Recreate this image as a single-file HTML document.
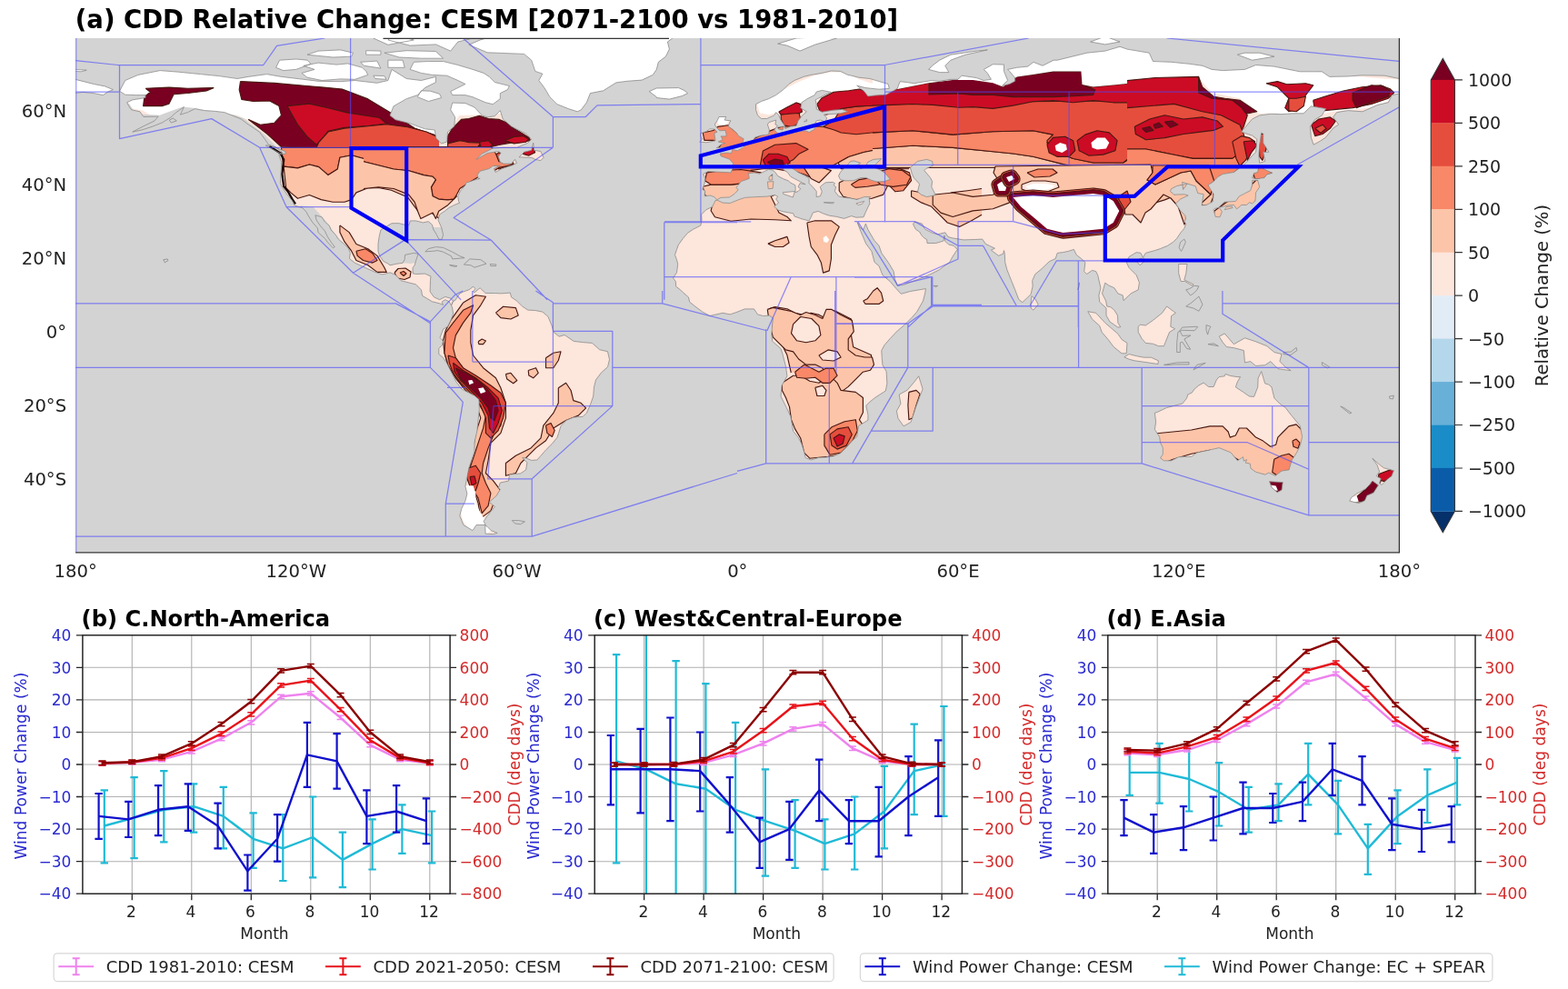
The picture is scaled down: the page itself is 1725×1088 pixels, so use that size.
<!DOCTYPE html>
<html><head><meta charset="utf-8"><title>CDD Relative Change</title>
<style>html,body{margin:0;padding:0;background:#fff;} svg{display:block;} text{font-family:"DejaVu Sans", "Liberation Sans", sans-serif;}</style>
</head><body>
<svg width="1725" height="1088" viewBox="0 0 1725 1088">
<rect width="1725" height="1088" fill="#fff"/>
<text x="82.8" y="30.6" font-size="27.5" font-weight="bold" fill="#000">(a) CDD Relative Change: CESM [2071-2100 vs 1981-2010]</text>
<clipPath id="mapclip"><rect x="83.1" y="42.0" width="1456.3" height="565.8"/></clipPath>
<g clip-path="url(#mapclip)">
<rect x="83.1" y="42.0" width="1456.3" height="565.8" fill="#d3d3d3"/>
<clipPath id="landclip"><path d="M131.6,100.2 L137.7,88.5 L151.9,82.4 L176.1,77.6 L196.4,79.2 L220.6,81.6 L240.9,83.6 L261.1,86.5 L273.2,84.4 L293.5,81.6 L309.6,84.4 L333.9,87.3 L350.1,89.3 L374.4,89.7 L390.5,88.5 L414.8,91.3 L426.9,88.5 L431.0,76.4 L447.2,86.5 L463.4,88.5 L479.5,84.4 L479.5,90.5 L467.4,96.6 L459.3,104.6 L447.2,108.7 L433.0,116.8 L429.0,126.9 L435.0,131.7 L451.2,135.8 L467.4,141.8 L478.3,143.0 L479.5,151.9 L485.6,158.0 L491.7,156.0 L492.5,145.1 L499.8,139.0 L500.6,128.9 L495.7,120.8 L497.7,113.1 L511.9,113.5 L522.0,118.0 L530.1,126.9 L536.2,128.9 L544.3,127.7 L550.3,121.6 L553.2,130.9 L562.5,139.0 L568.5,142.2 L578.6,147.1 L584.7,153.1 L580.7,157.2 L568.5,162.4 L552.4,162.4 L542.2,163.2 L530.1,169.3 L524.0,175.4 L536.2,168.5 L548.3,166.5 L551.1,168.1 L548.3,172.1 L550.3,178.6 L554.4,180.2 L562.5,180.2 L566.5,175.4 L568.5,179.4 L562.5,182.2 L552.4,185.5 L545.1,189.5 L543.5,185.5 L550.3,182.2 L542.2,182.6 L538.2,185.5 L528.1,188.3 L525.2,192.3 L526.1,196.4 L528.1,196.4 L522.0,198.0 L512.7,201.2 L511.9,203.7 L508.3,208.1 L506.6,209.7 L503.8,215.8 L504.6,221.8 L505.8,223.1 L499.8,225.5 L493.7,228.7 L489.7,231.9 L483.6,236.0 L482.0,242.1 L485.6,250.1 L487.6,258.2 L486.0,263.5 L482.8,263.1 L480.3,258.2 L476.7,252.2 L475.5,247.3 L471.4,243.7 L465.4,244.9 L457.3,242.9 L451.2,242.9 L450.0,247.7 L445.2,247.3 L439.1,245.7 L431.0,245.7 L426.9,248.1 L418.9,253.0 L417.2,260.2 L416.0,268.3 L416.0,276.4 L417.6,281.3 L421.7,287.3 L426.9,290.1 L429.0,291.8 L437.1,290.1 L443.1,289.3 L445.2,285.3 L445.6,280.4 L455.3,278.4 L460.1,279.2 L457.7,286.5 L456.1,291.8 L454.1,294.6 L454.1,300.7 L457.3,301.5 L467.4,301.1 L473.9,303.9 L473.5,308.7 L473.1,320.9 L477.5,326.9 L483.6,329.7 L489.7,326.5 L495.7,328.1 L498.6,331.4 L496.5,335.8 L494.1,331.8 L489.7,329.7 L486.0,332.2 L487.6,335.4 L483.6,333.8 L475.5,331.8 L464.6,325.3 L463.4,318.8 L457.3,312.8 L449.2,310.8 L441.1,308.7 L435.0,302.3 L429.0,299.8 L420.9,301.9 L412.8,299.4 L404.7,295.8 L398.6,293.0 L390.5,289.3 L384.5,284.5 L385.3,278.4 L383.3,273.2 L378.4,268.3 L372.3,263.1 L369.1,258.2 L364.2,253.0 L362.2,248.1 L357.4,244.1 L354.1,238.8 L346.9,236.8 L348.1,242.1 L352.1,248.1 L357.4,254.2 L360.2,260.2 L364.2,266.3 L368.3,271.6 L366.3,272.8 L360.2,266.3 L357.4,262.3 L350.1,255.8 L349.3,250.9 L344.0,244.9 L338.8,236.8 L337.1,233.2 L332.7,228.7 L323.8,225.9 L321.8,221.0 L315.7,213.8 L310.4,205.7 L308.4,201.6 L308.8,195.6 L309.2,187.5 L309.6,178.6 L306.8,169.7 L314.5,169.3 L313.7,166.5 L305.6,163.2 L295.5,159.2 L291.4,153.1 L285.4,145.1 L279.3,141.0 L273.2,137.0 L265.1,130.9 L257.0,127.7 L246.9,123.6 L236.8,122.4 L224.7,121.6 L214.6,119.6 L206.5,123.6 L198.4,126.1 L202.4,117.6 L192.3,124.8 L188.3,128.9 L178.2,135.0 L168.1,139.0 L155.9,143.0 L145.8,145.1 L155.9,139.8 L170.1,132.9 L174.1,128.1 L157.9,128.5 L153.9,122.8 L144.6,120.8 L141.8,116.8 L139.7,112.7 L145.8,109.9 L160.0,107.5 L160.0,104.6 L149.8,104.6 L137.7,104.2ZM515.9,49.3 L536.2,57.8 L576.6,59.4 L584.7,66.2 L588.8,78.4 L596.9,81.2 L592.8,88.5 L598.9,96.6 L604.9,106.7 L613.0,114.7 L625.2,119.6 L635.3,122.8 L639.3,120.8 L645.4,112.7 L649.4,102.6 L663.6,99.8 L677.8,90.9 L689.9,89.3 L706.1,88.1 L718.2,82.4 L722.3,76.4 L724.3,68.3 L732.4,62.2 L736.4,54.1 L734.4,46.0 L742.5,40.0 L742.5,29.9 L568.5,29.9 L548.3,38.0 L528.1,44.0ZM560.4,94.5 L558.4,98.6 L550.3,102.6 L550.3,108.7 L542.2,114.7 L534.1,112.7 L520.0,106.7 L511.9,104.6 L497.7,104.6 L495.7,100.6 L511.9,92.5 L503.8,88.5 L491.7,83.2 L475.5,82.4 L463.4,80.4 L451.2,76.4 L455.3,68.3 L471.4,67.5 L487.6,67.5 L503.8,71.5 L520.0,76.4 L532.1,80.4 L538.2,84.4 L544.3,90.5ZM404.7,82.4 L390.5,87.3 L374.4,86.9 L354.1,88.5 L338.0,85.2 L331.9,80.4 L346.0,76.4 L333.9,72.3 L350.1,69.1 L370.3,71.1 L382.5,69.9 L398.6,74.3 L402.7,78.4ZM342.0,70.3 L325.8,76.4 L311.7,77.6 L303.6,74.3 L307.6,66.2 L325.8,65.0 L338.0,66.2ZM487.6,64.2 L463.4,64.2 L439.1,63.0 L422.9,58.2 L447.2,55.7 L479.5,56.5ZM495.7,56.1 L479.5,48.9 L451.2,50.1 L426.9,44.0 L439.1,33.9 L560.4,29.9 L528.1,40.0 L503.8,46.0ZM445.2,74.3 L426.9,74.3 L426.9,66.2 L443.1,66.2ZM418.9,75.1 L400.7,72.3 L396.6,68.3 L414.8,67.1ZM386.5,62.2 L366.3,63.0 L338.0,60.2 L350.1,56.1 L374.4,54.9 L388.5,58.2ZM418.9,60.2 L402.7,60.2 L402.7,55.7 L418.9,56.1ZM455.3,44.0 L426.9,49.3 L410.8,42.0 L431.0,37.2ZM485.6,107.5 L471.4,111.5 L459.3,106.7 L463.4,99.8 L473.5,100.2 L483.6,103.4ZM424.9,87.3 L412.8,86.5 L410.8,83.2 L422.9,83.6ZM571.0,172.9 L576.6,167.3 L584.7,165.3 L586.7,157.2 L587.5,165.3 L594.8,166.5 L598.1,173.3 L594.8,176.6 L588.8,175.4 L584.7,173.3ZM311.7,169.7 L305.6,167.3 L292.2,160.0 L297.5,160.0 L303.6,162.0 L308.8,166.1ZM498.6,331.0 L500.6,330.6 L505.8,322.9 L509.9,320.9 L515.9,318.8 L520.8,315.2 L522.8,317.6 L520.4,320.9 L522.0,321.7 L528.1,316.8 L534.1,322.5 L544.3,322.5 L551.5,322.9 L561.3,322.1 L562.5,326.9 L568.5,331.0 L574.6,337.0 L580.7,341.1 L588.8,341.5 L596.9,343.1 L602.9,348.3 L607.0,358.0 L609.0,365.3 L615.1,370.2 L621.1,368.5 L631.2,375.4 L641.3,376.6 L651.5,377.4 L659.6,384.7 L668.5,386.7 L670.5,395.6 L668.5,403.7 L661.6,409.8 L655.5,417.9 L653.5,425.9 L652.7,436.0 L649.4,445.3 L645.4,454.2 L641.3,458.3 L631.2,459.1 L623.1,462.3 L617.1,468.4 L614.6,476.5 L613.0,481.3 L607.0,488.6 L600.9,494.6 L594.8,501.5 L590.8,506.0 L584.7,506.4 L578.6,503.9 L574.6,503.5 L579.9,508.8 L578.6,516.9 L572.6,520.9 L560.4,522.1 L559.6,529.0 L550.3,531.0 L548.3,537.1 L550.3,538.3 L546.3,545.2 L538.2,552.4 L544.3,557.3 L536.2,567.4 L532.1,573.4 L534.1,577.5 L524.0,577.5 L520.0,583.6 L509.9,577.5 L505.8,567.4 L507.9,559.3 L511.9,551.2 L513.9,543.1 L511.9,535.1 L513.9,525.0 L515.9,514.8 L520.0,502.7 L522.0,496.7 L522.0,486.6 L524.8,474.4 L526.1,462.3 L527.3,450.2 L526.9,439.3 L522.0,435.2 L507.9,428.0 L501.8,419.9 L497.7,411.8 L491.7,399.7 L487.6,393.6 L482.8,389.6 L482.8,383.5 L486.4,379.5 L487.6,375.4 L484.0,371.4 L487.6,362.1 L492.5,359.3 L496.5,351.2 L498.6,345.1 L497.7,339.0 L496.5,335.8ZM533.7,577.9 L534.1,587.2 L542.2,587.6 L547.1,586.4 L540.2,583.6 L536.2,579.5ZM788.6,219.8 L785.8,216.6 L781.3,215.0 L775.2,215.8 L775.7,209.7 L772.8,208.5 L775.2,201.6 L775.7,195.6 L773.6,191.5 L778.9,188.7 L787.8,189.1 L797.1,189.5 L804.0,189.9 L806.0,185.5 L806.4,179.4 L802.4,175.0 L793.0,171.7 L792.2,168.9 L799.1,168.1 L804.8,168.5 L805.6,164.5 L811.3,165.7 L817.3,162.4 L821.4,158.8 L825.4,157.2 L829.5,153.1 L830.7,151.1 L837.5,149.1 L845.6,147.9 L846.4,143.0 L844.4,137.0 L846.0,134.5 L853.7,132.1 L852.9,137.0 L855.3,138.2 L851.7,143.0 L854.9,145.9 L855.7,147.1 L861.8,145.5 L867.9,147.1 L876.0,145.1 L886.1,143.8 L890.1,145.5 L896.2,142.2 L896.2,137.0 L898.2,132.9 L902.3,132.1 L908.3,134.1 L909.6,129.7 L906.3,126.1 L924.5,124.8 L932.6,122.8 L926.5,120.4 L916.4,121.2 L904.3,123.2 L898.2,120.0 L898.2,114.7 L897.0,109.9 L910.4,103.0 L914.4,101.4 L904.3,99.4 L898.2,101.0 L896.2,104.6 L888.1,108.7 L882.0,112.7 L880.8,118.8 L887.3,122.8 L882.0,127.7 L878.0,132.9 L876.0,138.2 L869.9,139.0 L863.8,141.4 L863.0,137.8 L859.0,132.1 L856.6,126.5 L853.7,123.6 L851.7,126.9 L843.6,130.5 L837.5,130.5 L833.5,126.9 L831.5,120.8 L831.5,114.7 L837.5,111.5 L845.6,108.7 L853.7,104.6 L861.8,98.6 L867.9,92.5 L874.0,88.5 L884.1,84.4 L892.2,82.4 L904.3,80.4 L914.4,78.0 L924.5,78.4 L932.6,82.4 L936.7,83.2 L944.7,85.2 L956.9,86.5 L977.1,92.5 L978.3,97.4 L967.0,98.2 L952.0,96.6 L942.7,94.1 L950.8,100.6 L954.9,105.9 L962.9,105.0 L975.1,104.2 L987.2,97.4 L990.1,89.7 L997.3,90.5 L1005.4,91.7 L1025.6,88.5 L1033.7,89.3 L1045.9,87.3 L1054.0,87.3 L1058.0,83.2 L1074.2,85.6 L1082.3,88.5 L1090.4,87.3 L1086.3,80.4 L1082.3,76.4 L1092.4,70.7 L1104.5,71.1 L1104.5,78.4 L1108.6,88.5 L1102.5,94.5 L1110.6,92.5 L1116.7,89.3 L1116.7,85.6 L1110.6,78.4 L1108.6,76.4 L1118.7,74.3 L1130.8,73.1 L1136.9,68.3 L1147.0,72.3 L1159.1,66.2 L1163.2,66.2 L1195.6,58.2 L1215.8,56.1 L1232.0,51.3 L1240.0,54.1 L1264.3,58.2 L1268.4,67.5 L1288.6,68.3 L1308.8,70.3 L1323.0,72.3 L1333.1,76.4 L1345.2,77.6 L1369.5,76.4 L1381.6,71.5 L1401.9,73.1 L1418.0,76.4 L1430.2,78.8 L1454.4,78.8 L1462.5,84.4 L1482.8,84.0 L1498.9,82.8 L1523.2,83.2 L1541.4,86.9 L1541.4,102.6 L1531.3,104.6 L1527.3,112.7 L1515.1,115.6 L1498.9,122.8 L1482.8,121.6 L1470.6,123.6 L1466.6,128.9 L1472.7,137.0 L1466.6,141.0 L1458.5,151.1 L1452.4,155.2 L1445.1,159.2 L1442.3,151.1 L1441.5,139.0 L1446.4,131.7 L1454.4,126.9 L1458.5,119.6 L1442.3,116.8 L1434.2,124.8 L1422.1,124.8 L1410.0,125.7 L1397.8,125.3 L1385.7,126.9 L1377.6,130.9 L1365.5,145.1 L1377.6,149.1 L1382.8,153.1 L1381.6,167.3 L1377.6,171.3 L1369.5,180.2 L1357.4,189.5 L1345.2,191.5 L1340.0,194.4 L1335.1,199.6 L1329.0,203.7 L1335.1,213.8 L1334.3,221.8 L1327.0,225.5 L1322.2,225.9 L1323.0,219.8 L1324.2,213.8 L1317.7,212.5 L1315.3,204.9 L1304.8,201.6 L1300.7,200.4 L1301.5,208.5 L1306.0,202.4 L1294.7,204.5 L1288.6,207.7 L1287.4,210.5 L1291.8,214.2 L1302.8,213.8 L1307.2,215.0 L1298.7,219.0 L1293.4,223.9 L1298.7,231.9 L1304.0,237.2 L1304.4,240.4 L1302.8,244.1 L1304.8,246.1 L1302.8,251.3 L1298.7,256.2 L1294.7,262.3 L1290.6,266.3 L1284.5,270.3 L1276.5,273.6 L1270.4,275.6 L1260.3,278.4 L1257.4,283.3 L1255.0,278.4 L1250.2,277.6 L1242.1,282.5 L1239.2,288.5 L1242.1,294.6 L1250.2,302.7 L1253.4,310.8 L1252.2,318.8 L1244.1,322.9 L1236.0,330.6 L1235.2,324.9 L1229.9,322.9 L1225.9,316.8 L1219.8,314.0 L1215.8,311.2 L1212.5,322.9 L1216.6,331.0 L1217.8,337.0 L1221.8,337.8 L1225.9,341.1 L1229.5,347.1 L1229.9,355.2 L1232.8,359.7 L1229.9,360.1 L1221.0,354.0 L1217.0,347.1 L1217.0,339.0 L1209.7,332.2 L1208.9,324.9 L1210.9,316.8 L1207.7,302.7 L1205.7,298.6 L1201.6,297.4 L1195.6,301.5 L1192.7,298.6 L1193.9,288.5 L1189.5,284.5 L1184.2,280.4 L1181.4,274.4 L1175.3,276.4 L1169.3,277.6 L1163.2,278.4 L1161.2,284.5 L1154.3,287.7 L1145.0,296.6 L1138.9,301.5 L1135.7,308.7 L1136.1,314.8 L1134.1,323.7 L1130.8,326.9 L1124.8,332.6 L1120.7,329.3 L1116.7,318.8 L1112.6,308.7 L1107.8,296.6 L1105.7,288.5 L1105.3,279.6 L1104.5,275.6 L1103.7,279.2 L1098.5,281.3 L1090.4,275.2 L1094.4,273.2 L1088.4,270.3 L1084.3,268.3 L1080.7,263.1 L1072.2,263.5 L1060.0,263.9 L1047.9,261.9 L1043.0,260.6 L1039.8,255.8 L1031.7,257.8 L1025.6,256.2 L1017.6,252.2 L1014.3,246.1 L1007.4,244.1 L1005.4,244.9 L1004.6,246.9 L1007.4,252.2 L1011.5,255.0 L1014.3,259.4 L1016.8,261.9 L1019.6,263.5 L1020.0,267.5 L1029.7,267.5 L1037.8,265.1 L1039.0,259.0 L1039.4,265.1 L1043.9,269.1 L1049.1,270.3 L1053.2,274.4 L1047.9,282.5 L1044.7,288.5 L1037.8,293.4 L1033.7,296.6 L1022.4,302.3 L1009.5,307.5 L993.3,313.6 L987.2,314.0 L984.4,306.7 L983.2,298.6 L977.1,288.5 L969.8,278.4 L967.0,270.3 L961.7,264.3 L954.9,252.6 L952.4,246.1 L949.6,253.0 L946.0,250.1 L943.1,244.5 L946.8,254.2 L952.8,268.3 L958.9,276.4 L962.1,288.5 L967.0,292.6 L971.0,302.7 L979.1,309.5 L986.0,317.6 L991.3,323.3 L1001.4,320.5 L1018.4,317.6 L1017.6,322.9 L1015.5,331.0 L1008.7,343.1 L1003.4,349.1 L995.3,357.2 L987.2,364.1 L979.1,372.6 L973.1,379.5 L969.8,385.5 L970.2,393.6 L971.0,401.7 L975.1,408.6 L975.9,421.9 L974.3,430.0 L962.9,437.3 L956.9,442.1 L952.8,446.1 L954.9,456.2 L954.9,462.3 L944.7,468.4 L943.9,472.4 L942.7,480.5 L937.9,484.5 L932.6,490.6 L924.5,498.7 L916.4,501.9 L908.3,503.1 L900.2,503.5 L892.2,506.0 L886.1,503.5 L884.9,497.9 L882.0,488.6 L878.0,480.9 L872.7,474.4 L869.9,458.3 L865.1,448.2 L859.0,436.0 L860.2,423.9 L865.9,413.8 L864.6,403.7 L861.0,389.6 L859.0,383.5 L849.7,375.4 L848.9,367.3 L849.7,356.4 L850.5,350.0 L846.4,347.1 L839.6,347.5 L833.5,345.9 L829.5,339.9 L819.3,339.9 L811.3,343.1 L803.2,345.9 L795.1,344.3 L780.9,347.5 L772.8,343.1 L764.7,337.0 L758.7,332.2 L757.4,326.9 L751.4,321.7 L748.5,318.8 L743.7,315.2 L743.3,309.5 L740.5,305.9 L744.5,299.8 L745.7,290.5 L744.5,285.7 L742.5,280.4 L744.5,274.4 L746.5,269.1 L751.4,262.3 L756.6,256.2 L762.7,252.2 L770.8,248.1 L772.0,242.1 L771.6,236.0 L776.9,230.7 L783.7,227.5 L787.0,220.6 L789.0,220.2 L795.1,223.1 L803.2,223.5 L811.3,220.2 L819.3,217.4 L831.5,216.6 L843.6,216.2 L852.5,214.6 L855.7,216.2 L853.7,219.0 L856.6,223.1 L851.7,227.1 L855.7,231.1 L861.8,232.8 L872.7,234.8 L874.0,238.0 L882.0,240.8 L890.1,242.9 L892.6,238.0 L894.2,234.0 L900.2,232.4 L906.3,235.2 L912.4,237.2 L920.5,238.4 L928.6,240.4 L936.7,237.6 L941.9,239.2 L950.0,238.8 L952.0,234.0 L954.9,227.9 L956.9,223.9 L956.1,217.8 L957.7,216.6 L950.8,216.6 L942.7,219.4 L934.6,217.8 L928.6,217.4 L922.5,215.8 L918.4,210.5 L919.7,205.7 L917.2,203.7 L918.4,201.6 L916.4,200.4 L908.3,200.8 L904.3,203.7 L902.3,205.7 L904.3,210.9 L902.3,215.8 L898.2,216.6 L898.2,210.5 L894.2,205.7 L890.1,201.6 L890.1,196.4 L886.1,193.6 L878.0,189.5 L874.0,186.7 L867.9,182.6 L865.9,180.6 L861.0,182.2 L861.8,186.7 L866.3,189.5 L869.9,194.4 L876.0,197.6 L886.1,202.8 L880.0,201.6 L878.0,205.7 L880.8,207.7 L878.0,210.5 L874.8,211.7 L875.2,207.7 L874.8,203.7 L869.9,201.2 L867.1,198.8 L861.8,196.8 L855.7,193.6 L852.9,189.5 L849.7,187.1 L845.6,186.3 L841.6,188.3 L835.5,191.1 L829.5,189.9 L823.4,190.7 L824.2,195.6 L824.2,196.4 L815.3,199.6 L811.3,204.5 L810.0,206.5 L812.1,208.9 L808.0,213.4 L802.4,217.0 L793.0,217.4ZM81.1,86.9 L103.3,92.5 L115.5,94.9 L124.4,98.6 L119.5,100.6 L113.4,104.6 L103.3,102.6 L91.2,101.4 L81.1,102.6ZM788.2,162.8 L797.1,162.0 L807.2,160.4 L816.5,158.8 L818.1,152.7 L812.5,149.5 L810.4,146.3 L805.2,141.8 L801.1,139.0 L802.8,134.5 L804.0,132.9 L797.1,132.1 L798.7,128.5 L791.0,128.5 L789.0,132.9 L786.2,137.0 L789.0,141.0 L791.8,143.8 L797.9,143.4 L799.1,147.9 L798.7,149.9 L793.0,149.9 L794.3,151.9 L794.7,153.9 L790.2,156.0 L797.9,157.6 L794.3,158.4ZM787.0,154.8 L785.8,146.7 L789.0,145.1 L786.2,142.2 L780.9,141.8 L776.9,144.7 L770.8,146.7 L770.8,149.9 L772.8,153.1 L769.6,156.0 L776.9,156.8ZM722.3,106.7 L714.2,100.6 L722.3,97.0 L746.5,96.6 L752.6,99.4 L756.6,102.6 L750.6,105.5 L736.4,109.1 L722.3,107.5ZM1340.8,227.9 L1347.2,222.2 L1359.4,221.4 L1363.4,215.8 L1367.5,213.8 L1375.6,209.7 L1377.6,203.7 L1377.6,198.4 L1383.7,198.4 L1385.7,205.7 L1381.6,211.7 L1381.2,217.8 L1380.8,221.0 L1377.6,223.9 L1374.4,222.7 L1371.5,225.5 L1365.5,225.5 L1364.6,226.7 L1360.6,229.9 L1357.4,225.5 L1351.3,225.9 L1343.2,227.9ZM1335.1,230.7 L1337.1,238.4 L1342.0,238.8 L1344.4,232.8 L1341.2,228.3 L1336.3,229.5ZM1347.2,230.7 L1356.1,228.7 L1355.3,227.1 L1349.3,227.5ZM1377.6,195.6 L1379.6,190.7 L1383.7,189.5 L1384.9,181.8 L1391.7,186.7 L1399.8,190.3 L1393.8,191.9 L1390.9,195.6 L1381.6,196.8ZM1385.7,179.4 L1391.7,177.4 L1389.7,167.3 L1395.8,167.3 L1389.7,157.2 L1389.7,147.1 L1387.7,145.9 L1385.7,159.2 L1384.9,171.3ZM1250.6,287.7 L1254.2,291.8 L1260.3,286.1 L1258.3,284.1 L1253.4,284.5ZM1134.1,339.0 L1136.9,341.1 L1142.2,335.0 L1138.9,328.9 L1134.9,325.7 L1134.1,333.0ZM1296.7,290.5 L1306.0,290.5 L1304.8,300.7 L1302.8,307.9 L1312.9,312.8 L1312.1,314.4 L1303.6,309.5 L1299.1,309.5 L1296.7,300.7ZM1252.2,359.3 L1254.6,357.2 L1260.3,358.0 L1268.4,352.4 L1278.5,344.3 L1283.7,337.0 L1290.6,342.3 L1293.4,344.3 L1288.6,347.5 L1287.8,359.3 L1292.6,361.7 L1286.6,365.3 L1282.5,375.4 L1280.5,380.7 L1274.4,380.7 L1268.4,378.2 L1260.3,377.4 L1256.2,372.6 L1252.2,365.3ZM1196.8,342.7 L1205.7,344.3 L1215.8,355.2 L1229.9,367.3 L1234.0,373.4 L1240.0,377.4 L1239.2,388.8 L1234.0,388.8 L1225.1,381.5 L1219.0,373.4 L1212.1,365.3 L1209.7,358.4 L1201.6,351.2ZM1236.8,392.8 L1242.1,389.6 L1250.2,391.6 L1258.3,393.2 L1266.3,393.2 L1274.4,396.8 L1274.0,400.5 L1260.3,398.5 L1248.1,396.8 L1242.1,395.2ZM1341.2,370.2 L1347.2,366.9 L1357.4,378.7 L1369.5,371.8 L1381.6,375.8 L1393.8,380.7 L1401.9,387.5 L1410.0,389.6 L1407.9,397.6 L1414.0,403.7 L1420.1,407.7 L1405.9,405.7 L1397.8,397.6 L1391.7,401.7 L1381.6,402.5 L1375.6,397.6 L1369.5,398.9 L1368.3,385.5 L1357.4,382.7 L1349.3,381.5 L1345.2,376.6ZM1270.4,454.2 L1273.2,453.4 L1283.3,448.6 L1292.6,446.1 L1300.7,444.1 L1305.6,438.1 L1306.8,434.0 L1311.2,432.0 L1314.1,428.0 L1318.9,423.9 L1324.2,421.1 L1329.5,425.5 L1335.1,425.5 L1338.3,417.9 L1341.2,414.6 L1347.2,413.8 L1348.1,411.4 L1353.3,413.4 L1361.0,414.6 L1364.6,414.6 L1361.4,419.9 L1359.4,425.9 L1367.5,431.2 L1374.4,436.0 L1379.6,436.4 L1383.7,425.9 L1384.1,416.2 L1387.7,408.6 L1391.7,421.9 L1395.8,423.1 L1399.0,425.9 L1401.9,438.1 L1407.9,444.1 L1414.0,448.2 L1420.1,456.2 L1430.2,468.4 L1432.6,480.5 L1430.2,490.6 L1426.1,498.7 L1421.3,506.0 L1418.0,516.9 L1410.0,518.1 L1403.1,523.3 L1395.8,520.1 L1391.7,522.1 L1381.6,519.3 L1376.0,515.3 L1375.2,510.0 L1370.3,509.2 L1371.5,505.6 L1368.3,507.2 L1367.5,502.7 L1361.4,506.8 L1359.8,504.7 L1354.1,497.9 L1341.2,492.6 L1329.0,495.4 L1316.9,497.9 L1310.8,502.3 L1296.7,502.7 L1288.6,506.8 L1280.5,506.8 L1276.5,503.9 L1279.3,499.9 L1279.3,492.6 L1276.5,486.6 L1275.6,480.5 L1270.4,472.4 L1271.6,464.3ZM1396.6,529.8 L1411.2,530.6 L1410.0,539.1 L1405.1,541.5 L1399.0,536.3ZM1509.9,504.3 L1517.2,510.8 L1522.4,514.8 L1533.3,517.7 L1530.9,523.7 L1526.5,527.0 L1520.0,533.4 L1517.6,531.8 L1519.2,526.6 L1514.3,523.7 L1517.6,518.9 L1515.1,511.6ZM1509.9,529.0 L1516.3,533.8 L1511.1,541.9 L1503.8,545.2 L1501.4,550.8 L1494.9,553.6 L1484.8,551.2 L1486.8,547.2 L1492.5,543.1 L1502.2,537.9 L1507.0,533.0ZM1010.7,413.8 L1015.1,428.0 L1012.7,434.0 L1007.4,448.2 L1002.2,464.3 L994.1,468.8 L988.0,460.3 L986.4,452.2 L990.9,444.1 L989.2,434.0 L998.1,429.2 L1005.4,420.7ZM1021.6,76.4 L1033.7,79.6 L1043.9,79.6 L1039.8,72.3 L1045.9,66.2 L1062.1,60.2 L1086.3,54.9 L1074.2,56.1 L1045.9,60.2 L1033.7,66.2 L1025.6,72.3ZM855.7,48.1 L876.0,42.0 L900.2,40.8 L920.5,42.0 L896.2,49.3 L880.0,56.1 L865.9,50.1ZM1199.6,46.0 L1215.8,48.9 L1232.0,46.0 L1215.8,40.0ZM1361.4,60.2 L1377.6,66.2 L1401.9,62.2 L1385.7,58.2 L1369.5,58.2ZM81.1,76.4 L95.2,77.2 L89.2,78.8 L81.1,78.4ZM846.0,198.0 L849.7,198.0 L849.7,191.5 L846.0,194.8ZM845.2,207.7 L850.1,207.3 L850.9,199.6 L844.4,200.0ZM861.4,211.7 L874.4,210.5 L872.3,217.0 L861.8,213.4ZM906.3,222.7 L917.6,222.7 L916.4,223.9 L908.3,223.1ZM941.9,223.9 L950.8,221.4 L948.4,224.3 L944.3,225.5ZM855.3,140.2 L862.2,139.0 L861.0,143.0 L856.6,142.2ZM884.5,134.1 L887.3,131.3 L887.7,133.3Z"/></clipPath>
<g clip-path="url(#landclip)">
<rect x="83.1" y="42.0" width="1456.3" height="565.8" fill="#fde6dc"/>
<path d="M515.9,49.3 L536.2,57.8 L576.6,59.4 L584.7,66.2 L588.8,78.4 L596.9,81.2 L592.8,88.5 L598.9,96.6 L604.9,106.7 L613.0,114.7 L625.2,119.6 L635.3,122.8 L639.3,120.8 L645.4,112.7 L649.4,102.6 L663.6,99.8 L677.8,90.9 L689.9,89.3 L706.1,88.1 L718.2,82.4 L722.3,76.4 L724.3,68.3 L732.4,62.2 L736.4,54.1 L734.4,46.0 L742.5,40.0 L742.5,29.9 L568.5,29.9 L548.3,38.0 L528.1,44.0ZM560.4,94.5 L558.4,98.6 L550.3,102.6 L550.3,108.7 L542.2,114.7 L534.1,112.7 L520.0,106.7 L511.9,104.6 L497.7,104.6 L495.7,100.6 L511.9,92.5 L503.8,88.5 L491.7,83.2 L475.5,82.4 L463.4,80.4 L451.2,76.4 L455.3,68.3 L471.4,67.5 L487.6,67.5 L503.8,71.5 L520.0,76.4 L532.1,80.4 L538.2,84.4 L544.3,90.5ZM404.7,82.4 L390.5,87.3 L374.4,86.9 L354.1,88.5 L338.0,85.2 L331.9,80.4 L346.0,76.4 L333.9,72.3 L350.1,69.1 L370.3,71.1 L382.5,69.9 L398.6,74.3 L402.7,78.4ZM342.0,70.3 L325.8,76.4 L311.7,77.6 L303.6,74.3 L307.6,66.2 L325.8,65.0 L338.0,66.2ZM487.6,64.2 L463.4,64.2 L439.1,63.0 L422.9,58.2 L447.2,55.7 L479.5,56.5ZM495.7,56.1 L479.5,48.9 L451.2,50.1 L426.9,44.0 L439.1,33.9 L560.4,29.9 L528.1,40.0 L503.8,46.0ZM445.2,74.3 L426.9,74.3 L426.9,66.2 L443.1,66.2ZM418.9,75.1 L400.7,72.3 L396.6,68.3 L414.8,67.1ZM386.5,62.2 L366.3,63.0 L338.0,60.2 L350.1,56.1 L374.4,54.9 L388.5,58.2ZM418.9,60.2 L402.7,60.2 L402.7,55.7 L418.9,56.1ZM455.3,44.0 L426.9,49.3 L410.8,42.0 L431.0,37.2ZM485.6,107.5 L471.4,111.5 L459.3,106.7 L463.4,99.8 L473.5,100.2 L483.6,103.4ZM424.9,87.3 L412.8,86.5 L410.8,83.2 L422.9,83.6ZM722.3,106.7 L714.2,100.6 L722.3,97.0 L746.5,96.6 L752.6,99.4 L756.6,102.6 L750.6,105.5 L736.4,109.1 L722.3,107.5ZM855.7,48.1 L876.0,42.0 L900.2,40.8 L920.5,42.0 L896.2,49.3 L880.0,56.1 L865.9,50.1ZM1021.6,76.4 L1033.7,79.6 L1043.9,79.6 L1039.8,72.3 L1045.9,66.2 L1062.1,60.2 L1086.3,54.9 L1074.2,56.1 L1045.9,60.2 L1033.7,66.2 L1025.6,72.3ZM1199.6,46.0 L1215.8,48.9 L1232.0,46.0 L1215.8,40.0ZM1361.4,60.2 L1377.6,66.2 L1401.9,62.2 L1385.7,58.2 L1369.5,58.2ZM81.1,76.4 L95.2,77.2 L89.2,78.8 L81.1,78.4Z" fill="#fff" stroke="none"/>
<path d="M83.0,48.0 L640.0,48.0 L640.0,122.0 L575.0,122.0 L540.0,126.0 L505.0,127.0 L497.0,140.0 L488.0,152.0 L440.0,140.0 L300.0,112.0 L83.0,112.0Z" fill="#ffffff"/>
<path d="M140.9,87.8 L160.2,80.6 L186.0,78.0 L211.7,80.6 L237.4,83.2 L263.2,85.2 L288.9,87.0 L314.7,88.8 L340.4,91.4 L366.1,93.5 L386.7,94.8 L404.8,97.3 L425.3,103.8 L443.4,102.5 L464.0,103.8 L483.0,105.8 L483.0,152.7 L340.4,145.0 L306.9,137.2 L288.9,137.8 L273.5,132.1 L260.6,126.9 L247.7,124.4 L227.1,126.9 L206.6,126.9 L191.1,132.1 L180.8,135.2 L167.9,128.2 L157.6,121.8 L144.8,119.2 L140.1,111.5 L142.2,101.2 L138.3,93.5Z" fill="#ffffff"/>
<path d="M160.2,97.3 L186.0,96.1 L206.6,97.3 L234.9,96.6 L227.1,99.9 L206.6,102.5 L191.1,103.8 L186.0,114.1 L178.2,116.6 L157.6,116.6 L158.9,106.4 L165.4,101.2Z" fill="#7a0022"/>
<path d="M160.2,97.3 L186.0,96.1 L206.6,97.3 L234.9,96.6 L227.1,99.9 L206.6,102.5 L191.1,103.8 L186.0,114.1 L178.2,116.6 L157.6,116.6 L158.9,106.4 L165.4,101.2 L160.2,97.3" fill="none" stroke="#4a1812" stroke-width="1.15" stroke-linejoin="round"/>
<path d="M80.0,114.0 L142.0,114.0 L146.7,121.0 L157.0,125.7 L175.7,126.8 L185.0,123.3 L201.0,117.5 L212.8,118.7 L224.3,121.0 L241.7,123.3 L259.0,126.8 L268.0,130.0 L274.0,135.0 L288.0,145.4 L301.0,158.0 L310.0,170.0 L310.0,175.0 L80.0,175.0Z" fill="#d3d3d3"/>
<path d="M264.5,89.6 L301.8,91.4 L340.4,94.8 L355.8,96.1 L376.4,98.1 L404.8,108.9 L430.5,124.4 L456.2,141.1 L483.0,150.1 L483.0,162.5 L340.4,162.5 L309.5,161.7 L294.1,147.5 L273.5,131.6 L286.3,137.2 L301.8,135.2 L309.5,126.9 L306.9,116.6 L296.6,111.0 L278.6,111.5 L265.8,109.4 L263.2,98.6Z" fill="#7a0022"/>
<path d="M264.5,89.6 L301.8,91.4 L340.4,94.8 L355.8,96.1 L376.4,98.1 L404.8,108.9 L430.5,124.4 L456.2,141.1 L483.0,150.1M483.0,162.5 L340.4,162.5 L309.5,161.7 L294.1,147.5 L273.5,131.6 L286.3,137.2 L301.8,135.2 L309.5,126.9 L306.9,116.6 L296.6,111.0 L278.6,111.5 L265.8,109.4 L263.2,98.6 L264.5,89.6" fill="none" stroke="#4a1812" stroke-width="1.15" stroke-linejoin="round"/>
<path d="M315.9,116.6 L340.4,114.1 L361.0,118.7 L381.6,123.9 L417.6,129.5 L425.3,136.0 L404.8,138.5 L379.0,140.3 L361.0,144.4 L355.8,151.4 L348.1,159.1 L337.8,150.1 L327.5,137.2Z" fill="#cc0c25"/>
<path d="M315.9,116.6 L340.4,114.1 L361.0,118.7 L381.6,123.9 L417.6,129.5 L425.3,136.0 L404.8,138.5 L379.0,140.3 L361.0,144.4 L355.8,151.4 L348.1,159.1 L337.8,150.1 L327.5,137.2 L315.9,116.6" fill="none" stroke="#4a1812" stroke-width="1.15" stroke-linejoin="round"/>
<path d="M350.7,156.5 L361.0,145.0 L379.0,141.1 L404.8,138.8 L425.3,136.7 L448.5,139.8 L469.1,145.0 L483.0,151.4 L483.0,162.5 L348.1,162.5Z" fill="#e54e3d"/>
<path d="M350.7,156.5 L361.0,145.0 L379.0,141.1 L404.8,138.8 L425.3,136.7 L448.5,139.8 L469.1,145.0 L483.0,151.4M483.0,162.5 L348.1,162.5 L350.7,156.5" fill="none" stroke="#4a1812" stroke-width="1.15" stroke-linejoin="round"/>
<path d="M309.5,162.5 L483.0,162.5 L483.0,222.2 L474.2,219.6 L474.2,196.4 L483.0,190.0 L469.1,186.1 L443.4,187.4 L425.3,181.0 L404.8,175.8 L386.7,170.7 L373.9,173.3 L371.3,186.1 L361.0,192.6 L350.7,183.6 L340.4,181.0 L327.5,184.9 L312.1,183.1 L310.8,175.8Z" fill="#f88867"/>
<path d="M309.5,162.5 L483.0,162.5M483.0,222.2 L474.2,219.6 L474.2,196.4 L483.0,190.0 L469.1,186.1 L443.4,187.4 L425.3,181.0 L404.8,175.8 L386.7,170.7 L373.9,173.3 L371.3,186.1 L361.0,192.6 L350.7,183.6 L340.4,181.0 L327.5,184.9 L312.1,183.1 L310.8,175.8 L309.5,162.5" fill="none" stroke="#4a1812" stroke-width="1.15" stroke-linejoin="round"/>
<path d="M312.1,183.1 L327.5,184.9 L340.4,181.0 L350.7,183.6 L361.0,192.6 L371.3,186.1 L373.9,173.3 L386.7,170.7 L404.8,175.8 L425.3,181.0 L443.4,187.4 L469.1,186.1 L483.0,190.0 L474.2,196.4 L474.2,219.6 L483.0,222.2 L483.0,240.2 L474.2,233.8 L464.0,237.6 L456.2,227.3 L448.5,217.0 L430.5,209.3 L417.6,206.7 L404.8,206.7 L391.9,211.9 L386.7,219.6 L379.0,222.2 L366.1,222.2 L353.3,219.6 L340.4,214.5 L327.5,218.3 L319.8,211.9 L314.7,206.7Z" fill="#fcc5a9"/>
<path d="M312.1,183.1 L327.5,184.9 L340.4,181.0 L350.7,183.6 L361.0,192.6 L371.3,186.1 L373.9,173.3 L386.7,170.7 L404.8,175.8 L425.3,181.0 L443.4,187.4 L469.1,186.1 L483.0,190.0 L474.2,196.4 L474.2,219.6 L483.0,222.2M483.0,240.2 L474.2,233.8 L464.0,237.6 L456.2,227.3 L448.5,217.0 L430.5,209.3 L417.6,206.7 L404.8,206.7 L391.9,211.9 L386.7,219.6 L379.0,222.2 L366.1,222.2 L353.3,219.6 L340.4,214.5 L327.5,218.3 L319.8,211.9 L314.7,206.7 L312.1,183.1" fill="none" stroke="#4a1812" stroke-width="1.15" stroke-linejoin="round"/>
<path d="M373.9,247.9 L384.2,255.6 L391.9,268.5 L404.8,273.7 L415.0,281.4 L422.8,294.3 L425.3,299.4 L415.0,299.4 L404.8,291.7 L391.9,286.5 L386.7,276.2 L379.0,265.9 L373.9,255.6Z" fill="#fcc5a9"/>
<path d="M373.9,247.9 L384.2,255.6 L391.9,268.5 L404.8,273.7 L415.0,281.4 L422.8,294.3 L425.3,299.4 L415.0,299.4 L404.8,291.7 L391.9,286.5 L386.7,276.2 L379.0,265.9 L373.9,255.6 L373.9,247.9" fill="none" stroke="#4a1812" stroke-width="1.15" stroke-linejoin="round"/>
<path d="M391.9,276.2 L402.2,273.7 L409.9,278.8 L415.0,286.5 L409.9,289.1 L399.6,286.5 L393.2,281.4Z" fill="#f88867"/>
<path d="M391.9,276.2 L402.2,273.7 L409.9,278.8 L415.0,286.5 L409.9,289.1 L399.6,286.5 L393.2,281.4 L391.9,276.2" fill="none" stroke="#4a1812" stroke-width="1.15" stroke-linejoin="round"/>
<path d="M492.6,149.6 L497.6,141.3 L507.5,131.4 L515.8,130.6 L527.4,127.3 L537.3,130.6 L548.9,131.4 L557.1,134.7 L565.4,141.3 L573.7,146.3 L581.9,151.3 L583.6,154.6 L573.7,156.2 L562.1,157.1 L548.9,159.5 L540.6,161.5 L492.6,161.5Z" fill="#7a0022"/>
<path d="M492.6,149.6 L497.6,141.3 L507.5,131.4 L515.8,130.6 L527.4,127.3 L537.3,130.6 L548.9,131.4 L557.1,134.7 L565.4,141.3 L573.7,146.3 L581.9,151.3 L583.6,154.6 L573.7,156.2 L562.1,157.1 L548.9,159.5 L540.6,161.5 L492.6,161.5 L492.6,149.6" fill="none" stroke="#4a1812" stroke-width="1.15" stroke-linejoin="round"/>
<path d="M492.6,157.9 L505.9,154.6 L515.8,156.6 L529.0,157.1 L525.7,161.5 L492.6,161.5Z" fill="#e54e3d"/>
<path d="M492.6,157.9 L505.9,154.6 L515.8,156.6 L529.0,157.1 L525.7,161.5 L492.6,161.5 L492.6,157.9" fill="none" stroke="#4a1812" stroke-width="1.15" stroke-linejoin="round"/>
<path d="M527.4,156.2 L537.3,154.6 L542.2,159.5 L538.9,161.5 L529.0,161.5Z" fill="#cc0c25"/>
<path d="M527.4,156.2 L537.3,154.6 L542.2,159.5 L538.9,161.5 L529.0,161.5 L527.4,156.2" fill="none" stroke="#4a1812" stroke-width="1.15" stroke-linejoin="round"/>
<path d="M555.5,154.6 L565.4,150.4 L575.3,149.6 L581.9,152.9 L578.6,156.2 L565.4,157.9Z" fill="#cc0c25"/>
<path d="M555.5,154.6 L565.4,150.4 L575.3,149.6 L581.9,152.9 L578.6,156.2 L565.4,157.9 L555.5,154.6" fill="none" stroke="#4a1812" stroke-width="1.15" stroke-linejoin="round"/>
<path d="M575.3,169.5 L578.6,162.9 L581.9,160.4 L586.9,162.9 L588.6,167.8 L581.9,171.1Z" fill="#cc0c25"/>
<path d="M575.3,169.5 L578.6,162.9 L581.9,160.4 L586.9,162.9 L588.6,167.8 L581.9,171.1 L575.3,169.5" fill="none" stroke="#4a1812" stroke-width="1.15" stroke-linejoin="round"/>
<path d="M543.9,171.1 L548.9,167.8 L555.5,172.8 L563.7,177.7 L565.4,181.0 L558.8,182.7 L548.9,186.0 L543.9,182.7Z" fill="#e54e3d"/>
<path d="M543.9,171.1 L548.9,167.8 L555.5,172.8 L563.7,177.7 L565.4,181.0 L558.8,182.7 L548.9,186.0 L543.9,182.7 L543.9,171.1" fill="none" stroke="#4a1812" stroke-width="1.15" stroke-linejoin="round"/>
<path d="M400.0,161.5 L540.6,161.5 L545.6,169.5 L548.9,177.7 L558.8,179.4 L565.4,181.0 L548.9,184.4 L543.9,187.7 L525.7,195.1 L515.8,200.9 L505.9,207.5 L502.5,214.1 L499.2,219.1 L492.6,219.9 L482.7,219.1 L476.1,215.8 L474.4,205.9 L479.4,197.6 L476.1,194.3 L466.2,192.6 L449.6,187.7 L433.1,186.0 L400.0,177.7Z" fill="#f88867"/>
<path d="M400.0,161.5 L540.6,161.5 L545.6,169.5 L548.9,177.7 L558.8,179.4 L565.4,181.0 L548.9,184.4 L543.9,187.7 L525.7,195.1 L515.8,200.9 L505.9,207.5 L502.5,214.1 L499.2,219.1 L492.6,219.9 L482.7,219.1 L476.1,215.8 L474.4,205.9 L479.4,197.6 L476.1,194.3 L466.2,192.6 L449.6,187.7 L433.1,186.0 L400.0,177.7" fill="none" stroke="#4a1812" stroke-width="1.15" stroke-linejoin="round"/>
<path d="M400.0,177.7 L433.1,186.0 L449.6,187.7 L466.2,192.6 L476.1,194.3 L479.4,197.6 L474.4,205.9 L476.1,215.8 L482.7,219.1 L492.6,219.9 L499.2,219.1 L502.5,215.8 L492.6,225.7 L482.7,232.3 L479.4,240.6 L476.1,234.0 L469.5,237.3 L462.9,240.6 L459.5,232.3 L456.2,222.4 L449.6,214.1 L433.1,207.5 L416.5,205.9 L400.0,207.5Z" fill="#fcc5a9"/>
<path d="M400.0,177.7 L433.1,186.0 L449.6,187.7 L466.2,192.6 L476.1,194.3 L479.4,197.6 L474.4,205.9 L476.1,215.8 L482.7,219.1 L492.6,219.9 L499.2,219.1 L502.5,215.8 L492.6,225.7 L482.7,232.3 L479.4,240.6 L476.1,234.0 L469.5,237.3 L462.9,240.6 L459.5,232.3 L456.2,222.4 L449.6,214.1 L433.1,207.5 L416.5,205.9 L400.0,207.5" fill="none" stroke="#4a1812" stroke-width="1.15" stroke-linejoin="round"/>
<path d="M509.5,333.1 L523.3,324.8 L534.4,326.2 L528.8,335.8 L520.6,346.9 L517.8,363.4 L517.8,377.2 L520.6,391.0 L531.6,404.7 L545.4,415.8 L550.9,426.8 L556.4,443.3 L556.4,459.9 L550.9,476.4 L539.9,487.4 L537.1,506.7 L534.4,520.5 L542.6,528.8 L550.9,539.8 L545.4,548.1 L539.9,561.9 L528.8,570.1 L526.1,553.6 L520.6,537.0 L515.1,528.8 L517.8,509.5 L520.6,492.9 L523.3,476.4 L528.8,459.9 L523.3,443.3 L512.3,429.5 L501.3,415.8 L493.0,402.0 L488.9,388.2 L487.5,374.4 L490.3,363.4 L495.8,352.4Z" fill="#fcc5a9"/>
<path d="M509.5,333.1 L523.3,324.8 L534.4,326.2 L528.8,335.8 L520.6,346.9 L517.8,363.4 L517.8,377.2 L520.6,391.0 L531.6,404.7 L545.4,415.8 L550.9,426.8 L556.4,443.3 L556.4,459.9 L550.9,476.4 L539.9,487.4 L537.1,506.7 L534.4,520.5 L542.6,528.8 L550.9,539.8 L545.4,548.1 L539.9,561.9 L528.8,570.1 L526.1,553.6 L520.6,537.0 L515.1,528.8 L517.8,509.5 L520.6,492.9 L523.3,476.4 L528.8,459.9 L523.3,443.3 L512.3,429.5 L501.3,415.8 L493.0,402.0 L488.9,388.2 L487.5,374.4 L490.3,363.4 L495.8,352.4 L509.5,333.1" fill="none" stroke="#4a1812" stroke-width="1.15" stroke-linejoin="round"/>
<path d="M614.3,426.8 L622.6,421.3 L628.1,429.5 L630.8,440.6 L639.1,443.3 L644.6,448.8 L636.3,457.1 L622.6,462.6 L608.8,470.9 L600.5,484.7 L589.5,492.9 L581.2,501.2 L572.9,509.5 L567.4,520.5 L556.4,523.3 L556.4,509.5 L567.4,501.2 L584.0,492.9 L595.0,481.9 L597.8,468.1 L608.8,454.4 L614.3,443.3Z" fill="#fcc5a9"/>
<path d="M614.3,426.8 L622.6,421.3 L628.1,429.5 L630.8,440.6 L639.1,443.3 L644.6,448.8 L636.3,457.1 L622.6,462.6 L608.8,470.9 L600.5,484.7 L589.5,492.9 L581.2,501.2 L572.9,509.5 L567.4,520.5 L556.4,523.3 L556.4,509.5 L567.4,501.2 L584.0,492.9 L595.0,481.9 L597.8,468.1 L608.8,454.4 L614.3,443.3 L614.3,426.8" fill="none" stroke="#4a1812" stroke-width="1.15" stroke-linejoin="round"/>
<path d="M600.5,468.1 L606.0,465.4 L610.2,473.6 L607.4,480.5 L601.9,476.4Z" fill="#f88867"/>
<path d="M600.5,468.1 L606.0,465.4 L610.2,473.6 L607.4,480.5 L601.9,476.4 L600.5,468.1" fill="none" stroke="#4a1812" stroke-width="1.15" stroke-linejoin="round"/>
<path d="M545.4,344.1 L553.6,337.2 L567.4,338.6 L570.2,346.9 L561.9,351.0 L550.9,349.6Z" fill="#fcc5a9"/>
<path d="M545.4,344.1 L553.6,337.2 L567.4,338.6 L570.2,346.9 L561.9,351.0 L550.9,349.6 L545.4,344.1" fill="none" stroke="#4a1812" stroke-width="1.15" stroke-linejoin="round"/>
<path d="M600.5,393.7 L608.8,388.2 L617.0,386.8 L614.3,396.5 L608.8,404.7 L600.5,404.7Z" fill="#fcc5a9"/>
<path d="M600.5,393.7 L608.8,388.2 L617.0,386.8 L614.3,396.5 L608.8,404.7 L600.5,404.7 L600.5,393.7" fill="none" stroke="#4a1812" stroke-width="1.15" stroke-linejoin="round"/>
<path d="M581.2,407.5 L589.5,404.7 L592.2,410.3 L586.7,415.8 L581.8,413.0Z" fill="#fcc5a9"/>
<path d="M581.2,407.5 L589.5,404.7 L592.2,410.3 L586.7,415.8 L581.8,413.0 L581.2,407.5" fill="none" stroke="#4a1812" stroke-width="1.15" stroke-linejoin="round"/>
<path d="M556.4,411.6 L561.9,410.3 L568.8,418.5 L564.7,421.8 L557.8,417.1Z" fill="#fcc5a9"/>
<path d="M556.4,411.6 L561.9,410.3 L568.8,418.5 L564.7,421.8 L557.8,417.1 L556.4,411.6" fill="none" stroke="#4a1812" stroke-width="1.15" stroke-linejoin="round"/>
<path d="M526.1,375.8 L530.2,373.0 L534.4,375.0 L531.6,378.6 L526.9,378.6Z" fill="#fcc5a9"/>
<path d="M526.1,375.8 L530.2,373.0 L534.4,375.0 L531.6,378.6 L526.9,378.6 L526.1,375.8" fill="none" stroke="#4a1812" stroke-width="1.15" stroke-linejoin="round"/>
<path d="M490.3,366.2 L498.5,355.1 L509.5,341.3 L520.6,335.8 L517.8,344.1 L509.5,355.1 L501.3,368.9 L498.5,382.7 L501.3,393.7 L506.8,402.0 L515.1,410.3 L528.8,418.5 L539.9,429.5 L550.9,437.8 L553.6,451.6 L550.9,468.1 L542.6,479.2 L537.1,492.9 L531.6,509.5 L530.2,520.5 L534.4,531.5 L539.9,542.6 L537.1,556.3 L530.2,564.6 L526.1,548.1 L517.8,534.3 L515.1,520.5 L520.6,504.0 L526.1,487.4 L531.6,470.9 L534.4,457.1 L526.1,443.3 L512.3,429.5 L501.3,415.8 L493.0,402.0 L488.9,388.2Z" fill="#f88867"/>
<path d="M490.3,366.2 L498.5,355.1 L509.5,341.3 L520.6,335.8 L517.8,344.1 L509.5,355.1 L501.3,368.9 L498.5,382.7 L501.3,393.7 L506.8,402.0 L515.1,410.3 L528.8,418.5 L539.9,429.5 L550.9,437.8 L553.6,451.6 L550.9,468.1 L542.6,479.2 L537.1,492.9 L531.6,509.5 L530.2,520.5 L534.4,531.5 L539.9,542.6 L537.1,556.3 L530.2,564.6 L526.1,548.1 L517.8,534.3 L515.1,520.5 L520.6,504.0 L526.1,487.4 L531.6,470.9 L534.4,457.1 L526.1,443.3 L512.3,429.5 L501.3,415.8 L493.0,402.0 L488.9,388.2 L490.3,366.2" fill="none" stroke="#4a1812" stroke-width="1.15" stroke-linejoin="round"/>
<path d="M493.0,391.0 L501.3,393.7 L509.5,404.7 L523.3,413.0 L539.9,424.0 L550.9,432.3 L556.4,443.3 L553.6,459.9 L548.1,473.6 L539.9,481.9 L534.4,476.4 L534.4,459.9 L528.8,446.1 L517.8,432.3 L506.8,421.3 L498.5,410.3 L494.4,399.2Z" fill="#e54e3d"/>
<path d="M493.0,391.0 L501.3,393.7 L509.5,404.7 L523.3,413.0 L539.9,424.0 L550.9,432.3 L556.4,443.3 L553.6,459.9 L548.1,473.6 L539.9,481.9 L534.4,476.4 L534.4,459.9 L528.8,446.1 L517.8,432.3 L506.8,421.3 L498.5,410.3 L494.4,399.2 L493.0,391.0" fill="none" stroke="#4a1812" stroke-width="1.15" stroke-linejoin="round"/>
<path d="M498.5,399.2 L509.5,407.5 L523.3,415.8 L537.1,426.8 L548.1,437.8 L552.3,451.6 L548.1,465.4 L542.6,476.4 L538.5,470.9 L537.1,457.1 L530.2,443.3 L517.8,429.5 L506.8,418.5 L499.9,408.9Z" fill="#cc0c25"/>
<path d="M498.5,399.2 L509.5,407.5 L523.3,415.8 L537.1,426.8 L548.1,437.8 L552.3,451.6 L548.1,465.4 L542.6,476.4 L538.5,470.9 L537.1,457.1 L530.2,443.3 L517.8,429.5 L506.8,418.5 L499.9,408.9 L498.5,399.2" fill="none" stroke="#4a1812" stroke-width="1.15" stroke-linejoin="round"/>
<path d="M501.3,404.7 L512.3,410.3 L526.1,418.5 L537.1,429.5 L545.4,440.6 L548.1,451.6 L544.0,462.6 L539.9,459.9 L537.1,448.8 L528.8,437.8 L517.8,426.8 L506.8,417.1Z" fill="#7a0022"/>
<path d="M501.3,404.7 L512.3,410.3 L526.1,418.5 L537.1,429.5 L545.4,440.6 L548.1,451.6 L544.0,462.6 L539.9,459.9 L537.1,448.8 L528.8,437.8 L517.8,426.8 L506.8,417.1 L501.3,404.7" fill="none" stroke="#4a1812" stroke-width="1.15" stroke-linejoin="round"/>
<path d="M515.1,418.5 L519.2,418.0 L521.1,421.3 L516.4,423.2Z" fill="#ffffff"/>
<path d="M526.1,427.3 L531.6,426.2 L534.4,430.9 L528.8,432.9Z" fill="#ffffff"/>
<path d="M515.1,515.0 L523.3,512.2 L528.8,520.5 L526.1,531.5 L523.3,539.8 L517.8,537.0 L513.7,526.0Z" fill="#e54e3d"/>
<path d="M515.1,515.0 L523.3,512.2 L528.8,520.5 L526.1,531.5 L523.3,539.8 L517.8,537.0 L513.7,526.0 L515.1,515.0" fill="none" stroke="#4a1812" stroke-width="1.15" stroke-linejoin="round"/>
<path d="M517.0,524.6 L522.0,523.8 L523.9,531.5 L519.2,534.3Z" fill="#cc0c25"/>
<path d="M517.0,524.6 L522.0,523.8 L523.9,531.5 L519.2,534.3 L517.0,524.6" fill="none" stroke="#4a1812" stroke-width="1.15" stroke-linejoin="round"/>
<path d="M512.3,534.3 L520.6,534.3 L523.3,542.6 L523.3,553.6 L528.8,564.6 L534.4,572.9 L539.9,583.9 L534.4,588.0 L523.3,586.7 L515.1,581.1 L509.5,572.9 L506.2,561.9 L508.2,548.1Z" fill="#ffffff"/>
<path d="M773.2,146.0 L784.8,143.5 L789.8,139.4 L801.3,137.7 L814.6,149.3 L829.5,152.6 L846.0,144.4 L859.2,139.4 L875.8,137.7 L905.6,139.4 L925.4,129.5 L1000.0,129.5 L1000.0,159.2 L983.3,162.5 L966.7,164.2 L950.2,167.5 L933.7,172.5 L922.1,179.1 L908.9,185.7 L905.6,192.3 L895.6,197.3 L885.7,192.3 L875.8,189.0 L862.5,187.4 L852.6,185.7 L839.4,185.7 L826.2,187.4 L821.2,192.3 L814.6,197.3 L801.3,202.2 L789.8,198.9 L778.2,192.3 L774.9,185.7 L779.8,175.8 L788.1,165.9 L793.1,159.2 L784.8,154.3 L774.9,154.3Z" fill="#f88867"/>
<path d="M773.2,146.0 L784.8,143.5 L789.8,139.4 L801.3,137.7 L814.6,149.3 L829.5,152.6 L846.0,144.4 L859.2,139.4 L875.8,137.7 L905.6,139.4 L925.4,129.5 L1000.0,129.5M1000.0,159.2 L983.3,162.5 L966.7,164.2 L950.2,167.5 L933.7,172.5 L922.1,179.1 L908.9,185.7 L905.6,192.3 L895.6,197.3 L885.7,192.3 L875.8,189.0 L862.5,187.4 L852.6,185.7 L839.4,185.7 L826.2,187.4 L821.2,192.3 L814.6,197.3 L801.3,202.2 L789.8,198.9 L778.2,192.3 L774.9,185.7 L779.8,175.8 L788.1,165.9 L793.1,159.2 L784.8,154.3 L774.9,154.3 L773.2,146.0" fill="none" stroke="#4a1812" stroke-width="1.15" stroke-linejoin="round"/>
<path d="M922.1,179.1 L933.7,172.5 L950.2,167.5 L966.7,164.2 L983.3,162.5 L1000.0,159.2 L1000.0,185.7 L975.0,185.7 L925.4,185.7Z" fill="#fcc5a9"/>
<path d="M922.1,179.1 L933.7,172.5 L950.2,167.5 L966.7,164.2 L983.3,162.5 L1000.0,159.2M1000.0,185.7 L975.0,185.7 L925.4,185.7 L922.1,179.1" fill="none" stroke="#4a1812" stroke-width="1.15" stroke-linejoin="round"/>
<path d="M905.6,139.4 L917.1,132.8 L925.4,119.5 L941.9,117.1 L973.4,114.6 L1000.0,114.6 L1000.0,142.7 L975.0,143.5 L958.5,146.0 L941.9,147.7 L925.4,146.0 L917.1,142.7Z" fill="#e54e3d"/>
<path d="M905.6,139.4 L917.1,132.8 L925.4,119.5 L941.9,117.1 L973.4,114.6 L1000.0,114.6M1000.0,142.7 L975.0,143.5 L958.5,146.0 L941.9,147.7 L925.4,146.0 L917.1,142.7 L905.6,139.4" fill="none" stroke="#4a1812" stroke-width="1.15" stroke-linejoin="round"/>
<path d="M832.8,114.6 L837.7,109.6 L852.6,103.0 L865.9,96.4 L879.1,89.8 L895.6,83.2 L912.2,79.5 L927.1,79.5 L935.3,82.3 L945.2,87.3 L958.5,91.4 L973.4,93.1 L973.4,99.7 L958.5,100.5 L945.2,98.0 L925.4,99.7 L913.8,101.3 L902.2,108.0 L895.6,112.9 L885.7,112.9 L879.1,112.9 L867.5,117.1 L857.6,122.9 L846.0,126.2 L836.1,124.5Z" fill="#ffffff"/>
<path d="M898.9,114.6 L903.9,108.0 L917.1,101.3 L933.7,99.7 L945.2,98.0 L955.2,101.3 L966.7,103.0 L973.4,102.2 L1000.0,98.0 L1000.0,114.6 L973.4,114.6 L958.5,116.2 L941.9,117.1 L925.4,119.5 L917.1,122.9 L908.9,126.2 L902.2,122.9Z" fill="#cc0c25"/>
<path d="M898.9,114.6 L903.9,108.0 L917.1,101.3 L933.7,99.7 L945.2,98.0 L955.2,101.3 L966.7,103.0 L973.4,102.2 L1000.0,98.0M1000.0,114.6 L973.4,114.6 L958.5,116.2 L941.9,117.1 L925.4,119.5 L917.1,122.9 L908.9,126.2 L902.2,122.9 L898.9,114.6" fill="none" stroke="#4a1812" stroke-width="1.15" stroke-linejoin="round"/>
<path d="M988.3,99.7 L994.9,96.4 L1000.0,97.2 L1000.0,103.3 L991.6,103.8Z" fill="#7a0022"/>
<path d="M988.3,99.7 L994.9,96.4 L1000.0,97.2M1000.0,103.3 L991.6,103.8 L988.3,99.7" fill="none" stroke="#4a1812" stroke-width="1.15" stroke-linejoin="round"/>
<path d="M856.8,122.9 L865.9,117.9 L875.8,112.9 L880.7,114.6 L882.4,122.9 L875.8,126.2 L867.5,125.3 L859.2,126.2Z" fill="#cc0c25"/>
<path d="M856.8,122.9 L865.9,117.9 L875.8,112.9 L880.7,114.6 L882.4,122.9 L875.8,126.2 L867.5,125.3 L859.2,126.2 L856.8,122.9" fill="none" stroke="#4a1812" stroke-width="1.15" stroke-linejoin="round"/>
<path d="M859.2,126.2 L867.5,125.3 L879.1,124.5 L880.7,131.1 L875.8,137.7 L869.2,139.4 L862.5,137.7 L859.2,131.1Z" fill="#e54e3d"/>
<path d="M859.2,126.2 L867.5,125.3 L879.1,124.5 L880.7,131.1 L875.8,137.7 L869.2,139.4 L862.5,137.7 L859.2,131.1 L859.2,126.2" fill="none" stroke="#4a1812" stroke-width="1.15" stroke-linejoin="round"/>
<path d="M788.1,131.1 L793.1,128.6 L799.7,129.5 L801.3,134.4 L796.4,137.7 L790.6,136.9Z" fill="#ffffff"/>
<path d="M839.4,165.9 L852.6,159.2 L875.8,157.6 L889.0,164.2 L879.1,169.2 L872.5,175.8 L862.5,180.7 L846.0,183.2 L836.1,183.2Z" fill="#e54e3d"/>
<path d="M839.4,165.9 L852.6,159.2 L875.8,157.6 L889.0,164.2 L879.1,169.2 L872.5,175.8 L862.5,180.7 L846.0,183.2 L836.1,183.2 L839.4,165.9" fill="none" stroke="#4a1812" stroke-width="1.15" stroke-linejoin="round"/>
<path d="M839.4,175.8 L846.0,169.2 L855.9,169.2 L865.9,172.5 L869.2,179.1 L859.2,183.2 L842.7,183.7Z" fill="#cc0c25"/>
<path d="M839.4,175.8 L846.0,169.2 L855.9,169.2 L865.9,172.5 L869.2,179.1 L859.2,183.2 L842.7,183.7 L839.4,175.8" fill="none" stroke="#4a1812" stroke-width="1.15" stroke-linejoin="round"/>
<path d="M844.4,178.3 L852.6,175.0 L860.9,176.6 L862.5,181.1 L849.3,182.1Z" fill="#7a0022"/>
<path d="M844.4,178.3 L852.6,175.0 L860.9,176.6 L862.5,181.1 L849.3,182.1 L844.4,178.3" fill="none" stroke="#4a1812" stroke-width="1.15" stroke-linejoin="round"/>
<path d="M773.2,205.3 L782.1,203.1 L804.1,203.1 L826.2,200.9 L839.4,194.3 L852.6,192.1 L857.0,200.9 L852.6,214.1 L848.2,216.3 L852.6,225.1 L857.0,234.0 L865.9,238.4 L870.3,242.8 L852.6,241.7 L826.2,241.0 L804.1,243.2 L786.5,238.8 L782.1,231.8 L784.3,222.9 L775.4,214.1Z" fill="#fcc5a9"/>
<path d="M773.2,205.3 L782.1,203.1 L804.1,203.1 L826.2,200.9 L839.4,194.3 L852.6,192.1 L857.0,200.9 L852.6,214.1 L848.2,216.3 L852.6,225.1 L857.0,234.0 L865.9,238.4 L870.3,242.8 L852.6,241.7 L826.2,241.0 L804.1,243.2 L786.5,238.8 L782.1,231.8 L784.3,222.9 L775.4,214.1 L773.2,205.3" fill="none" stroke="#4a1812" stroke-width="1.15" stroke-linejoin="round"/>
<path d="M777.6,189.9 L793.1,187.6 L815.1,186.5 L837.2,189.9 L839.4,194.3 L826.2,200.9 L804.1,203.1 L782.1,203.1 L775.4,198.7Z" fill="#f88867"/>
<path d="M777.6,189.9 L793.1,187.6 L815.1,186.5 L837.2,189.9 L839.4,194.3 L826.2,200.9 L804.1,203.1 L782.1,203.1 L775.4,198.7 L777.6,189.9" fill="none" stroke="#4a1812" stroke-width="1.15" stroke-linejoin="round"/>
<path d="M883.5,183.2 L901.2,183.2 L914.4,187.6 L905.6,196.5 L901.2,200.9 L892.3,196.5 L887.9,189.9Z" fill="#fcc5a9"/>
<path d="M883.5,183.2 L901.2,183.2 L914.4,187.6 L905.6,196.5 L901.2,200.9 L892.3,196.5 L887.9,189.9 L883.5,183.2" fill="none" stroke="#4a1812" stroke-width="1.15" stroke-linejoin="round"/>
<path d="M923.2,200.9 L936.4,194.3 L954.1,189.9 L971.7,187.6 L980.6,192.1 L976.1,205.3 L971.7,214.1 L958.5,218.5 L940.9,219.6 L927.6,216.3 L923.2,209.7Z" fill="#fcc5a9"/>
<path d="M923.2,200.9 L936.4,194.3 L954.1,189.9 L971.7,187.6 L980.6,192.1 L976.1,205.3 L971.7,214.1 L958.5,218.5 L940.9,219.6 L927.6,216.3 L923.2,209.7 L923.2,200.9" fill="none" stroke="#4a1812" stroke-width="1.15" stroke-linejoin="round"/>
<path d="M936.4,203.1 L945.3,197.6 L958.5,195.4 L969.5,196.5 L967.3,203.1 L954.1,205.3 L940.9,206.4Z" fill="#f88867"/>
<path d="M936.4,203.1 L945.3,197.6 L958.5,195.4 L969.5,196.5 L967.3,203.1 L954.1,205.3 L940.9,206.4 L936.4,203.1" fill="none" stroke="#4a1812" stroke-width="1.15" stroke-linejoin="round"/>
<path d="M976.1,189.9 L989.4,185.4 L1000.4,189.9 L1002.6,198.7 L993.8,209.7 L985.0,210.8 L977.2,203.1Z" fill="#f88867"/>
<path d="M976.1,189.9 L989.4,185.4 L1000.4,189.9 L1002.6,198.7 L993.8,209.7 L985.0,210.8 L977.2,203.1 L976.1,189.9" fill="none" stroke="#4a1812" stroke-width="1.15" stroke-linejoin="round"/>
<path d="M1002.6,209.7 L1024.7,214.1 L1037.9,216.3 L1046.7,211.9 L1064.4,209.7 L1080.0,207.5 L1080.0,236.2 L1068.8,242.8 L1055.5,249.4 L1042.3,245.0 L1033.5,236.2 L1029.1,231.8 L1024.7,227.3 L1013.6,222.9 L1002.6,216.3Z" fill="#fcc5a9"/>
<path d="M1002.6,209.7 L1024.7,214.1 L1037.9,216.3 L1046.7,211.9 L1064.4,209.7 L1080.0,207.5M1080.0,236.2 L1068.8,242.8 L1055.5,249.4 L1042.3,245.0 L1033.5,236.2 L1029.1,231.8 L1024.7,227.3 L1013.6,222.9 L1002.6,216.3 L1002.6,209.7" fill="none" stroke="#4a1812" stroke-width="1.15" stroke-linejoin="round"/>
<path d="M887.9,245.0 L896.7,242.8 L914.4,242.8 L923.2,249.4 L918.8,258.2 L914.4,269.3 L914.4,284.7 L912.2,297.9 L905.6,300.1 L903.4,289.1 L899.0,280.3 L892.3,271.5 L890.1,260.4Z" fill="#fcc5a9"/>
<path d="M887.9,245.0 L896.7,242.8 L914.4,242.8 L923.2,249.4 L918.8,258.2 L914.4,269.3 L914.4,284.7 L912.2,297.9 L905.6,300.1 L903.4,289.1 L899.0,280.3 L892.3,271.5 L890.1,260.4 L887.9,245.0" fill="none" stroke="#4a1812" stroke-width="1.15" stroke-linejoin="round"/>
<path d="M905.6,261.5 L908.9,259.3 L912.2,263.7 L910.0,267.0 L906.2,265.9Z" fill="#ffffff"/>
<path d="M844.9,268.1 L852.6,264.8 L859.3,262.6 L865.9,260.4 L868.1,267.0 L861.5,271.5 L852.6,271.5Z" fill="#fcc5a9"/>
<path d="M844.9,268.1 L852.6,264.8 L859.3,262.6 L865.9,260.4 L868.1,267.0 L861.5,271.5 L852.6,271.5 L844.9,268.1" fill="none" stroke="#4a1812" stroke-width="1.15" stroke-linejoin="round"/>
<path d="M949.7,331.0 L954.1,328.8 L960.7,320.0 L965.1,316.7 L969.5,322.2 L971.7,331.0 L967.3,334.3 L958.5,334.3 L951.9,334.3Z" fill="#fcc5a9"/>
<path d="M949.7,331.0 L954.1,328.8 L960.7,320.0 L965.1,316.7 L969.5,322.2 L971.7,331.0 L967.3,334.3 L958.5,334.3 L951.9,334.3 L949.7,331.0" fill="none" stroke="#4a1812" stroke-width="1.15" stroke-linejoin="round"/>
<path d="M846.0,339.8 L852.6,337.6 L865.9,339.8 L874.7,344.2 L883.5,346.4 L892.3,344.2 L901.2,346.4 L910.0,350.9 L914.4,342.0 L918.8,342.0 L927.6,346.4 L936.4,350.9 L938.7,359.7 L936.4,368.5 L938.7,381.7 L958.5,390.6 L958.5,399.4 L936.4,410.0 L870.3,410.0 L865.9,390.6 L861.5,381.7 L854.8,372.9 L850.4,361.9 L848.2,348.7Z" fill="#fcc5a9"/>
<path d="M846.0,339.8 L852.6,337.6 L865.9,339.8 L874.7,344.2 L883.5,346.4 L892.3,344.2 L901.2,346.4 L910.0,350.9 L914.4,342.0 L918.8,342.0 L927.6,346.4 L936.4,350.9 L938.7,359.7 L936.4,368.5 L938.7,381.7 L958.5,390.6 L958.5,399.4 L936.4,410.0M870.3,410.0 L865.9,390.6 L861.5,381.7 L854.8,372.9 L850.4,361.9 L848.2,348.7 L846.0,339.8" fill="none" stroke="#4a1812" stroke-width="1.15" stroke-linejoin="round"/>
<path d="M874.7,357.5 L883.5,355.3 L892.3,359.7 L896.7,364.1 L894.5,372.9 L887.9,375.1 L881.3,372.9 L876.9,366.3Z" fill="#fde6dc"/>
<path d="M901.2,386.1 L914.4,381.7 L923.2,386.1 L927.6,392.8 L918.8,399.4 L905.6,399.4 L899.0,392.8Z" fill="#fde6dc"/>
<path d="M960.0,163.5 L1004.1,160.2 L1048.2,162.4 L1092.3,166.8 L1114.4,169.0 L1136.4,172.3 L1180.6,183.4 L1280.0,183.4 L1280.0,194.4 L1180.6,194.4 L1158.5,184.5 L960.0,184.5Z" fill="#fcc5a9"/>
<path d="M960.0,163.5 L1004.1,160.2 L1048.2,162.4 L1092.3,166.8 L1114.4,169.0 L1136.4,172.3 L1180.6,183.4 L1280.0,183.4M1280.0,194.4 L1180.6,194.4 L1158.5,184.5 L960.0,184.5" fill="none" stroke="#4a1812" stroke-width="1.15" stroke-linejoin="round"/>
<path d="M960.0,145.9 L1004.1,143.7 L1048.2,148.1 L1092.3,144.8 L1136.4,143.7 L1158.5,148.1 L1151.9,156.9 L1154.1,163.5 L1169.5,170.1 L1180.6,174.5 L1202.6,179.0 L1235.7,179.0 L1246.7,172.3 L1280.0,167.9 L1280.0,183.4 L1180.6,183.4 L1136.4,172.3 L1114.4,169.0 L1092.3,166.8 L1048.2,162.4 L1004.1,160.2 L960.0,163.5Z" fill="#f88867"/>
<path d="M960.0,145.9 L1004.1,143.7 L1048.2,148.1 L1092.3,144.8 L1136.4,143.7 L1158.5,148.1 L1151.9,156.9 L1154.1,163.5 L1169.5,170.1 L1180.6,174.5 L1202.6,179.0 L1235.7,179.0 L1246.7,172.3 L1280.0,167.9M1280.0,183.4 L1180.6,183.4 L1136.4,172.3 L1114.4,169.0 L1092.3,166.8 L1048.2,162.4 L1004.1,160.2 L960.0,163.5" fill="none" stroke="#4a1812" stroke-width="1.15" stroke-linejoin="round"/>
<path d="M960.0,112.8 L1280.0,110.6 L1280.0,163.5 L1268.8,167.9 L1246.7,170.1 L1235.7,179.0 L1202.6,179.0 L1180.6,174.5 L1169.5,170.1 L1154.1,163.5 L1151.9,154.7 L1158.5,148.1 L1136.4,143.7 L1092.3,144.8 L1048.2,148.1 L1004.1,143.7 L960.0,145.9Z" fill="#e54e3d"/>
<path d="M960.0,112.8 L1280.0,110.6M1280.0,163.5 L1268.8,167.9 L1246.7,170.1 L1235.7,179.0 L1202.6,179.0 L1180.6,174.5 L1169.5,170.1 L1154.1,163.5 L1151.9,154.7 L1158.5,148.1 L1136.4,143.7 L1092.3,144.8 L1048.2,148.1 L1004.1,143.7 L960.0,145.9" fill="none" stroke="#4a1812" stroke-width="1.15" stroke-linejoin="round"/>
<path d="M960.0,100.0 L988.7,97.8 L1021.8,91.2 L1048.2,87.9 L1070.3,87.9 L1092.3,91.2 L1103.4,95.6 L1118.8,84.6 L1136.4,81.9 L1158.5,78.6 L1189.4,78.6 L1190.5,92.9 L1202.6,95.6 L1224.7,93.4 L1246.7,91.2 L1280.0,86.8 L1280.0,110.6 L1257.8,112.8 L1224.7,112.8 L1202.6,110.6 L1180.6,112.8 L1158.5,110.6 L1136.4,111.7 L1114.4,116.1 L1092.3,119.4 L1070.3,117.6 L1054.8,118.3 L1026.2,115.4 L1004.1,114.5 L982.1,115.4 L960.0,116.1Z" fill="#cc0c25"/>
<path d="M960.0,100.0 L988.7,97.8 L1021.8,91.2 L1048.2,87.9 L1070.3,87.9 L1092.3,91.2 L1103.4,95.6 L1118.8,84.6 L1136.4,81.9 L1158.5,78.6 L1189.4,78.6 L1190.5,92.9 L1202.6,95.6 L1224.7,93.4 L1246.7,91.2 L1280.0,86.8M1280.0,110.6 L1257.8,112.8 L1224.7,112.8 L1202.6,110.6 L1180.6,112.8 L1158.5,110.6 L1136.4,111.7 L1114.4,116.1 L1092.3,119.4 L1070.3,117.6 L1054.8,118.3 L1026.2,115.4 L1004.1,114.5 L982.1,115.4 L960.0,116.1" fill="none" stroke="#4a1812" stroke-width="1.15" stroke-linejoin="round"/>
<path d="M1022.0,91.2 L1048.2,87.4 L1070.3,87.4 L1092.3,90.7 L1103.4,95.1 L1118.8,84.1 L1136.4,81.9 L1158.5,78.6 L1189.4,78.6 L1190.5,92.9 L1204.8,99.1 L1202.6,104.4 L1180.6,105.7 L1158.5,106.6 L1114.4,106.6 L1092.3,104.4 L1070.3,104.4 L1054.8,102.9 L1022.0,104.0Z" fill="#7a0022"/>
<path d="M1022.0,91.2 L1048.2,87.4 L1070.3,87.4 L1092.3,90.7 L1103.4,95.1 L1118.8,84.1 L1136.4,81.9 L1158.5,78.6 L1189.4,78.6 L1190.5,92.9 L1204.8,99.1 L1202.6,104.4 L1180.6,105.7 L1158.5,106.6 L1114.4,106.6 L1092.3,104.4 L1070.3,104.4 L1054.8,102.9 L1022.0,104.0 L1022.0,91.2" fill="none" stroke="#4a1812" stroke-width="1.15" stroke-linejoin="round"/>
<path d="M960.0,84.1 L982.1,87.4 L1004.1,87.4 L1021.8,84.1 L1026.2,75.3 L1048.2,66.5 L1070.3,62.1 L1092.3,66.5 L1114.4,68.7 L1136.4,62.1 L1158.5,57.6 L1180.6,55.4 L1202.6,53.2 L1224.7,51.0 L1246.7,53.2 L1268.8,57.6 L1280.0,59.9 L1280.0,86.8 L1264.4,87.4 L1246.7,91.2 L1224.7,93.4 L1202.6,95.6 L1190.5,92.9 L1189.4,78.6 L1158.5,78.6 L1136.4,81.9 L1118.8,84.6 L1103.4,95.6 L1092.3,91.2 L1070.3,87.9 L1048.2,87.9 L1021.8,91.2 L988.7,97.8 L960.0,100.0Z" fill="#ffffff"/>
<path d="M1151.9,159.1 L1158.5,151.4 L1171.7,150.3 L1180.6,154.7 L1182.8,165.7 L1176.1,172.3 L1162.9,172.3 L1154.1,167.9Z" fill="#cc0c25"/>
<path d="M1151.9,159.1 L1158.5,151.4 L1171.7,150.3 L1180.6,154.7 L1182.8,165.7 L1176.1,172.3 L1162.9,172.3 L1154.1,167.9 L1151.9,159.1" fill="none" stroke="#4a1812" stroke-width="1.15" stroke-linejoin="round"/>
<path d="M1160.7,160.2 L1166.2,156.9 L1172.8,159.1 L1173.9,164.6 L1168.4,167.9 L1161.8,165.7Z" fill="#ffffff"/>
<path d="M1185.0,154.7 L1193.8,148.1 L1207.0,143.7 L1220.3,145.9 L1229.1,154.7 L1226.9,165.7 L1213.6,170.1 L1198.2,171.2 L1187.2,165.7Z" fill="#cc0c25"/>
<path d="M1185.0,154.7 L1193.8,148.1 L1207.0,143.7 L1220.3,145.9 L1229.1,154.7 L1226.9,165.7 L1213.6,170.1 L1198.2,171.2 L1187.2,165.7 L1185.0,154.7" fill="none" stroke="#4a1812" stroke-width="1.15" stroke-linejoin="round"/>
<path d="M1200.4,156.9 L1207.0,151.4 L1215.8,151.4 L1220.3,156.9 L1216.9,163.5 L1207.0,164.6 L1201.5,162.4Z" fill="#ffffff"/>
<path d="M1248.9,139.3 L1255.5,130.4 L1268.8,126.0 L1280.0,124.9 L1280.0,152.5 L1268.8,151.4 L1255.5,150.3 L1250.0,145.9Z" fill="#cc0c25"/>
<path d="M1248.9,139.3 L1255.5,130.4 L1268.8,126.0 L1280.0,124.9M1280.0,152.5 L1268.8,151.4 L1255.5,150.3 L1250.0,145.9 L1248.9,139.3" fill="none" stroke="#4a1812" stroke-width="1.15" stroke-linejoin="round"/>
<path d="M1253.3,139.3 L1260.0,134.8 L1273.2,133.7 L1278.7,137.0 L1277.6,145.9 L1266.6,148.1 L1256.6,145.4Z" fill="#7a0022"/>
<path d="M1253.3,139.3 L1260.0,134.8 L1273.2,133.7 L1278.7,137.0 L1277.6,145.9 L1266.6,148.1 L1256.6,145.4 L1253.3,139.3" fill="none" stroke="#4a1812" stroke-width="1.15" stroke-linejoin="round"/>
<path d="M964.4,190.0 L977.6,185.6 L993.1,187.8 L1001.9,194.4 L997.5,203.2 L982.1,205.4 L968.8,203.2 L962.2,196.6Z" fill="#f88867"/>
<path d="M964.4,190.0 L977.6,185.6 L993.1,187.8 L1001.9,194.4 L997.5,203.2 L982.1,205.4 L968.8,203.2 L962.2,196.6 L964.4,190.0" fill="none" stroke="#4a1812" stroke-width="1.15" stroke-linejoin="round"/>
<path d="M1026.2,214.2 L1048.2,212.0 L1070.3,216.4 L1092.3,214.2 L1103.4,207.6 L1114.4,198.8 L1118.8,212.0 L1110.0,223.1 L1092.3,229.7 L1070.3,231.9 L1048.2,238.5 L1035.0,234.1 L1026.2,225.3Z" fill="#fcc5a9"/>
<path d="M1026.2,214.2 L1048.2,212.0 L1070.3,216.4 L1092.3,214.2 L1103.4,207.6 L1114.4,198.8 L1118.8,212.0 L1110.0,223.1 L1092.3,229.7 L1070.3,231.9 L1048.2,238.5 L1035.0,234.1 L1026.2,225.3 L1026.2,214.2" fill="none" stroke="#4a1812" stroke-width="1.15" stroke-linejoin="round"/>
<path d="M1140.9,194.4 L1158.5,190.0 L1169.5,194.4 L1162.9,201.0 L1147.5,201.0Z" fill="#fcc5a9"/>
<path d="M1140.9,194.4 L1158.5,190.0 L1169.5,194.4 L1162.9,201.0 L1147.5,201.0 L1140.9,194.4" fill="none" stroke="#4a1812" stroke-width="1.15" stroke-linejoin="round"/>
<path d="M1180.6,192.2 L1202.6,194.4 L1235.7,192.2 L1268.8,190.0 L1280.0,192.2 L1280.0,207.6 L1257.8,207.6 L1235.7,207.6 L1213.6,203.2 L1191.6,201.0Z" fill="#fcc5a9"/>
<path d="M1180.6,192.2 L1202.6,194.4 L1235.7,192.2 L1268.8,190.0 L1280.0,192.2M1280.0,207.6 L1257.8,207.6 L1235.7,207.6 L1213.6,203.2 L1191.6,201.0 L1180.6,192.2" fill="none" stroke="#4a1812" stroke-width="1.15" stroke-linejoin="round"/>
<path d="M1132.0,204.3 L1145.3,199.9 L1158.5,201.0 L1162.9,205.4 L1154.1,209.8 L1138.7,209.8Z" fill="#ffffff"/>
<path d="M1240.0,52.4 L1271.0,56.5 L1302.0,60.7 L1343.4,64.8 L1384.7,71.0 L1426.1,75.1 L1467.4,81.3 L1508.8,85.5 L1540.0,87.6 L1540.0,108.2 L1529.4,110.3 L1508.8,118.6 L1488.1,120.6 L1467.4,122.7 L1446.7,126.8 L1426.1,126.8 L1405.4,124.8 L1384.7,124.8 L1382.7,122.7 L1364.0,108.2 L1333.0,102.0 L1318.6,85.5 L1271.0,85.5 L1240.0,87.6Z" fill="#ffffff"/>
<path d="M1318.6,84.4 L1322.7,95.8 L1335.1,106.2 L1347.5,108.2 L1364.0,110.3 L1382.7,122.7 L1364.0,126.8 L1339.2,126.8 L1326.8,110.3 L1318.6,102.0Z" fill="#7a0022"/>
<path d="M1318.6,84.4 L1322.7,95.8 L1335.1,106.2 L1347.5,108.2 L1364.0,110.3 L1382.7,122.7 L1364.0,126.8 L1339.2,126.8 L1326.8,110.3 L1318.6,102.0 L1318.6,84.4" fill="none" stroke="#4a1812" stroke-width="1.15" stroke-linejoin="round"/>
<path d="M1240.0,88.6 L1271.0,85.5 L1318.6,84.4 L1318.6,102.0 L1333.0,108.2 L1355.8,110.3 L1366.1,118.6 L1372.3,126.8 L1368.2,139.2 L1364.0,147.5 L1355.8,149.6 L1322.7,128.9 L1291.7,118.6 L1240.0,118.6Z" fill="#cc0c25"/>
<path d="M1240.0,88.6 L1271.0,85.5 L1318.6,84.4 L1318.6,102.0 L1333.0,108.2 L1355.8,110.3 L1366.1,118.6 L1372.3,126.8 L1368.2,139.2 L1364.0,147.5 L1355.8,149.6 L1322.7,128.9 L1291.7,118.6 L1240.0,118.6" fill="none" stroke="#4a1812" stroke-width="1.15" stroke-linejoin="round"/>
<path d="M1240.0,118.6 L1291.7,114.4 L1322.7,122.7 L1343.4,126.8 L1364.0,137.2 L1368.2,147.5 L1370.2,157.8 L1364.0,168.2 L1355.8,174.4 L1312.4,174.4 L1291.7,170.2 L1260.7,164.0 L1240.0,164.0Z" fill="#e54e3d"/>
<path d="M1240.0,118.6 L1291.7,114.4 L1322.7,122.7 L1343.4,126.8 L1364.0,137.2 L1368.2,147.5 L1370.2,157.8 L1364.0,168.2 L1355.8,174.4 L1312.4,174.4 L1291.7,170.2 L1260.7,164.0 L1240.0,164.0" fill="none" stroke="#4a1812" stroke-width="1.15" stroke-linejoin="round"/>
<path d="M1248.3,139.2 L1264.8,131.0 L1281.3,126.8 L1302.0,131.0 L1322.7,128.9 L1339.2,133.0 L1345.4,139.2 L1335.1,143.4 L1318.6,145.4 L1302.0,147.5 L1281.3,151.6 L1260.7,153.7 L1249.3,147.5Z" fill="#cc0c25"/>
<path d="M1248.3,139.2 L1264.8,131.0 L1281.3,126.8 L1302.0,131.0 L1322.7,128.9 L1339.2,133.0 L1345.4,139.2 L1335.1,143.4 L1318.6,145.4 L1302.0,147.5 L1281.3,151.6 L1260.7,153.7 L1249.3,147.5 L1248.3,139.2" fill="none" stroke="#4a1812" stroke-width="1.15" stroke-linejoin="round"/>
<path d="M1256.5,141.3 L1264.8,139.2 L1268.9,143.4 L1260.7,145.4Z" fill="#7a0022"/>
<path d="M1256.5,141.3 L1264.8,139.2 L1268.9,143.4 L1260.7,145.4 L1256.5,141.3" fill="none" stroke="#4a1812" stroke-width="1.15" stroke-linejoin="round"/>
<path d="M1268.9,137.2 L1275.1,135.1 L1279.3,139.2 L1271.0,141.3Z" fill="#7a0022"/>
<path d="M1268.9,137.2 L1275.1,135.1 L1279.3,139.2 L1271.0,141.3 L1268.9,137.2" fill="none" stroke="#4a1812" stroke-width="1.15" stroke-linejoin="round"/>
<path d="M1281.3,134.1 L1289.6,133.0 L1295.8,137.2 L1287.6,140.3Z" fill="#7a0022"/>
<path d="M1281.3,134.1 L1289.6,133.0 L1295.8,137.2 L1287.6,140.3 L1281.3,134.1" fill="none" stroke="#4a1812" stroke-width="1.15" stroke-linejoin="round"/>
<path d="M1240.0,164.0 L1260.7,164.0 L1291.7,170.2 L1312.4,174.4 L1355.8,174.4 L1364.0,168.2 L1374.4,164.0 L1364.0,184.7 L1353.7,193.0 L1333.0,201.3 L1312.4,188.9 L1302.0,184.7 L1271.0,184.7 L1240.0,182.7Z" fill="#f88867"/>
<path d="M1240.0,164.0 L1260.7,164.0 L1291.7,170.2 L1312.4,174.4 L1355.8,174.4 L1364.0,168.2 L1374.4,164.0 L1364.0,184.7 L1353.7,193.0 L1333.0,201.3 L1312.4,188.9 L1302.0,184.7 L1271.0,184.7 L1240.0,182.7" fill="none" stroke="#4a1812" stroke-width="1.15" stroke-linejoin="round"/>
<path d="M1240.0,182.7 L1271.0,184.7 L1302.0,184.7 L1312.4,190.9 L1322.7,205.4 L1333.0,215.7 L1328.9,224.0 L1318.6,221.9 L1306.2,209.5 L1297.9,203.3 L1291.7,215.7 L1281.3,219.9 L1260.7,226.1 L1240.0,226.1Z" fill="#fcc5a9"/>
<path d="M1240.0,182.7 L1271.0,184.7 L1302.0,184.7 L1312.4,190.9 L1322.7,205.4 L1333.0,215.7 L1328.9,224.0 L1318.6,221.9 L1306.2,209.5 L1297.9,203.3 L1291.7,215.7 L1281.3,219.9 L1260.7,226.1 L1240.0,226.1" fill="none" stroke="#4a1812" stroke-width="1.15" stroke-linejoin="round"/>
<path d="M1355.8,155.8 L1366.1,149.6 L1374.4,151.6 L1380.6,155.8 L1376.4,166.1 L1370.2,176.4 L1364.0,182.7 L1359.9,174.4Z" fill="#e54e3d"/>
<path d="M1355.8,155.8 L1366.1,149.6 L1374.4,151.6 L1380.6,155.8 L1376.4,166.1 L1370.2,176.4 L1364.0,182.7 L1359.9,174.4 L1355.8,155.8" fill="none" stroke="#4a1812" stroke-width="1.15" stroke-linejoin="round"/>
<path d="M1368.2,155.8 L1378.5,154.7 L1382.7,159.9 L1376.4,168.2 L1372.3,176.4 L1370.2,166.1Z" fill="#cc0c25"/>
<path d="M1368.2,155.8 L1378.5,154.7 L1382.7,159.9 L1376.4,168.2 L1372.3,176.4 L1370.2,166.1 L1368.2,155.8" fill="none" stroke="#4a1812" stroke-width="1.15" stroke-linejoin="round"/>
<path d="M1393.0,91.7 L1405.4,89.6 L1415.7,92.7 L1436.4,91.7 L1444.7,93.8 L1438.5,102.0 L1432.3,110.3 L1426.1,120.6 L1417.8,122.7 L1413.7,118.6 L1417.8,108.2 L1405.4,95.8Z" fill="#cc0c25"/>
<path d="M1393.0,91.7 L1405.4,89.6 L1415.7,92.7 L1436.4,91.7 L1444.7,93.8 L1438.5,102.0 L1432.3,110.3 L1426.1,120.6 L1417.8,122.7 L1413.7,118.6 L1417.8,108.2 L1405.4,95.8 L1393.0,91.7" fill="none" stroke="#4a1812" stroke-width="1.15" stroke-linejoin="round"/>
<path d="M1417.8,108.2 L1426.1,108.2 L1436.4,106.2 L1434.3,116.5 L1426.1,122.7 L1417.8,121.7Z" fill="#e54e3d"/>
<path d="M1417.8,108.2 L1426.1,108.2 L1436.4,106.2 L1434.3,116.5 L1426.1,122.7 L1417.8,121.7 L1417.8,108.2" fill="none" stroke="#4a1812" stroke-width="1.15" stroke-linejoin="round"/>
<path d="M1444.7,110.3 L1457.1,106.2 L1477.8,100.0 L1498.4,95.8 L1519.1,93.8 L1529.4,97.9 L1533.6,102.0 L1527.4,108.2 L1508.8,114.4 L1488.1,118.6 L1467.4,120.6 L1446.7,122.7Z" fill="#cc0c25"/>
<path d="M1444.7,110.3 L1457.1,106.2 L1477.8,100.0 L1498.4,95.8 L1519.1,93.8 L1529.4,97.9 L1533.6,102.0 L1527.4,108.2 L1508.8,114.4 L1488.1,118.6 L1467.4,120.6 L1446.7,122.7 L1444.7,110.3" fill="none" stroke="#4a1812" stroke-width="1.15" stroke-linejoin="round"/>
<path d="M1488.1,102.0 L1508.8,93.8 L1521.2,94.8 L1529.4,100.0 L1527.4,106.2 L1508.8,112.4 L1492.2,118.6 L1488.1,110.3Z" fill="#7a0022"/>
<path d="M1488.1,102.0 L1508.8,93.8 L1521.2,94.8 L1529.4,100.0 L1527.4,106.2 L1508.8,112.4 L1492.2,118.6 L1488.1,110.3 L1488.1,102.0" fill="none" stroke="#4a1812" stroke-width="1.15" stroke-linejoin="round"/>
<path d="M1442.6,137.2 L1450.9,131.0 L1463.3,128.9 L1469.5,133.0 L1463.3,141.3 L1455.0,147.5 L1446.7,149.6Z" fill="#cc0c25"/>
<path d="M1442.6,137.2 L1450.9,131.0 L1463.3,128.9 L1469.5,133.0 L1463.3,141.3 L1455.0,147.5 L1446.7,149.6 L1442.6,137.2" fill="none" stroke="#4a1812" stroke-width="1.15" stroke-linejoin="round"/>
<path d="M1446.7,141.3 L1455.0,137.2 L1459.1,141.3 L1452.9,146.5Z" fill="#e54e3d"/>
<path d="M1446.7,141.3 L1455.0,137.2 L1459.1,141.3 L1452.9,146.5 L1446.7,141.3" fill="none" stroke="#4a1812" stroke-width="1.15" stroke-linejoin="round"/>
<path d="M1384.7,147.5 L1390.9,147.5 L1393.0,164.0 L1388.9,176.4 L1385.8,172.3Z" fill="#e54e3d"/>
<path d="M1384.7,147.5 L1390.9,147.5 L1393.0,164.0 L1388.9,176.4 L1385.8,172.3 L1384.7,147.5" fill="none" stroke="#4a1812" stroke-width="1.15" stroke-linejoin="round"/>
<path d="M1376.4,184.7 L1393.0,184.7 L1399.2,188.9 L1384.7,197.1 L1380.6,193.0Z" fill="#f88867"/>
<path d="M1376.4,184.7 L1393.0,184.7 L1399.2,188.9 L1384.7,197.1 L1380.6,193.0 L1376.4,184.7" fill="none" stroke="#4a1812" stroke-width="1.15" stroke-linejoin="round"/>
<path d="M1337.2,232.3 L1347.5,221.9 L1364.0,211.6 L1376.4,205.4 L1382.7,201.3 L1384.7,190.9 L1376.4,188.9 L1372.3,201.3 L1359.9,213.7 L1345.4,221.9Z" fill="#fcc5a9"/>
<path d="M1337.2,232.3 L1347.5,221.9 L1364.0,211.6 L1376.4,205.4 L1382.7,201.3 L1384.7,190.9 L1376.4,188.9 L1372.3,201.3 L1359.9,213.7 L1345.4,221.9 L1337.2,232.3" fill="none" stroke="#4a1812" stroke-width="1.15" stroke-linejoin="round"/>
<path d="M1270.3,477.0 L1290.5,475.0 L1310.7,473.0 L1331.0,468.9 L1345.1,468.9 L1351.2,475.0 L1353.2,481.1 L1359.3,479.0 L1363.3,471.0 L1371.4,471.0 L1377.5,477.0 L1381.5,481.1 L1389.6,485.1 L1397.7,491.2 L1403.7,489.2 L1405.8,481.1 L1411.8,475.0 L1417.9,468.9 L1426.0,466.9 L1434.1,475.0 L1434.1,493.2 L1426.0,505.3 L1415.9,521.5 L1401.7,523.5 L1381.5,521.5 L1371.4,513.4 L1361.3,505.3 L1351.2,499.3 L1331.0,495.2 L1310.7,499.3 L1290.5,505.3 L1280.4,509.4 L1270.3,501.3Z" fill="#fcc5a9"/>
<path d="M1270.3,477.0 L1290.5,475.0 L1310.7,473.0 L1331.0,468.9 L1345.1,468.9 L1351.2,475.0 L1353.2,481.1 L1359.3,479.0 L1363.3,471.0 L1371.4,471.0 L1377.5,477.0 L1381.5,481.1 L1389.6,485.1 L1397.7,491.2 L1403.7,489.2 L1405.8,481.1 L1411.8,475.0 L1417.9,468.9 L1426.0,466.9 L1434.1,475.0 L1434.1,493.2 L1426.0,505.3 L1415.9,521.5 L1401.7,523.5 L1381.5,521.5 L1371.4,513.4 L1361.3,505.3 L1351.2,499.3 L1331.0,495.2 L1310.7,499.3 L1290.5,505.3 L1280.4,509.4 L1270.3,501.3 L1270.3,477.0" fill="none" stroke="#4a1812" stroke-width="1.15" stroke-linejoin="round"/>
<path d="M1401.7,505.3 L1409.8,501.3 L1417.9,499.3 L1426.0,505.3 L1417.9,521.5 L1405.8,523.5 L1399.7,519.5Z" fill="#f88867"/>
<path d="M1401.7,505.3 L1409.8,501.3 L1417.9,499.3 L1426.0,505.3 L1417.9,521.5 L1405.8,523.5 L1399.7,519.5 L1401.7,505.3" fill="none" stroke="#4a1812" stroke-width="1.15" stroke-linejoin="round"/>
<path d="M1421.9,485.1 L1426.0,483.1 L1430.0,487.1 L1428.0,493.2 L1422.9,491.2Z" fill="#f88867"/>
<path d="M1421.9,485.1 L1426.0,483.1 L1430.0,487.1 L1428.0,493.2 L1422.9,491.2 L1421.9,485.1" fill="none" stroke="#4a1812" stroke-width="1.15" stroke-linejoin="round"/>
<path d="M1393.6,529.6 L1411.8,527.6 L1413.8,539.7 L1405.8,541.7 L1397.7,537.7Z" fill="#7a0022"/>
<path d="M1393.6,529.6 L1411.8,527.6 L1413.8,539.7 L1405.8,541.7 L1397.7,537.7 L1393.6,529.6" fill="none" stroke="#4a1812" stroke-width="1.15" stroke-linejoin="round"/>
<path d="M1397.7,533.6 L1403.7,534.6 L1405.8,539.7 L1399.7,539.7Z" fill="#ffffff"/>
<path d="M1486.6,551.8 L1502.8,537.7 L1508.8,529.6 L1514.9,525.5 L1519.0,529.6 L1510.9,541.7 L1498.7,551.8Z" fill="#7a0022"/>
<path d="M1486.6,551.8 L1502.8,537.7 L1508.8,529.6 L1514.9,525.5 L1519.0,529.6 L1510.9,541.7 L1498.7,551.8 L1486.6,551.8" fill="none" stroke="#4a1812" stroke-width="1.15" stroke-linejoin="round"/>
<path d="M1516.9,521.5 L1533.1,515.4 L1535.1,521.5 L1523.0,529.6 L1515.9,527.6Z" fill="#cc0c25"/>
<path d="M1516.9,521.5 L1533.1,515.4 L1535.1,521.5 L1523.0,529.6 L1515.9,527.6 L1516.9,521.5" fill="none" stroke="#4a1812" stroke-width="1.15" stroke-linejoin="round"/>
<path d="M1484.6,547.8 L1492.7,545.8 L1494.7,551.8 L1486.6,552.8Z" fill="#ffffff"/>
<path d="M844.3,340.4 L850.3,338.4 L860.4,340.4 L870.5,342.5 L880.7,346.5 L886.7,343.5 L896.8,346.5 L904.9,350.5 L909.0,340.4 L915.0,340.4 L925.1,346.5 L937.3,352.6 L939.3,364.7 L933.2,372.8 L933.2,384.9 L941.3,391.0 L951.4,393.0 L959.5,393.0 L961.5,401.1 L957.5,407.2 L949.4,409.2 L941.3,417.3 L933.2,425.4 L925.1,431.4 L921.1,429.4 L915.0,421.3 L909.0,413.2 L904.9,405.1 L896.8,401.1 L886.7,401.1 L878.6,395.0 L872.6,386.9 L864.5,384.9 L860.4,380.9 L850.3,370.8 L846.3,354.6Z" fill="#fcc5a9"/>
<path d="M844.3,340.4 L850.3,338.4 L860.4,340.4 L870.5,342.5 L880.7,346.5 L886.7,343.5 L896.8,346.5 L904.9,350.5 L909.0,340.4 L915.0,340.4 L925.1,346.5 L937.3,352.6 L939.3,364.7 L933.2,372.8 L933.2,384.9 L941.3,391.0 L951.4,393.0 L959.5,393.0 L961.5,401.1 L957.5,407.2 L949.4,409.2 L941.3,417.3 L933.2,425.4 L925.1,431.4 L921.1,429.4 L915.0,421.3 L909.0,413.2 L904.9,405.1 L896.8,401.1 L886.7,401.1 L878.6,395.0 L872.6,386.9 L864.5,384.9 L860.4,380.9 L850.3,370.8 L846.3,354.6 L844.3,340.4" fill="none" stroke="#4a1812" stroke-width="1.15" stroke-linejoin="round"/>
<path d="M872.6,356.6 L880.7,348.5 L892.8,350.5 L900.9,358.6 L902.9,368.7 L896.8,374.8 L886.7,376.8 L876.6,374.8 L870.5,366.7Z" fill="#fde6dc"/>
<path d="M872.6,356.6 L880.7,348.5 L892.8,350.5 L900.9,358.6 L902.9,368.7 L896.8,374.8 L886.7,376.8 L876.6,374.8 L870.5,366.7 L872.6,356.6" fill="none" stroke="#4a1812" stroke-width="1.15" stroke-linejoin="round"/>
<path d="M900.9,391.0 L911.0,384.9 L921.1,386.9 L925.1,393.0 L917.0,397.0 L904.9,396.0Z" fill="#fde6dc"/>
<path d="M900.9,391.0 L911.0,384.9 L921.1,386.9 L925.1,393.0 L917.0,397.0 L904.9,396.0 L900.9,391.0" fill="none" stroke="#4a1812" stroke-width="1.15" stroke-linejoin="round"/>
<path d="M860.4,421.3 L872.6,413.2 L880.7,413.2 L890.8,419.3 L900.9,421.3 L913.0,413.2 L921.1,421.3 L925.1,429.4 L941.3,431.4 L949.4,437.5 L949.4,453.7 L945.4,461.7 L949.4,467.8 L945.4,482.0 L937.3,494.1 L925.1,500.2 L911.0,502.2 L890.8,504.2 L884.7,498.1 L880.7,482.0 L874.6,471.9 L870.5,461.7 L868.5,447.6 L864.5,437.5 L860.4,429.4Z" fill="#fcc5a9"/>
<path d="M860.4,421.3 L872.6,413.2 L880.7,413.2 L890.8,419.3 L900.9,421.3 L913.0,413.2 L921.1,421.3 L925.1,429.4 L941.3,431.4 L949.4,437.5 L949.4,453.7 L945.4,461.7 L949.4,467.8 L945.4,482.0 L937.3,494.1 L925.1,500.2 L911.0,502.2 L890.8,504.2 L884.7,498.1 L880.7,482.0 L874.6,471.9 L870.5,461.7 L868.5,447.6 L864.5,437.5 L860.4,429.4 L860.4,421.3" fill="none" stroke="#4a1812" stroke-width="1.15" stroke-linejoin="round"/>
<path d="M896.8,426.4 L904.9,424.3 L909.0,429.4 L906.9,435.5 L898.9,435.5Z" fill="#fde6dc"/>
<path d="M896.8,426.4 L904.9,424.3 L909.0,429.4 L906.9,435.5 L898.9,435.5 L896.8,426.4" fill="none" stroke="#4a1812" stroke-width="1.15" stroke-linejoin="round"/>
<path d="M874.6,409.2 L884.7,401.1 L892.8,405.1 L900.9,409.2 L909.0,405.1 L917.0,405.1 L921.1,413.2 L913.0,421.3 L904.9,421.3 L896.8,415.2 L886.7,416.3 L876.6,415.2Z" fill="#f88867"/>
<path d="M874.6,409.2 L884.7,401.1 L892.8,405.1 L900.9,409.2 L909.0,405.1 L917.0,405.1 L921.1,413.2 L913.0,421.3 L904.9,421.3 L896.8,415.2 L886.7,416.3 L876.6,415.2 L874.6,409.2" fill="none" stroke="#4a1812" stroke-width="1.15" stroke-linejoin="round"/>
<path d="M906.9,477.9 L915.0,469.8 L929.2,463.8 L941.3,461.7 L943.3,473.9 L937.3,486.0 L925.1,498.1 L913.0,500.2 L906.9,490.1Z" fill="#f88867"/>
<path d="M906.9,477.9 L915.0,469.8 L929.2,463.8 L941.3,461.7 L943.3,473.9 L937.3,486.0 L925.1,498.1 L913.0,500.2 L906.9,490.1 L906.9,477.9" fill="none" stroke="#4a1812" stroke-width="1.15" stroke-linejoin="round"/>
<path d="M913.0,477.9 L921.1,471.9 L933.2,469.8 L937.3,477.9 L931.2,490.1 L921.1,494.1 L915.0,490.1Z" fill="#e54e3d"/>
<path d="M913.0,477.9 L921.1,471.9 L933.2,469.8 L937.3,477.9 L931.2,490.1 L921.1,494.1 L915.0,490.1 L913.0,477.9" fill="none" stroke="#4a1812" stroke-width="1.15" stroke-linejoin="round"/>
<path d="M917.0,482.0 L923.1,477.9 L929.2,479.9 L927.2,488.0 L921.1,491.1Z" fill="#cc0c25"/>
<path d="M917.0,482.0 L923.1,477.9 L929.2,479.9 L927.2,488.0 L921.1,491.1 L917.0,482.0" fill="none" stroke="#4a1812" stroke-width="1.15" stroke-linejoin="round"/>
<path d="M999.9,431.4 L1008.0,429.4 L1012.1,433.4 L1008.0,445.6 L1004.0,459.7 L999.9,461.7 L998.9,445.6Z" fill="#fcc5a9"/>
<path d="M999.9,431.4 L1008.0,429.4 L1012.1,433.4 L1008.0,445.6 L1004.0,459.7 L999.9,461.7 L998.9,445.6 L999.9,431.4" fill="none" stroke="#4a1812" stroke-width="1.15" stroke-linejoin="round"/>
<path d="M1302.0,184.7 L1326.8,188.9 L1333.0,201.3 L1335.1,215.7 L1331.0,226.1 L1322.7,226.1 L1318.6,217.8 L1308.2,205.4Z" fill="#fcc5a9"/>
<path d="M1302.0,184.7 L1326.8,188.9 L1333.0,201.3 L1335.1,215.7 L1331.0,226.1 L1322.7,226.1 L1318.6,217.8 L1308.2,205.4 L1302.0,184.7" fill="none" stroke="#4a1812" stroke-width="1.15" stroke-linejoin="round"/>
<path d="M1376.4,182.7 L1397.1,182.7 L1401.3,188.9 L1388.9,197.1 L1380.6,197.1Z" fill="#f88867"/>
<path d="M1376.4,182.7 L1397.1,182.7 L1401.3,188.9 L1388.9,197.1 L1380.6,197.1 L1376.4,182.7" fill="none" stroke="#4a1812" stroke-width="1.15" stroke-linejoin="round"/>
<path d="M1095.0,183.0 L1266.0,181.0 L1268.0,190.0 L1262.0,198.0 L1271.0,203.0 L1299.0,190.0 L1310.0,188.0 L1316.0,199.0 L1332.0,214.0 L1320.0,225.0 L1305.0,240.0 L1303.0,247.0 L1296.0,227.0 L1288.0,218.0 L1280.0,214.0 L1266.0,230.0 L1260.0,234.0 L1255.0,245.0 L1246.0,236.0 L1238.0,236.0 L1236.0,225.0 L1220.0,212.0 L1160.0,212.0 L1120.0,215.0 L1105.0,213.0 L1100.0,206.0 L1098.0,198.0 L1093.0,190.0Z" fill="#fcc5a9"/>
<path d="M1095.0,183.0 L1266.0,181.0 L1268.0,190.0 L1262.0,198.0 L1271.0,203.0 L1299.0,190.0 L1310.0,188.0 L1316.0,199.0 L1332.0,214.0 L1320.0,225.0 L1305.0,240.0 L1303.0,247.0 L1296.0,227.0 L1288.0,218.0 L1280.0,214.0 L1266.0,230.0 L1260.0,234.0 L1255.0,245.0 L1246.0,236.0 L1238.0,236.0 L1236.0,225.0 L1220.0,212.0 L1160.0,212.0 L1120.0,215.0 L1105.0,213.0 L1100.0,206.0 L1098.0,198.0 L1093.0,190.0 L1095.0,183.0" fill="none" stroke="#4a1812" stroke-width="1.15" stroke-linejoin="round"/>
<path d="M1268.0,182.0 L1300.0,182.0 L1330.0,182.0 L1336.0,200.0 L1332.0,214.0 L1316.0,199.0 L1310.0,188.0 L1299.0,190.0 L1271.0,203.0 L1262.0,198.0 L1268.0,190.0Z" fill="#f88867"/>
<path d="M1268.0,182.0 L1300.0,182.0 L1330.0,182.0 L1336.0,200.0 L1332.0,214.0 L1316.0,199.0 L1310.0,188.0 L1299.0,190.0 L1271.0,203.0 L1262.0,198.0 L1268.0,190.0 L1268.0,182.0" fill="none" stroke="#4a1812" stroke-width="1.15" stroke-linejoin="round"/>
<path d="M1231.0,216.0 L1240.0,210.0 L1244.0,222.0 L1236.0,232.0 L1230.0,228.0Z" fill="#e54e3d"/>
<path d="M1231.0,216.0 L1240.0,210.0 L1244.0,222.0 L1236.0,232.0 L1230.0,228.0 L1231.0,216.0" fill="none" stroke="#4a1812" stroke-width="1.15" stroke-linejoin="round"/>
<path d="M1124.0,203.0 L1135.0,199.0 L1150.0,199.0 L1163.0,201.0 L1165.0,206.0 L1152.0,211.0 L1132.0,211.0 L1124.0,208.0Z" fill="#fde6dc"/>
<path d="M1124.0,203.0 L1135.0,199.0 L1150.0,199.0 L1163.0,201.0 L1165.0,206.0 L1152.0,211.0 L1132.0,211.0 L1124.0,208.0 L1124.0,203.0" fill="none" stroke="#4a1812" stroke-width="1.15" stroke-linejoin="round"/>
<path d="M1128.0,205.0 L1137.0,202.0 L1150.0,202.0 L1160.0,204.0 L1158.0,207.0 L1148.0,209.0 L1133.0,209.0Z" fill="#ffffff"/>
<path d="M1130.0,190.0 L1142.0,186.0 L1158.0,186.0 L1163.0,190.0 L1155.0,194.0 L1138.0,195.0Z" fill="#f88867"/>
<path d="M1130.0,190.0 L1142.0,186.0 L1158.0,186.0 L1163.0,190.0 L1155.0,194.0 L1138.0,195.0 L1130.0,190.0" fill="none" stroke="#4a1812" stroke-width="1.15" stroke-linejoin="round"/>
<path d="M1109.8,220.9 L1118.6,231.4 L1119.0,231.7 L1119.4,232.1 L1132.5,243.1 L1148.0,256.3 L1148.4,256.6 L1148.9,256.9 L1149.4,257.2 L1149.9,257.4 L1150.4,257.5 L1168.0,261.9 L1168.6,262.0 L1169.1,262.1 L1169.6,262.1 L1170.1,262.1 L1192.2,259.9 L1214.2,257.7 L1214.8,257.6 L1215.5,257.4 L1216.1,257.2 L1216.7,256.9 L1227.8,250.3 L1228.2,249.9 L1228.7,249.6 L1229.1,249.2 L1229.5,248.7 L1229.8,248.3 L1230.1,247.8 L1236.7,234.6 L1236.9,234.0 L1237.1,233.5 L1237.2,232.9 L1237.3,232.3 L1237.3,231.7 L1237.2,231.1 L1237.1,230.5 L1237.0,229.9 L1236.7,229.3 L1236.4,228.8 L1229.8,217.8 L1229.5,217.3 L1229.1,216.8 L1228.7,216.4 L1228.2,216.0 L1227.7,215.7 L1216.6,209.3 L1216.1,209.0 L1215.5,208.8 L1215.0,208.7 L1214.4,208.6 L1203.4,207.1 L1202.7,207.0 L1202.1,207.0 L1180.1,209.0 L1158.5,211.0 L1136.9,209.0 L1136.4,209.0 L1135.9,209.0 L1113.9,211.0 L1113.3,211.1 L1112.7,211.2 L1112.1,211.4 L1111.6,211.7 L1111.1,212.0 L1110.6,212.4 L1110.2,212.7 L1109.8,213.2 L1109.4,213.7 L1109.1,214.2 L1108.9,214.7 L1108.7,215.3 L1108.5,215.8 L1108.4,216.4 L1108.4,217.0 L1108.4,217.6 L1108.5,218.2 L1108.7,218.8 L1108.9,219.3 L1109.1,219.9 L1109.4,220.4Z" fill="#e54e3d"/>
<path d="M1109.8,220.9 L1118.6,231.4 L1119.0,231.7 L1119.4,232.1 L1132.5,243.1 L1148.0,256.3 L1148.4,256.6 L1148.9,256.9 L1149.4,257.2 L1149.9,257.4 L1150.4,257.5 L1168.0,261.9 L1168.6,262.0 L1169.1,262.1 L1169.6,262.1 L1170.1,262.1 L1192.2,259.9 L1214.2,257.7 L1214.8,257.6 L1215.5,257.4 L1216.1,257.2 L1216.7,256.9 L1227.8,250.3 L1228.2,249.9 L1228.7,249.6 L1229.1,249.2 L1229.5,248.7 L1229.8,248.3 L1230.1,247.8 L1236.7,234.6 L1236.9,234.0 L1237.1,233.5 L1237.2,232.9 L1237.3,232.3 L1237.3,231.7 L1237.2,231.1 L1237.1,230.5 L1237.0,229.9 L1236.7,229.3 L1236.4,228.8 L1229.8,217.8 L1229.5,217.3 L1229.1,216.8 L1228.7,216.4 L1228.2,216.0 L1227.7,215.7 L1216.6,209.3 L1216.1,209.0 L1215.5,208.8 L1215.0,208.7 L1214.4,208.6 L1203.4,207.1 L1202.7,207.0 L1202.1,207.0 L1180.1,209.0 L1158.5,211.0 L1136.9,209.0 L1136.4,209.0 L1135.9,209.0 L1113.9,211.0 L1113.3,211.1 L1112.7,211.2 L1112.1,211.4 L1111.6,211.7 L1111.1,212.0 L1110.6,212.4 L1110.2,212.7 L1109.8,213.2 L1109.4,213.7 L1109.1,214.2 L1108.9,214.7 L1108.7,215.3 L1108.5,215.8 L1108.4,216.4 L1108.4,217.0 L1108.4,217.6 L1108.5,218.2 L1108.7,218.8 L1108.9,219.3 L1109.1,219.9 L1109.4,220.4 L1109.8,220.9" fill="none" stroke="#4a1812" stroke-width="1.15" stroke-linejoin="round"/>
<path d="M1111.2,219.7 L1120.0,230.2 L1120.2,230.5 L1120.5,230.7 L1133.7,241.7 L1149.2,254.9 L1149.5,255.1 L1149.8,255.3 L1150.2,255.5 L1150.5,255.7 L1150.9,255.8 L1168.5,260.2 L1168.8,260.2 L1169.2,260.3 L1169.6,260.3 L1169.9,260.3 L1192.0,258.1 L1214.0,255.9 L1214.5,255.8 L1214.9,255.7 L1215.3,255.5 L1215.7,255.3 L1226.8,248.7 L1227.2,248.5 L1227.5,248.2 L1227.8,248.0 L1228.0,247.7 L1228.3,247.3 L1228.5,247.0 L1235.1,233.8 L1235.2,233.4 L1235.4,233.0 L1235.4,232.6 L1235.5,232.2 L1235.5,231.7 L1235.5,231.3 L1235.4,230.9 L1235.3,230.5 L1235.1,230.1 L1234.9,229.7 L1228.3,218.7 L1228.1,218.4 L1227.8,218.1 L1227.5,217.8 L1227.2,217.5 L1226.8,217.3 L1215.7,210.9 L1215.3,210.7 L1215.0,210.5 L1214.6,210.4 L1214.2,210.3 L1203.2,208.8 L1202.7,208.8 L1202.2,208.8 L1180.2,210.8 L1158.5,212.8 L1136.8,210.8 L1136.4,210.8 L1136.0,210.8 L1114.0,212.8 L1113.6,212.9 L1113.2,213.0 L1112.8,213.1 L1112.4,213.3 L1112.1,213.5 L1111.7,213.7 L1111.4,214.0 L1111.2,214.3 L1110.9,214.7 L1110.7,215.0 L1110.5,215.4 L1110.4,215.8 L1110.3,216.2 L1110.2,216.6 L1110.2,217.0 L1110.2,217.4 L1110.3,217.8 L1110.4,218.2 L1110.5,218.6 L1110.7,219.0 L1110.9,219.4Z" fill="#7a0022"/>
<path d="M1111.2,219.7 L1120.0,230.2 L1120.2,230.5 L1120.5,230.7 L1133.7,241.7 L1149.2,254.9 L1149.5,255.1 L1149.8,255.3 L1150.2,255.5 L1150.5,255.7 L1150.9,255.8 L1168.5,260.2 L1168.8,260.2 L1169.2,260.3 L1169.6,260.3 L1169.9,260.3 L1192.0,258.1 L1214.0,255.9 L1214.5,255.8 L1214.9,255.7 L1215.3,255.5 L1215.7,255.3 L1226.8,248.7 L1227.2,248.5 L1227.5,248.2 L1227.8,248.0 L1228.0,247.7 L1228.3,247.3 L1228.5,247.0 L1235.1,233.8 L1235.2,233.4 L1235.4,233.0 L1235.4,232.6 L1235.5,232.2 L1235.5,231.7 L1235.5,231.3 L1235.4,230.9 L1235.3,230.5 L1235.1,230.1 L1234.9,229.7 L1228.3,218.7 L1228.1,218.4 L1227.8,218.1 L1227.5,217.8 L1227.2,217.5 L1226.8,217.3 L1215.7,210.9 L1215.3,210.7 L1215.0,210.5 L1214.6,210.4 L1214.2,210.3 L1203.2,208.8 L1202.7,208.8 L1202.2,208.8 L1180.2,210.8 L1158.5,212.8 L1136.8,210.8 L1136.4,210.8 L1136.0,210.8 L1114.0,212.8 L1113.6,212.9 L1113.2,213.0 L1112.8,213.1 L1112.4,213.3 L1112.1,213.5 L1111.7,213.7 L1111.4,214.0 L1111.2,214.3 L1110.9,214.7 L1110.7,215.0 L1110.5,215.4 L1110.4,215.8 L1110.3,216.2 L1110.2,216.6 L1110.2,217.0 L1110.2,217.4 L1110.3,217.8 L1110.4,218.2 L1110.5,218.6 L1110.7,219.0 L1110.9,219.4 L1111.2,219.7" fill="none" stroke="#4a1812" stroke-width="1.15" stroke-linejoin="round"/>
<path d="M1114.4,217.0 L1136.4,215.0 L1158.5,217.0 L1180.6,215.0 L1202.6,213.0 L1213.6,214.5 L1224.7,220.9 L1231.3,231.9 L1224.7,245.1 L1213.6,251.7 L1191.6,253.9 L1169.5,256.1 L1151.9,251.7 L1136.4,238.5 L1123.2,227.5Z" fill="#ffffff"/>
<path d="M1091.2,204.6 L1093.2,211.6 L1093.4,212.2 L1093.7,212.8 L1094.0,213.3 L1094.3,213.8 L1094.7,214.2 L1095.2,214.6 L1095.6,215.0 L1096.1,215.3 L1096.7,215.5 L1097.2,215.7 L1097.8,215.9 L1098.4,216.0 L1099.0,216.0 L1106.0,216.0 L1106.6,216.0 L1107.2,215.9 L1107.8,215.7 L1108.3,215.5 L1108.9,215.3 L1109.4,215.0 L1109.8,214.6 L1110.3,214.2 L1110.7,213.8 L1111.0,213.3 L1111.3,212.8 L1111.6,212.2 L1111.8,211.6 L1113.8,204.6 L1113.9,204.1 L1114.0,203.5 L1114.0,202.9 L1114.0,202.3 L1113.9,201.7 L1113.7,201.2 L1113.5,200.6 L1113.3,200.1 L1112.9,199.6 L1112.6,199.1 L1112.2,198.7 L1111.7,198.3 L1106.7,194.3 L1106.3,194.0 L1105.8,193.7 L1105.2,193.4 L1104.7,193.2 L1104.1,193.1 L1103.6,193.0 L1103.0,193.0 L1102.4,193.0 L1101.8,193.1 L1101.2,193.3 L1100.7,193.5 L1100.2,193.7 L1099.7,194.0 L1093.7,198.0 L1093.2,198.4 L1092.8,198.7 L1092.4,199.2 L1092.0,199.6 L1091.7,200.1 L1091.5,200.7 L1091.3,201.2 L1091.1,201.8 L1091.0,202.3 L1091.0,202.9 L1091.0,203.5 L1091.1,204.1Z" fill="#e54e3d"/>
<path d="M1091.2,204.6 L1093.2,211.6 L1093.4,212.2 L1093.7,212.8 L1094.0,213.3 L1094.3,213.8 L1094.7,214.2 L1095.2,214.6 L1095.6,215.0 L1096.1,215.3 L1096.7,215.5 L1097.2,215.7 L1097.8,215.9 L1098.4,216.0 L1099.0,216.0 L1106.0,216.0 L1106.6,216.0 L1107.2,215.9 L1107.8,215.7 L1108.3,215.5 L1108.9,215.3 L1109.4,215.0 L1109.8,214.6 L1110.3,214.2 L1110.7,213.8 L1111.0,213.3 L1111.3,212.8 L1111.6,212.2 L1111.8,211.6 L1113.8,204.6 L1113.9,204.1 L1114.0,203.5 L1114.0,202.9 L1114.0,202.3 L1113.9,201.7 L1113.7,201.2 L1113.5,200.6 L1113.3,200.1 L1112.9,199.6 L1112.6,199.1 L1112.2,198.7 L1111.7,198.3 L1106.7,194.3 L1106.3,194.0 L1105.8,193.7 L1105.2,193.4 L1104.7,193.2 L1104.1,193.1 L1103.6,193.0 L1103.0,193.0 L1102.4,193.0 L1101.8,193.1 L1101.2,193.3 L1100.7,193.5 L1100.2,193.7 L1099.7,194.0 L1093.7,198.0 L1093.2,198.4 L1092.8,198.7 L1092.4,199.2 L1092.0,199.6 L1091.7,200.1 L1091.5,200.7 L1091.3,201.2 L1091.1,201.8 L1091.0,202.3 L1091.0,202.9 L1091.0,203.5 L1091.1,204.1 L1091.2,204.6" fill="none" stroke="#4a1812" stroke-width="1.15" stroke-linejoin="round"/>
<path d="M1093.0,204.2 L1095.0,211.2 L1095.1,211.5 L1095.3,211.9 L1095.5,212.3 L1095.7,212.6 L1096.0,212.9 L1096.3,213.2 L1096.6,213.5 L1097.0,213.7 L1097.4,213.9 L1097.8,214.0 L1098.2,214.1 L1098.6,214.2 L1099.0,214.2 L1106.0,214.2 L1106.4,214.2 L1106.8,214.1 L1107.2,214.0 L1107.6,213.9 L1108.0,213.7 L1108.4,213.5 L1108.7,213.2 L1109.0,212.9 L1109.3,212.6 L1109.5,212.3 L1109.7,211.9 L1109.9,211.5 L1110.0,211.2 L1112.0,204.2 L1112.1,203.8 L1112.2,203.3 L1112.2,202.9 L1112.2,202.5 L1112.1,202.1 L1112.0,201.7 L1111.9,201.3 L1111.7,201.0 L1111.5,200.6 L1111.2,200.3 L1110.9,200.0 L1110.6,199.7 L1105.6,195.7 L1105.3,195.5 L1104.9,195.3 L1104.6,195.1 L1104.2,195.0 L1103.8,194.9 L1103.4,194.8 L1103.0,194.8 L1102.6,194.8 L1102.2,194.9 L1101.8,195.0 L1101.4,195.1 L1101.0,195.3 L1100.7,195.5 L1094.7,199.5 L1094.3,199.7 L1094.0,200.0 L1093.8,200.3 L1093.5,200.6 L1093.3,201.0 L1093.1,201.4 L1093.0,201.7 L1092.9,202.1 L1092.8,202.5 L1092.8,202.9 L1092.8,203.4 L1092.9,203.8Z" fill="#7a0022"/>
<path d="M1093.0,204.2 L1095.0,211.2 L1095.1,211.5 L1095.3,211.9 L1095.5,212.3 L1095.7,212.6 L1096.0,212.9 L1096.3,213.2 L1096.6,213.5 L1097.0,213.7 L1097.4,213.9 L1097.8,214.0 L1098.2,214.1 L1098.6,214.2 L1099.0,214.2 L1106.0,214.2 L1106.4,214.2 L1106.8,214.1 L1107.2,214.0 L1107.6,213.9 L1108.0,213.7 L1108.4,213.5 L1108.7,213.2 L1109.0,212.9 L1109.3,212.6 L1109.5,212.3 L1109.7,211.9 L1109.9,211.5 L1110.0,211.2 L1112.0,204.2 L1112.1,203.8 L1112.2,203.3 L1112.2,202.9 L1112.2,202.5 L1112.1,202.1 L1112.0,201.7 L1111.9,201.3 L1111.7,201.0 L1111.5,200.6 L1111.2,200.3 L1110.9,200.0 L1110.6,199.7 L1105.6,195.7 L1105.3,195.5 L1104.9,195.3 L1104.6,195.1 L1104.2,195.0 L1103.8,194.9 L1103.4,194.8 L1103.0,194.8 L1102.6,194.8 L1102.2,194.9 L1101.8,195.0 L1101.4,195.1 L1101.0,195.3 L1100.7,195.5 L1094.7,199.5 L1094.3,199.7 L1094.0,200.0 L1093.8,200.3 L1093.5,200.6 L1093.3,201.0 L1093.1,201.4 L1093.0,201.7 L1092.9,202.1 L1092.8,202.5 L1092.8,202.9 L1092.8,203.4 L1092.9,203.8 L1093.0,204.2" fill="none" stroke="#4a1812" stroke-width="1.15" stroke-linejoin="round"/>
<path d="M1097.0,203.0 L1103.0,199.0 L1108.0,203.0 L1106.0,210.0 L1099.0,210.0Z" fill="#ffffff"/>
<path d="M1101.9,198.1 L1104.9,203.1 L1105.2,203.6 L1105.6,204.0 L1106.0,204.5 L1106.5,204.8 L1107.0,205.2 L1107.5,205.4 L1108.0,205.7 L1108.6,205.8 L1109.2,205.9 L1109.8,206.0 L1110.4,206.0 L1111.0,205.9 L1111.6,205.8 L1112.1,205.6 L1112.7,205.4 L1118.7,202.4 L1119.2,202.1 L1119.7,201.7 L1120.1,201.4 L1120.5,200.9 L1120.9,200.5 L1121.2,200.0 L1121.5,199.5 L1121.7,198.9 L1121.8,198.4 L1121.9,197.8 L1122.0,197.2 L1122.0,196.6 L1121.9,196.1 L1121.8,195.5 L1121.6,194.9 L1121.4,194.4 L1121.1,193.9 L1120.8,193.4 L1117.8,189.4 L1117.4,189.0 L1117.0,188.5 L1116.6,188.2 L1116.1,187.9 L1115.6,187.6 L1115.1,187.4 L1114.5,187.2 L1113.9,187.1 L1113.4,187.0 L1112.8,187.0 L1112.2,187.1 L1111.7,187.2 L1111.1,187.3 L1105.1,189.3 L1104.5,189.5 L1104.0,189.8 L1103.5,190.1 L1103.0,190.5 L1102.6,190.9 L1102.2,191.4 L1101.9,191.8 L1101.6,192.4 L1101.4,192.9 L1101.2,193.5 L1101.1,194.1 L1101.0,194.7 L1101.0,195.3 L1101.1,195.9 L1101.2,196.4 L1101.3,197.0 L1101.6,197.6Z" fill="#e54e3d"/>
<path d="M1101.9,198.1 L1104.9,203.1 L1105.2,203.6 L1105.6,204.0 L1106.0,204.5 L1106.5,204.8 L1107.0,205.2 L1107.5,205.4 L1108.0,205.7 L1108.6,205.8 L1109.2,205.9 L1109.8,206.0 L1110.4,206.0 L1111.0,205.9 L1111.6,205.8 L1112.1,205.6 L1112.7,205.4 L1118.7,202.4 L1119.2,202.1 L1119.7,201.7 L1120.1,201.4 L1120.5,200.9 L1120.9,200.5 L1121.2,200.0 L1121.5,199.5 L1121.7,198.9 L1121.8,198.4 L1121.9,197.8 L1122.0,197.2 L1122.0,196.6 L1121.9,196.1 L1121.8,195.5 L1121.6,194.9 L1121.4,194.4 L1121.1,193.9 L1120.8,193.4 L1117.8,189.4 L1117.4,189.0 L1117.0,188.5 L1116.6,188.2 L1116.1,187.9 L1115.6,187.6 L1115.1,187.4 L1114.5,187.2 L1113.9,187.1 L1113.4,187.0 L1112.8,187.0 L1112.2,187.1 L1111.7,187.2 L1111.1,187.3 L1105.1,189.3 L1104.5,189.5 L1104.0,189.8 L1103.5,190.1 L1103.0,190.5 L1102.6,190.9 L1102.2,191.4 L1101.9,191.8 L1101.6,192.4 L1101.4,192.9 L1101.2,193.5 L1101.1,194.1 L1101.0,194.7 L1101.0,195.3 L1101.1,195.9 L1101.2,196.4 L1101.3,197.0 L1101.6,197.6 L1101.9,198.1" fill="none" stroke="#4a1812" stroke-width="1.15" stroke-linejoin="round"/>
<path d="M1103.4,197.2 L1106.4,202.2 L1106.6,202.5 L1106.9,202.8 L1107.2,203.1 L1107.5,203.4 L1107.9,203.6 L1108.2,203.8 L1108.6,204.0 L1109.0,204.1 L1109.4,204.2 L1109.9,204.2 L1110.3,204.2 L1110.7,204.1 L1111.1,204.1 L1111.5,203.9 L1111.9,203.8 L1117.9,200.8 L1118.2,200.6 L1118.6,200.3 L1118.9,200.1 L1119.2,199.8 L1119.4,199.4 L1119.6,199.1 L1119.8,198.7 L1120.0,198.4 L1120.1,198.0 L1120.2,197.6 L1120.2,197.2 L1120.2,196.7 L1120.1,196.3 L1120.1,195.9 L1119.9,195.6 L1119.8,195.2 L1119.6,194.8 L1119.4,194.5 L1116.4,190.5 L1116.1,190.2 L1115.8,189.9 L1115.5,189.6 L1115.2,189.4 L1114.8,189.2 L1114.4,189.1 L1114.1,188.9 L1113.7,188.9 L1113.3,188.8 L1112.9,188.8 L1112.5,188.8 L1112.1,188.9 L1111.7,189.0 L1105.7,191.0 L1105.3,191.2 L1104.9,191.4 L1104.6,191.6 L1104.2,191.8 L1103.9,192.1 L1103.7,192.4 L1103.4,192.8 L1103.2,193.2 L1103.1,193.5 L1102.9,193.9 L1102.9,194.3 L1102.8,194.8 L1102.8,195.2 L1102.8,195.6 L1102.9,196.0 L1103.0,196.4 L1103.2,196.8Z" fill="#7a0022"/>
<path d="M1103.4,197.2 L1106.4,202.2 L1106.6,202.5 L1106.9,202.8 L1107.2,203.1 L1107.5,203.4 L1107.9,203.6 L1108.2,203.8 L1108.6,204.0 L1109.0,204.1 L1109.4,204.2 L1109.9,204.2 L1110.3,204.2 L1110.7,204.1 L1111.1,204.1 L1111.5,203.9 L1111.9,203.8 L1117.9,200.8 L1118.2,200.6 L1118.6,200.3 L1118.9,200.1 L1119.2,199.8 L1119.4,199.4 L1119.6,199.1 L1119.8,198.7 L1120.0,198.4 L1120.1,198.0 L1120.2,197.6 L1120.2,197.2 L1120.2,196.7 L1120.1,196.3 L1120.1,195.9 L1119.9,195.6 L1119.8,195.2 L1119.6,194.8 L1119.4,194.5 L1116.4,190.5 L1116.1,190.2 L1115.8,189.9 L1115.5,189.6 L1115.2,189.4 L1114.8,189.2 L1114.4,189.1 L1114.1,188.9 L1113.7,188.9 L1113.3,188.8 L1112.9,188.8 L1112.5,188.8 L1112.1,188.9 L1111.7,189.0 L1105.7,191.0 L1105.3,191.2 L1104.9,191.4 L1104.6,191.6 L1104.2,191.8 L1103.9,192.1 L1103.7,192.4 L1103.4,192.8 L1103.2,193.2 L1103.1,193.5 L1102.9,193.9 L1102.9,194.3 L1102.8,194.8 L1102.8,195.2 L1102.8,195.6 L1102.9,196.0 L1103.0,196.4 L1103.2,196.8 L1103.4,197.2" fill="none" stroke="#4a1812" stroke-width="1.15" stroke-linejoin="round"/>
<path d="M1107.0,195.0 L1113.0,193.0 L1116.0,197.0 L1110.0,200.0Z" fill="#ffffff"/>
<path d="M1336.0,232.0 L1350.0,222.0 L1366.0,212.0 L1376.0,204.0 L1382.0,198.0 L1390.0,200.0 L1388.0,212.0 L1378.0,226.0 L1362.0,236.0 L1345.0,246.0 L1334.0,244.0Z" fill="#fcc5a9"/>
<path d="M1336.0,232.0 L1350.0,222.0 L1366.0,212.0 L1376.0,204.0 L1382.0,198.0 L1390.0,200.0 L1388.0,212.0 L1378.0,226.0 L1362.0,236.0 L1345.0,246.0 L1334.0,244.0 L1336.0,232.0" fill="none" stroke="#4a1812" stroke-width="1.15" stroke-linejoin="round"/>
<path d="M330.0,226.0 L345.0,228.0 L360.0,245.0 L372.0,262.0 L372.0,275.0 L360.0,272.0 L345.0,255.0 L333.0,240.0Z" fill="#d3d3d3"/>
<path d="M430.0,268.0 L462.0,268.0 L462.0,288.0 L452.0,290.0 L440.0,289.0 L430.0,284.0Z" fill="#d3d3d3"/>
<path d="M474.0,250.0 L492.0,250.0 L494.0,268.0 L474.0,268.0Z" fill="#d3d3d3"/>
<path d="M434.0,300.0 L438.0,295.5 L446.0,295.0 L452.0,299.0 L451.0,305.0 L445.0,307.5 L437.0,306.0Z" fill="#fcc5a9"/>
<path d="M434.0,300.0 L438.0,295.5 L446.0,295.0 L452.0,299.0 L451.0,305.0 L445.0,307.5 L437.0,306.0 L434.0,300.0" fill="none" stroke="#4a1812" stroke-width="1.15" stroke-linejoin="round"/>
<path d="M440.0,300.0 L444.0,298.5 L447.0,301.0 L444.0,303.5Z" fill="#f88867"/>
<path d="M440.0,300.0 L444.0,298.5 L447.0,301.0 L444.0,303.5 L440.0,300.0" fill="none" stroke="#4a1812" stroke-width="1.15" stroke-linejoin="round"/>
</g>
<path d="M296.5,161 L308.5,168.4 L312.2,175.7 L310.3,191.4 L312.2,205.1 L316.8,210.7 L321.4,218.9 L325,224.4" fill="none" stroke="#1a0505" stroke-width="2.3" stroke-linejoin="round"/>
<path d="M922.5,193.6 L924.5,189.5 L927.3,186.3 L931.4,182.6 L935.8,177.4 L939.9,177.0 L946.8,179.4 L942.7,181.8 L946.8,185.5 L954.9,183.0 L958.9,182.2 L962.9,184.7 L967.0,186.3 L973.1,189.9 L979.5,197.2 L973.1,199.6 L965.0,200.0 L958.9,198.4 L952.8,195.6 L946.8,195.6 L938.7,198.8 L929.4,198.8 L924.5,197.6ZM952.8,181.8 L954.9,178.2 L960.9,175.4 L969.8,174.6 L965.8,178.2 L962.9,181.4 L958.9,181.8ZM1001.4,184.3 L1009.5,177.4 L1019.6,175.4 L1025.6,177.4 L1026.5,182.2 L1018.8,185.5 L1016.8,187.5 L1023.6,195.6 L1025.6,199.6 L1024.8,205.7 L1029.3,214.6 L1019.6,216.6 L1013.5,214.2 L1009.5,210.9 L1011.5,202.4 L1005.4,195.6 L1003.4,191.5Z" fill="#d3d3d3" stroke="none"/>
<path d="M131.6,100.2 L137.7,88.5 L151.9,82.4 L176.1,77.6 L196.4,79.2 L220.6,81.6 L240.9,83.6 L261.1,86.5 L273.2,84.4 L293.5,81.6 L309.6,84.4 L333.9,87.3 L350.1,89.3 L374.4,89.7 L390.5,88.5 L414.8,91.3 L426.9,88.5 L431.0,76.4 L447.2,86.5 L463.4,88.5 L479.5,84.4 L479.5,90.5 L467.4,96.6 L459.3,104.6 L447.2,108.7 L433.0,116.8 L429.0,126.9 L435.0,131.7 L451.2,135.8 L467.4,141.8 L478.3,143.0 L479.5,151.9 L485.6,158.0 L491.7,156.0 L492.5,145.1 L499.8,139.0 L500.6,128.9 L495.7,120.8 L497.7,113.1 L511.9,113.5 L522.0,118.0 L530.1,126.9 L536.2,128.9 L544.3,127.7 L550.3,121.6 L553.2,130.9 L562.5,139.0 L568.5,142.2 L578.6,147.1 L584.7,153.1 L580.7,157.2 L568.5,162.4 L552.4,162.4 L542.2,163.2 L530.1,169.3 L524.0,175.4 L536.2,168.5 L548.3,166.5 L551.1,168.1 L548.3,172.1 L550.3,178.6 L554.4,180.2 L562.5,180.2 L566.5,175.4 L568.5,179.4 L562.5,182.2 L552.4,185.5 L545.1,189.5 L543.5,185.5 L550.3,182.2 L542.2,182.6 L538.2,185.5 L528.1,188.3 L525.2,192.3 L526.1,196.4 L528.1,196.4 L522.0,198.0 L512.7,201.2 L511.9,203.7 L508.3,208.1 L506.6,209.7 L503.8,215.8 L504.6,221.8 L505.8,223.1 L499.8,225.5 L493.7,228.7 L489.7,231.9 L483.6,236.0 L482.0,242.1 L485.6,250.1 L487.6,258.2 L486.0,263.5 L482.8,263.1 L480.3,258.2 L476.7,252.2 L475.5,247.3 L471.4,243.7 L465.4,244.9 L457.3,242.9 L451.2,242.9 L450.0,247.7 L445.2,247.3 L439.1,245.7 L431.0,245.7 L426.9,248.1 L418.9,253.0 L417.2,260.2 L416.0,268.3 L416.0,276.4 L417.6,281.3 L421.7,287.3 L426.9,290.1 L429.0,291.8 L437.1,290.1 L443.1,289.3 L445.2,285.3 L445.6,280.4 L455.3,278.4 L460.1,279.2 L457.7,286.5 L456.1,291.8 L454.1,294.6 L454.1,300.7 L457.3,301.5 L467.4,301.1 L473.9,303.9 L473.5,308.7 L473.1,320.9 L477.5,326.9 L483.6,329.7 L489.7,326.5 L495.7,328.1 L498.6,331.4 L496.5,335.8 L494.1,331.8 L489.7,329.7 L486.0,332.2 L487.6,335.4 L483.6,333.8 L475.5,331.8 L464.6,325.3 L463.4,318.8 L457.3,312.8 L449.2,310.8 L441.1,308.7 L435.0,302.3 L429.0,299.8 L420.9,301.9 L412.8,299.4 L404.7,295.8 L398.6,293.0 L390.5,289.3 L384.5,284.5 L385.3,278.4 L383.3,273.2 L378.4,268.3 L372.3,263.1 L369.1,258.2 L364.2,253.0 L362.2,248.1 L357.4,244.1 L354.1,238.8 L346.9,236.8 L348.1,242.1 L352.1,248.1 L357.4,254.2 L360.2,260.2 L364.2,266.3 L368.3,271.6 L366.3,272.8 L360.2,266.3 L357.4,262.3 L350.1,255.8 L349.3,250.9 L344.0,244.9 L338.8,236.8 L337.1,233.2 L332.7,228.7 L323.8,225.9 L321.8,221.0 L315.7,213.8 L310.4,205.7 L308.4,201.6 L308.8,195.6 L309.2,187.5 L309.6,178.6 L306.8,169.7 L314.5,169.3 L313.7,166.5 L305.6,163.2 L295.5,159.2 L291.4,153.1 L285.4,145.1 L279.3,141.0 L273.2,137.0 L265.1,130.9 L257.0,127.7 L246.9,123.6 L236.8,122.4 L224.7,121.6 L214.6,119.6 L206.5,123.6 L198.4,126.1 L202.4,117.6 L192.3,124.8 L188.3,128.9 L178.2,135.0 L168.1,139.0 L155.9,143.0 L145.8,145.1 L155.9,139.8 L170.1,132.9 L174.1,128.1 L157.9,128.5 L153.9,122.8 L144.6,120.8 L141.8,116.8 L139.7,112.7 L145.8,109.9 L160.0,107.5 L160.0,104.6 L149.8,104.6 L137.7,104.2ZM515.9,49.3 L536.2,57.8 L576.6,59.4 L584.7,66.2 L588.8,78.4 L596.9,81.2 L592.8,88.5 L598.9,96.6 L604.9,106.7 L613.0,114.7 L625.2,119.6 L635.3,122.8 L639.3,120.8 L645.4,112.7 L649.4,102.6 L663.6,99.8 L677.8,90.9 L689.9,89.3 L706.1,88.1 L718.2,82.4 L722.3,76.4 L724.3,68.3 L732.4,62.2 L736.4,54.1 L734.4,46.0 L742.5,40.0 L742.5,29.9 L568.5,29.9 L548.3,38.0 L528.1,44.0ZM560.4,94.5 L558.4,98.6 L550.3,102.6 L550.3,108.7 L542.2,114.7 L534.1,112.7 L520.0,106.7 L511.9,104.6 L497.7,104.6 L495.7,100.6 L511.9,92.5 L503.8,88.5 L491.7,83.2 L475.5,82.4 L463.4,80.4 L451.2,76.4 L455.3,68.3 L471.4,67.5 L487.6,67.5 L503.8,71.5 L520.0,76.4 L532.1,80.4 L538.2,84.4 L544.3,90.5ZM404.7,82.4 L390.5,87.3 L374.4,86.9 L354.1,88.5 L338.0,85.2 L331.9,80.4 L346.0,76.4 L333.9,72.3 L350.1,69.1 L370.3,71.1 L382.5,69.9 L398.6,74.3 L402.7,78.4ZM342.0,70.3 L325.8,76.4 L311.7,77.6 L303.6,74.3 L307.6,66.2 L325.8,65.0 L338.0,66.2ZM487.6,64.2 L463.4,64.2 L439.1,63.0 L422.9,58.2 L447.2,55.7 L479.5,56.5ZM495.7,56.1 L479.5,48.9 L451.2,50.1 L426.9,44.0 L439.1,33.9 L560.4,29.9 L528.1,40.0 L503.8,46.0ZM445.2,74.3 L426.9,74.3 L426.9,66.2 L443.1,66.2ZM418.9,75.1 L400.7,72.3 L396.6,68.3 L414.8,67.1ZM386.5,62.2 L366.3,63.0 L338.0,60.2 L350.1,56.1 L374.4,54.9 L388.5,58.2ZM418.9,60.2 L402.7,60.2 L402.7,55.7 L418.9,56.1ZM455.3,44.0 L426.9,49.3 L410.8,42.0 L431.0,37.2ZM485.6,107.5 L471.4,111.5 L459.3,106.7 L463.4,99.8 L473.5,100.2 L483.6,103.4ZM424.9,87.3 L412.8,86.5 L410.8,83.2 L422.9,83.6ZM571.0,172.9 L576.6,167.3 L584.7,165.3 L586.7,157.2 L587.5,165.3 L594.8,166.5 L598.1,173.3 L594.8,176.6 L588.8,175.4 L584.7,173.3ZM311.7,169.7 L305.6,167.3 L292.2,160.0 L297.5,160.0 L303.6,162.0 L308.8,166.1ZM194.3,132.9 L190.3,130.1 L186.3,132.1 L188.3,135.0ZM467.8,276.8 L471.4,273.6 L479.5,271.6 L487.6,272.4 L497.7,277.2 L505.8,281.7 L511.1,283.7 L497.7,284.9 L496.5,281.7 L487.6,277.2 L481.6,275.6 L475.5,276.4ZM510.3,291.0 L516.8,284.9 L528.9,285.7 L535.0,290.1 L522.0,294.2 L518.0,291.8ZM494.5,291.4 L503.0,292.6 L500.6,293.4 L495.7,292.2ZM539.4,290.5 L545.9,291.0 L545.5,292.6 L539.8,292.6ZM498.6,331.0 L500.6,330.6 L505.8,322.9 L509.9,320.9 L515.9,318.8 L520.8,315.2 L522.8,317.6 L520.4,320.9 L522.0,321.7 L528.1,316.8 L534.1,322.5 L544.3,322.5 L551.5,322.9 L561.3,322.1 L562.5,326.9 L568.5,331.0 L574.6,337.0 L580.7,341.1 L588.8,341.5 L596.9,343.1 L602.9,348.3 L607.0,358.0 L609.0,365.3 L615.1,370.2 L621.1,368.5 L631.2,375.4 L641.3,376.6 L651.5,377.4 L659.6,384.7 L668.5,386.7 L670.5,395.6 L668.5,403.7 L661.6,409.8 L655.5,417.9 L653.5,425.9 L652.7,436.0 L649.4,445.3 L645.4,454.2 L641.3,458.3 L631.2,459.1 L623.1,462.3 L617.1,468.4 L614.6,476.5 L613.0,481.3 L607.0,488.6 L600.9,494.6 L594.8,501.5 L590.8,506.0 L584.7,506.4 L578.6,503.9 L574.6,503.5 L579.9,508.8 L578.6,516.9 L572.6,520.9 L560.4,522.1 L559.6,529.0 L550.3,531.0 L548.3,537.1 L550.3,538.3 L546.3,545.2 L538.2,552.4 L544.3,557.3 L536.2,567.4 L532.1,573.4 L534.1,577.5 L524.0,577.5 L520.0,583.6 L509.9,577.5 L505.8,567.4 L507.9,559.3 L511.9,551.2 L513.9,543.1 L511.9,535.1 L513.9,525.0 L515.9,514.8 L520.0,502.7 L522.0,496.7 L522.0,486.6 L524.8,474.4 L526.1,462.3 L527.3,450.2 L526.9,439.3 L522.0,435.2 L507.9,428.0 L501.8,419.9 L497.7,411.8 L491.7,399.7 L487.6,393.6 L482.8,389.6 L482.8,383.5 L486.4,379.5 L487.6,375.4 L484.0,371.4 L487.6,362.1 L492.5,359.3 L496.5,351.2 L498.6,345.1 L497.7,339.0 L496.5,335.8ZM533.7,577.9 L534.1,587.2 L542.2,587.6 L547.1,586.4 L540.2,583.6 L536.2,579.5ZM563.3,572.6 L570.6,572.6 L577.4,573.9 L572.6,576.7 L566.5,575.9ZM788.6,219.8 L785.8,216.6 L781.3,215.0 L775.2,215.8 L775.7,209.7 L772.8,208.5 L775.2,201.6 L775.7,195.6 L773.6,191.5 L778.9,188.7 L787.8,189.1 L797.1,189.5 L804.0,189.9 L806.0,185.5 L806.4,179.4 L802.4,175.0 L793.0,171.7 L792.2,168.9 L799.1,168.1 L804.8,168.5 L805.6,164.5 L811.3,165.7 L817.3,162.4 L821.4,158.8 L825.4,157.2 L829.5,153.1 L830.7,151.1 L837.5,149.1 L845.6,147.9 L846.4,143.0 L844.4,137.0 L846.0,134.5 L853.7,132.1 L852.9,137.0 L855.3,138.2 L851.7,143.0 L854.9,145.9 L855.7,147.1 L861.8,145.5 L867.9,147.1 L876.0,145.1 L886.1,143.8 L890.1,145.5 L896.2,142.2 L896.2,137.0 L898.2,132.9 L902.3,132.1 L908.3,134.1 L909.6,129.7 L906.3,126.1 L924.5,124.8 L932.6,122.8 L926.5,120.4 L916.4,121.2 L904.3,123.2 L898.2,120.0 L898.2,114.7 L897.0,109.9 L910.4,103.0 L914.4,101.4 L904.3,99.4 L898.2,101.0 L896.2,104.6 L888.1,108.7 L882.0,112.7 L880.8,118.8 L887.3,122.8 L882.0,127.7 L878.0,132.9 L876.0,138.2 L869.9,139.0 L863.8,141.4 L863.0,137.8 L859.0,132.1 L856.6,126.5 L853.7,123.6 L851.7,126.9 L843.6,130.5 L837.5,130.5 L833.5,126.9 L831.5,120.8 L831.5,114.7 L837.5,111.5 L845.6,108.7 L853.7,104.6 L861.8,98.6 L867.9,92.5 L874.0,88.5 L884.1,84.4 L892.2,82.4 L904.3,80.4 L914.4,78.0 L924.5,78.4 L932.6,82.4 L936.7,83.2 L944.7,85.2 L956.9,86.5 L977.1,92.5 L978.3,97.4 L967.0,98.2 L952.0,96.6 L942.7,94.1 L950.8,100.6 L954.9,105.9 L962.9,105.0 L975.1,104.2 L987.2,97.4 L990.1,89.7 L997.3,90.5 L1005.4,91.7 L1025.6,88.5 L1033.7,89.3 L1045.9,87.3 L1054.0,87.3 L1058.0,83.2 L1074.2,85.6 L1082.3,88.5 L1090.4,87.3 L1086.3,80.4 L1082.3,76.4 L1092.4,70.7 L1104.5,71.1 L1104.5,78.4 L1108.6,88.5 L1102.5,94.5 L1110.6,92.5 L1116.7,89.3 L1116.7,85.6 L1110.6,78.4 L1108.6,76.4 L1118.7,74.3 L1130.8,73.1 L1136.9,68.3 L1147.0,72.3 L1159.1,66.2 L1163.2,66.2 L1195.6,58.2 L1215.8,56.1 L1232.0,51.3 L1240.0,54.1 L1264.3,58.2 L1268.4,67.5 L1288.6,68.3 L1308.8,70.3 L1323.0,72.3 L1333.1,76.4 L1345.2,77.6 L1369.5,76.4 L1381.6,71.5 L1401.9,73.1 L1418.0,76.4 L1430.2,78.8 L1454.4,78.8 L1462.5,84.4 L1482.8,84.0 L1498.9,82.8 L1523.2,83.2 L1541.4,86.9 L1541.4,102.6 L1531.3,104.6 L1527.3,112.7 L1515.1,115.6 L1498.9,122.8 L1482.8,121.6 L1470.6,123.6 L1466.6,128.9 L1472.7,137.0 L1466.6,141.0 L1458.5,151.1 L1452.4,155.2 L1445.1,159.2 L1442.3,151.1 L1441.5,139.0 L1446.4,131.7 L1454.4,126.9 L1458.5,119.6 L1442.3,116.8 L1434.2,124.8 L1422.1,124.8 L1410.0,125.7 L1397.8,125.3 L1385.7,126.9 L1377.6,130.9 L1365.5,145.1 L1377.6,149.1 L1382.8,153.1 L1381.6,167.3 L1377.6,171.3 L1369.5,180.2 L1357.4,189.5 L1345.2,191.5 L1340.0,194.4 L1335.1,199.6 L1329.0,203.7 L1335.1,213.8 L1334.3,221.8 L1327.0,225.5 L1322.2,225.9 L1323.0,219.8 L1324.2,213.8 L1317.7,212.5 L1315.3,204.9 L1304.8,201.6 L1300.7,200.4 L1301.5,208.5 L1306.0,202.4 L1294.7,204.5 L1288.6,207.7 L1287.4,210.5 L1291.8,214.2 L1302.8,213.8 L1307.2,215.0 L1298.7,219.0 L1293.4,223.9 L1298.7,231.9 L1304.0,237.2 L1304.4,240.4 L1302.8,244.1 L1304.8,246.1 L1302.8,251.3 L1298.7,256.2 L1294.7,262.3 L1290.6,266.3 L1284.5,270.3 L1276.5,273.6 L1270.4,275.6 L1260.3,278.4 L1257.4,283.3 L1255.0,278.4 L1250.2,277.6 L1242.1,282.5 L1239.2,288.5 L1242.1,294.6 L1250.2,302.7 L1253.4,310.8 L1252.2,318.8 L1244.1,322.9 L1236.0,330.6 L1235.2,324.9 L1229.9,322.9 L1225.9,316.8 L1219.8,314.0 L1215.8,311.2 L1212.5,322.9 L1216.6,331.0 L1217.8,337.0 L1221.8,337.8 L1225.9,341.1 L1229.5,347.1 L1229.9,355.2 L1232.8,359.7 L1229.9,360.1 L1221.0,354.0 L1217.0,347.1 L1217.0,339.0 L1209.7,332.2 L1208.9,324.9 L1210.9,316.8 L1207.7,302.7 L1205.7,298.6 L1201.6,297.4 L1195.6,301.5 L1192.7,298.6 L1193.9,288.5 L1189.5,284.5 L1184.2,280.4 L1181.4,274.4 L1175.3,276.4 L1169.3,277.6 L1163.2,278.4 L1161.2,284.5 L1154.3,287.7 L1145.0,296.6 L1138.9,301.5 L1135.7,308.7 L1136.1,314.8 L1134.1,323.7 L1130.8,326.9 L1124.8,332.6 L1120.7,329.3 L1116.7,318.8 L1112.6,308.7 L1107.8,296.6 L1105.7,288.5 L1105.3,279.6 L1104.5,275.6 L1103.7,279.2 L1098.5,281.3 L1090.4,275.2 L1094.4,273.2 L1088.4,270.3 L1084.3,268.3 L1080.7,263.1 L1072.2,263.5 L1060.0,263.9 L1047.9,261.9 L1043.0,260.6 L1039.8,255.8 L1031.7,257.8 L1025.6,256.2 L1017.6,252.2 L1014.3,246.1 L1007.4,244.1 L1005.4,244.9 L1004.6,246.9 L1007.4,252.2 L1011.5,255.0 L1014.3,259.4 L1016.8,261.9 L1019.6,263.5 L1020.0,267.5 L1029.7,267.5 L1037.8,265.1 L1039.0,259.0 L1039.4,265.1 L1043.9,269.1 L1049.1,270.3 L1053.2,274.4 L1047.9,282.5 L1044.7,288.5 L1037.8,293.4 L1033.7,296.6 L1022.4,302.3 L1009.5,307.5 L993.3,313.6 L987.2,314.0 L984.4,306.7 L983.2,298.6 L977.1,288.5 L969.8,278.4 L967.0,270.3 L961.7,264.3 L954.9,252.6 L952.4,246.1 L949.6,253.0 L946.0,250.1 L943.1,244.5 L946.8,254.2 L952.8,268.3 L958.9,276.4 L962.1,288.5 L967.0,292.6 L971.0,302.7 L979.1,309.5 L986.0,317.6 L991.3,323.3 L1001.4,320.5 L1018.4,317.6 L1017.6,322.9 L1015.5,331.0 L1008.7,343.1 L1003.4,349.1 L995.3,357.2 L987.2,364.1 L979.1,372.6 L973.1,379.5 L969.8,385.5 L970.2,393.6 L971.0,401.7 L975.1,408.6 L975.9,421.9 L974.3,430.0 L962.9,437.3 L956.9,442.1 L952.8,446.1 L954.9,456.2 L954.9,462.3 L944.7,468.4 L943.9,472.4 L942.7,480.5 L937.9,484.5 L932.6,490.6 L924.5,498.7 L916.4,501.9 L908.3,503.1 L900.2,503.5 L892.2,506.0 L886.1,503.5 L884.9,497.9 L882.0,488.6 L878.0,480.9 L872.7,474.4 L869.9,458.3 L865.1,448.2 L859.0,436.0 L860.2,423.9 L865.9,413.8 L864.6,403.7 L861.0,389.6 L859.0,383.5 L849.7,375.4 L848.9,367.3 L849.7,356.4 L850.5,350.0 L846.4,347.1 L839.6,347.5 L833.5,345.9 L829.5,339.9 L819.3,339.9 L811.3,343.1 L803.2,345.9 L795.1,344.3 L780.9,347.5 L772.8,343.1 L764.7,337.0 L758.7,332.2 L757.4,326.9 L751.4,321.7 L748.5,318.8 L743.7,315.2 L743.3,309.5 L740.5,305.9 L744.5,299.8 L745.7,290.5 L744.5,285.7 L742.5,280.4 L744.5,274.4 L746.5,269.1 L751.4,262.3 L756.6,256.2 L762.7,252.2 L770.8,248.1 L772.0,242.1 L771.6,236.0 L776.9,230.7 L783.7,227.5 L787.0,220.6 L789.0,220.2 L795.1,223.1 L803.2,223.5 L811.3,220.2 L819.3,217.4 L831.5,216.6 L843.6,216.2 L852.5,214.6 L855.7,216.2 L853.7,219.0 L856.6,223.1 L851.7,227.1 L855.7,231.1 L861.8,232.8 L872.7,234.8 L874.0,238.0 L882.0,240.8 L890.1,242.9 L892.6,238.0 L894.2,234.0 L900.2,232.4 L906.3,235.2 L912.4,237.2 L920.5,238.4 L928.6,240.4 L936.7,237.6 L941.9,239.2 L950.0,238.8 L952.0,234.0 L954.9,227.9 L956.9,223.9 L956.1,217.8 L957.7,216.6 L950.8,216.6 L942.7,219.4 L934.6,217.8 L928.6,217.4 L922.5,215.8 L918.4,210.5 L919.7,205.7 L917.2,203.7 L918.4,201.6 L916.4,200.4 L908.3,200.8 L904.3,203.7 L902.3,205.7 L904.3,210.9 L902.3,215.8 L898.2,216.6 L898.2,210.5 L894.2,205.7 L890.1,201.6 L890.1,196.4 L886.1,193.6 L878.0,189.5 L874.0,186.7 L867.9,182.6 L865.9,180.6 L861.0,182.2 L861.8,186.7 L866.3,189.5 L869.9,194.4 L876.0,197.6 L886.1,202.8 L880.0,201.6 L878.0,205.7 L880.8,207.7 L878.0,210.5 L874.8,211.7 L875.2,207.7 L874.8,203.7 L869.9,201.2 L867.1,198.8 L861.8,196.8 L855.7,193.6 L852.9,189.5 L849.7,187.1 L845.6,186.3 L841.6,188.3 L835.5,191.1 L829.5,189.9 L823.4,190.7 L824.2,195.6 L824.2,196.4 L815.3,199.6 L811.3,204.5 L810.0,206.5 L812.1,208.9 L808.0,213.4 L802.4,217.0 L793.0,217.4ZM81.1,86.9 L103.3,92.5 L115.5,94.9 L124.4,98.6 L119.5,100.6 L113.4,104.6 L103.3,102.6 L91.2,101.4 L81.1,102.6ZM788.2,162.8 L797.1,162.0 L807.2,160.4 L816.5,158.8 L818.1,152.7 L812.5,149.5 L810.4,146.3 L805.2,141.8 L801.1,139.0 L802.8,134.5 L804.0,132.9 L797.1,132.1 L798.7,128.5 L791.0,128.5 L789.0,132.9 L786.2,137.0 L789.0,141.0 L791.8,143.8 L797.9,143.4 L799.1,147.9 L798.7,149.9 L793.0,149.9 L794.3,151.9 L794.7,153.9 L790.2,156.0 L797.9,157.6 L794.3,158.4ZM787.0,154.8 L785.8,146.7 L789.0,145.1 L786.2,142.2 L780.9,141.8 L776.9,144.7 L770.8,146.7 L770.8,149.9 L772.8,153.1 L769.6,156.0 L776.9,156.8ZM722.3,106.7 L714.2,100.6 L722.3,97.0 L746.5,96.6 L752.6,99.4 L756.6,102.6 L750.6,105.5 L736.4,109.1 L722.3,107.5ZM1340.8,227.9 L1347.2,222.2 L1359.4,221.4 L1363.4,215.8 L1367.5,213.8 L1375.6,209.7 L1377.6,203.7 L1377.6,198.4 L1383.7,198.4 L1385.7,205.7 L1381.6,211.7 L1381.2,217.8 L1380.8,221.0 L1377.6,223.9 L1374.4,222.7 L1371.5,225.5 L1365.5,225.5 L1364.6,226.7 L1360.6,229.9 L1357.4,225.5 L1351.3,225.9 L1343.2,227.9ZM1335.1,230.7 L1337.1,238.4 L1342.0,238.8 L1344.4,232.8 L1341.2,228.3 L1336.3,229.5ZM1347.2,230.7 L1356.1,228.7 L1355.3,227.1 L1349.3,227.5ZM1377.6,195.6 L1379.6,190.7 L1383.7,189.5 L1384.9,181.8 L1391.7,186.7 L1399.8,190.3 L1393.8,191.9 L1390.9,195.6 L1381.6,196.8ZM1385.7,179.4 L1391.7,177.4 L1389.7,167.3 L1395.8,167.3 L1389.7,157.2 L1389.7,147.1 L1387.7,145.9 L1385.7,159.2 L1384.9,171.3ZM1297.1,272.4 L1299.5,276.4 L1300.7,274.4 L1304.4,266.3 L1302.8,263.1 L1298.7,266.3ZM1250.6,287.7 L1254.2,291.8 L1260.3,286.1 L1258.3,284.1 L1253.4,284.5ZM1134.1,339.0 L1136.9,341.1 L1142.2,335.0 L1138.9,328.9 L1134.9,325.7 L1134.1,333.0ZM1296.7,290.5 L1306.0,290.5 L1304.8,300.7 L1302.8,307.9 L1312.9,312.8 L1312.1,314.4 L1303.6,309.5 L1299.1,309.5 L1296.7,300.7ZM1304.8,337.0 L1310.8,333.0 L1318.9,326.1 L1323.0,335.0 L1318.9,342.3 L1312.9,339.0ZM1304.8,318.8 L1309.6,324.9 L1312.9,322.9 L1316.9,318.8 L1318.9,314.8 L1313.7,314.4 L1308.8,317.6ZM1252.2,359.3 L1254.6,357.2 L1260.3,358.0 L1268.4,352.4 L1278.5,344.3 L1283.7,337.0 L1290.6,342.3 L1293.4,344.3 L1288.6,347.5 L1287.8,359.3 L1292.6,361.7 L1286.6,365.3 L1282.5,375.4 L1280.5,380.7 L1274.4,380.7 L1268.4,378.2 L1260.3,377.4 L1256.2,372.6 L1252.2,365.3ZM1196.8,342.7 L1205.7,344.3 L1215.8,355.2 L1229.9,367.3 L1234.0,373.4 L1240.0,377.4 L1239.2,388.8 L1234.0,388.8 L1225.1,381.5 L1219.0,373.4 L1212.1,365.3 L1209.7,358.4 L1201.6,351.2ZM1236.8,392.8 L1242.1,389.6 L1250.2,391.6 L1258.3,393.2 L1266.3,393.2 L1274.4,396.8 L1274.0,400.5 L1260.3,398.5 L1248.1,396.8 L1242.1,395.2ZM1294.7,387.5 L1298.3,387.5 L1298.3,377.0 L1300.7,376.2 L1305.6,383.5 L1309.6,384.3 L1302.8,373.0 L1310.0,369.0 L1300.7,369.4 L1297.9,363.7 L1300.7,360.1 L1316.1,359.3 L1317.7,359.7 L1314.1,363.7 L1300.3,363.3 L1295.9,365.3 L1294.7,377.4ZM1341.2,370.2 L1347.2,366.9 L1357.4,378.7 L1369.5,371.8 L1381.6,375.8 L1393.8,380.7 L1401.9,387.5 L1410.0,389.6 L1407.9,397.6 L1414.0,403.7 L1420.1,407.7 L1405.9,405.7 L1397.8,397.6 L1391.7,401.7 L1381.6,402.5 L1375.6,397.6 L1369.5,398.9 L1368.3,385.5 L1357.4,382.7 L1349.3,381.5 L1345.2,376.6ZM1270.4,454.2 L1273.2,453.4 L1283.3,448.6 L1292.6,446.1 L1300.7,444.1 L1305.6,438.1 L1306.8,434.0 L1311.2,432.0 L1314.1,428.0 L1318.9,423.9 L1324.2,421.1 L1329.5,425.5 L1335.1,425.5 L1338.3,417.9 L1341.2,414.6 L1347.2,413.8 L1348.1,411.4 L1353.3,413.4 L1361.0,414.6 L1364.6,414.6 L1361.4,419.9 L1359.4,425.9 L1367.5,431.2 L1374.4,436.0 L1379.6,436.4 L1383.7,425.9 L1384.1,416.2 L1387.7,408.6 L1391.7,421.9 L1395.8,423.1 L1399.0,425.9 L1401.9,438.1 L1407.9,444.1 L1414.0,448.2 L1420.1,456.2 L1430.2,468.4 L1432.6,480.5 L1430.2,490.6 L1426.1,498.7 L1421.3,506.0 L1418.0,516.9 L1410.0,518.1 L1403.1,523.3 L1395.8,520.1 L1391.7,522.1 L1381.6,519.3 L1376.0,515.3 L1375.2,510.0 L1370.3,509.2 L1371.5,505.6 L1368.3,507.2 L1367.5,502.7 L1361.4,506.8 L1359.8,504.7 L1354.1,497.9 L1341.2,492.6 L1329.0,495.4 L1316.9,497.9 L1310.8,502.3 L1296.7,502.7 L1288.6,506.8 L1280.5,506.8 L1276.5,503.9 L1279.3,499.9 L1279.3,492.6 L1276.5,486.6 L1275.6,480.5 L1270.4,472.4 L1271.6,464.3ZM1396.6,529.8 L1411.2,530.6 L1410.0,539.1 L1405.1,541.5 L1399.0,536.3ZM1509.9,504.3 L1517.2,510.8 L1522.4,514.8 L1533.3,517.7 L1530.9,523.7 L1526.5,527.0 L1520.0,533.4 L1517.6,531.8 L1519.2,526.6 L1514.3,523.7 L1517.6,518.9 L1515.1,511.6ZM1509.9,529.0 L1516.3,533.8 L1511.1,541.9 L1503.8,545.2 L1501.4,550.8 L1494.9,553.6 L1484.8,551.2 L1486.8,547.2 L1492.5,543.1 L1502.2,537.9 L1507.0,533.0ZM1010.7,413.8 L1015.1,428.0 L1012.7,434.0 L1007.4,448.2 L1002.2,464.3 L994.1,468.8 L988.0,460.3 L986.4,452.2 L990.9,444.1 L989.2,434.0 L998.1,429.2 L1005.4,420.7ZM1021.6,76.4 L1033.7,79.6 L1043.9,79.6 L1039.8,72.3 L1045.9,66.2 L1062.1,60.2 L1086.3,54.9 L1074.2,56.1 L1045.9,60.2 L1033.7,66.2 L1025.6,72.3ZM855.7,48.1 L876.0,42.0 L900.2,40.8 L920.5,42.0 L896.2,49.3 L880.0,56.1 L865.9,50.1ZM1199.6,46.0 L1215.8,48.9 L1232.0,46.0 L1215.8,40.0ZM1361.4,60.2 L1377.6,66.2 L1401.9,62.2 L1385.7,58.2 L1369.5,58.2ZM81.1,76.4 L95.2,77.2 L89.2,78.8 L81.1,78.4ZM846.0,198.0 L849.7,198.0 L849.7,191.5 L846.0,194.8ZM845.2,207.7 L850.1,207.3 L850.9,199.6 L844.4,200.0ZM861.4,211.7 L874.4,210.5 L872.3,217.0 L861.8,213.4ZM906.3,222.7 L917.6,222.7 L916.4,223.9 L908.3,223.1ZM941.9,223.9 L950.8,221.4 L948.4,224.3 L944.3,225.5ZM855.3,140.2 L862.2,139.0 L861.0,143.0 L856.6,142.2ZM884.5,134.1 L887.3,131.3 L887.7,133.3ZM1327.0,357.6 L1331.9,359.3 L1329.9,363.3 L1328.6,368.1 L1327.0,363.3ZM1329.0,378.7 L1340.4,380.7 L1335.1,377.8ZM1312.9,406.9 L1326.2,399.3 L1316.9,401.3ZM1280.5,401.3 L1294.7,398.9 L1308.0,398.5 L1308.0,400.9 L1292.6,400.9 L1282.5,401.7ZM1412.0,387.5 L1420.1,387.1 L1426.1,382.3 L1426.9,385.5 L1420.1,390.4 L1412.0,389.6ZM1474.7,447.0 L1484.8,455.0 L1486.8,454.2 L1477.9,448.2ZM1454.4,398.5 L1462.5,403.7 L1460.5,404.9 L1454.4,401.7ZM1528.5,436.0 L1533.3,435.2 L1532.5,438.9 L1528.9,438.5ZM179.8,285.7 L184.2,284.9 L185.0,286.5 L181.4,288.9ZM1026.9,314.4 L1031.7,314.4 L1029.7,315.6ZM1185.8,318.8 L1187.5,310.8 L1186.7,316.8ZM922.5,193.6 L924.5,189.5 L927.3,186.3 L931.4,182.6 L935.8,177.4 L939.9,177.0 L946.8,179.4 L942.7,181.8 L946.8,185.5 L954.9,183.0 L958.9,182.2 L962.9,184.7 L967.0,186.3 L973.1,189.9 L979.5,197.2 L973.1,199.6 L965.0,200.0 L958.9,198.4 L952.8,195.6 L946.8,195.6 L938.7,198.8 L929.4,198.8 L924.5,197.6ZM952.8,181.8 L954.9,178.2 L960.9,175.4 L969.8,174.6 L965.8,178.2 L962.9,181.4 L958.9,181.8ZM1001.4,184.3 L1009.5,177.4 L1019.6,175.4 L1025.6,177.4 L1026.5,182.2 L1018.8,185.5 L1016.8,187.5 L1023.6,195.6 L1025.6,199.6 L1024.8,205.7 L1029.3,214.6 L1019.6,216.6 L1013.5,214.2 L1009.5,210.9 L1011.5,202.4 L1005.4,195.6 L1003.4,191.5Z" fill="none" stroke="#8a8a8a" stroke-width="0.8" stroke-linejoin="round"/>
<path d="M83.0,66.5 L129.4,71.5 L289.8,71.5 L304.6,50.4 L357.3,42.0M83.0,101.1 L131.5,101.1M131.5,71.5 L131.5,152.6 L232.8,130.6 L285.6,162.3 L608.4,162.3M385.6,42.0 L385.6,227.7M285.6,162.3 L315.1,227.7 L385.6,227.7M315.1,227.7 L388.5,300.3 L445.9,263.6M608.4,162.3 L499.1,239.5 L540.1,264.0 L445.9,263.6M509.3,42.0 L608.4,128.5 L608.4,162.3M608.4,128.5 L644.3,128.5 L657.0,115.9 L770.9,114.6M770.9,42.0 L770.9,244.6M770.9,71.5 L811.0,71.5M730.8,244.6 L811.0,244.6M730.8,244.6 L730.8,329.8M388.5,300.3 L473.9,356.0M445.9,263.6 L507.1,329.8M540.1,264.0 L602.1,329.8M83.0,333.9 L435.4,333.9 L473.4,353.8 L473.4,404.4 L83.0,404.4M473.4,353.8 L500.8,324.2 L509.3,320.0M519.8,320.0 L519.8,398.1M589.4,320.0 L608.4,332.7 L608.4,446.6M608.4,333.9 L728.7,333.9 L842.7,363.5M608.4,364.3 L673.8,364.3 L673.8,446.6 L543.0,446.6M519.8,398.1 L608.4,398.1M673.8,404.4 L811.0,404.4M473.4,404.4 L494.5,425.5 L509.3,442.4 L490.3,554.2 L490.3,590.1M490.3,554.2 L521.9,554.2M83.0,590.1 L585.2,590.1 L811.0,520.5M543.0,446.6 L536.7,526.8 L585.2,526.8 L585.2,590.1M492.0,426.3 L513.0,426.3M585.2,526.8 L673.8,446.6M728.7,320.0 L728.7,333.9M811.0,404.4 L1539.0,404.4M842.7,362.2 L842.7,509.9M811.0,518.4 L842.7,509.9 L1256.2,509.9M912.3,404.4 L912.3,509.9M918.6,320.0 L918.6,404.4M918.6,355.9 L998.8,355.9 L998.8,404.4M998.8,404.4 L937.6,509.9M1026.2,404.4 L1026.2,474.0 L958.7,474.0M998.8,355.9 L1026.2,336.9 L1186.6,336.9M1186.6,320.0 L1186.6,404.4M1344.9,320.0 L1344.9,345.3 L1439.8,404.4M1344.9,333.9 L1539.0,333.9M1256.2,404.4 L1256.2,509.9 L1439.8,566.9 L1539.0,566.9M1256.2,446.6 L1439.8,446.6M1256.2,486.7 L1372.3,486.7 L1439.8,516.2M1399.7,446.6 L1399.7,493.0M1439.8,404.4 L1439.8,566.9M1439.8,486.7 L1539.0,486.7M811.0,71.5 L973.5,71.5 L1131.7,42.0M973.5,71.5 L973.5,244.6M973.5,101.1 L1539.0,101.1M1053.7,101.1 L1053.7,181.3M1176.1,101.1 L1176.1,181.3M1336.4,101.1 L1336.4,181.3M973.5,181.3 L1283.7,181.3M1427.2,181.3 L1539.0,118.0M1283.7,42.0 L1539.0,67.3M940.0,243.6 L1006.2,243.6 L1054.0,270.3 L1054.0,285.0 L987.8,314.4 L943.7,243.6M1114.6,183.0 L1114.6,243.6M1054.0,243.6 L1114.6,243.6 L1166.1,257.4 L1215.7,255.6M1114.6,215.1 L1215.7,215.1M1054.0,243.6 L1054.0,270.3M1054.0,270.3 L1081.5,270.3 L1118.3,336.5M1024.6,336.5 L1186.3,336.5M1133.0,336.5 L1162.4,286.8 L1186.3,286.8 L1215.7,286.8M1186.3,286.8 L1186.3,360.0M1024.6,305.2 L1024.6,336.5 L998.8,360.0M940.0,305.2 L976.8,305.2M731.1,243.9 L826.2,243.9M731.1,304.5 L1025.8,304.5M870.3,304.5 L843.8,364.1M919.9,304.5 L919.9,410.0M919.9,356.4 L1000.0,356.4M1025.8,304.5 L1025.8,335.4 L1080.0,335.4M988.3,313.4 L1025.8,304.5" fill="none" stroke="#4a4aff" stroke-opacity="0.62" stroke-width="1.25" stroke-linejoin="round"/>
<path d="M386.5,163.2 L447.2,163.2 L447.2,264.3 L386.5,228.7ZM770.8,183.4 L770.8,171.3 L973.1,117.6 L973.1,183.4ZM1215.8,286.5 L1345.2,286.5 L1345.2,264.3 L1428.6,183.4 L1284.5,183.4 L1248.1,215.8 L1215.8,215.8Z" fill="none" stroke="#0000f5" stroke-width="4.2" stroke-linejoin="miter"/>
</g>
<path d="M83.7,42.0 V607.8" stroke="#6a6aee" stroke-opacity="0.55" stroke-width="1.6" fill="none"/>
<path d="M83.1,607.8 H1539.4 V42.0" stroke="#333" stroke-width="1.3" fill="none"/>
<path d="M421.5,42.4 H736" stroke="#333" stroke-width="1.3" fill="none"/>
<text x="73.1" y="129.3" text-anchor="end" font-size="19.6" fill="#222">60°N</text>
<text x="73.1" y="210.2" text-anchor="end" font-size="19.6" fill="#222">40°N</text>
<text x="73.1" y="291.0" text-anchor="end" font-size="19.6" fill="#222">20°N</text>
<text x="73.1" y="371.8" text-anchor="end" font-size="19.6" fill="#222">0°</text>
<text x="73.1" y="452.6" text-anchor="end" font-size="19.6" fill="#222">20°S</text>
<text x="73.1" y="533.5" text-anchor="end" font-size="19.6" fill="#222">40°S</text>
<text x="83.1" y="634.8" text-anchor="middle" font-size="19.6" fill="#222">180°</text>
<text x="325.8" y="634.8" text-anchor="middle" font-size="19.6" fill="#222">120°W</text>
<text x="568.5" y="634.8" text-anchor="middle" font-size="19.6" fill="#222">60°W</text>
<text x="811.3" y="634.8" text-anchor="middle" font-size="19.6" fill="#222">0°</text>
<text x="1054.0" y="634.8" text-anchor="middle" font-size="19.6" fill="#222">60°E</text>
<text x="1296.7" y="634.8" text-anchor="middle" font-size="19.6" fill="#222">120°E</text>
<text x="1539.4" y="634.8" text-anchor="middle" font-size="19.6" fill="#222">180°</text>
<path d="M1574.2,87.9 L1587.3000000000002,64.4 L1600.4,87.9Z" fill="#7a0022"/>
<path d="M1574.2,562.4 L1587.3000000000002,585.6999999999999 L1600.4,562.4Z" fill="#06306a"/>
<rect x="1574.2" y="87.90" width="26.2" height="47.75" fill="#cc0c25"/>
<rect x="1574.2" y="135.35" width="26.2" height="47.75" fill="#e54e3d"/>
<rect x="1574.2" y="182.80" width="26.2" height="47.75" fill="#f88867"/>
<rect x="1574.2" y="230.25" width="26.2" height="47.75" fill="#fcc5a9"/>
<rect x="1574.2" y="277.70" width="26.2" height="47.75" fill="#fde6dc"/>
<rect x="1574.2" y="325.15" width="26.2" height="47.75" fill="#e2ecf6"/>
<rect x="1574.2" y="372.60" width="26.2" height="47.75" fill="#b4d7eb"/>
<rect x="1574.2" y="420.05" width="26.2" height="47.75" fill="#68b0d8"/>
<rect x="1574.2" y="467.50" width="26.2" height="47.75" fill="#1a8cc8"/>
<rect x="1574.2" y="514.95" width="26.2" height="47.75" fill="#0b5ca8"/>
<path d="M1574.2,87.9 L1587.3000000000002,64.4 L1600.4,87.9 L1600.4,562.4 L1587.3000000000002,585.6999999999999 L1574.2,562.4Z" fill="none" stroke="#333" stroke-width="1.1"/>
<text x="1614.9" y="94.8" font-size="19" fill="#222">1000</text>
<text x="1614.9" y="142.3" font-size="19" fill="#222">500</text>
<text x="1614.9" y="189.7" font-size="19" fill="#222">250</text>
<text x="1614.9" y="237.2" font-size="19" fill="#222">100</text>
<text x="1614.9" y="284.6" font-size="19" fill="#222">50</text>
<text x="1614.9" y="332.0" font-size="19" fill="#222">0</text>
<text x="1614.9" y="379.5" font-size="19" fill="#222">−50</text>
<text x="1614.9" y="427.0" font-size="19" fill="#222">−100</text>
<text x="1614.9" y="474.4" font-size="19" fill="#222">−250</text>
<text x="1614.9" y="521.9" font-size="19" fill="#222">−500</text>
<text x="1614.9" y="569.3" font-size="19" fill="#222">−1000</text>
<path d="M1600.4,87.9H1608.9M1600.4,135.4H1608.9M1600.4,182.8H1608.9M1600.4,230.3H1608.9M1600.4,277.7H1608.9M1600.4,325.1H1608.9M1600.4,372.6H1608.9M1600.4,420.1H1608.9M1600.4,467.5H1608.9M1600.4,515.0H1608.9M1600.4,562.4H1608.9" stroke="#333" stroke-width="1.2"/>
<text transform="translate(1703,325.1) rotate(-90)" text-anchor="middle" font-size="19.6" fill="#222">Relative Change (%)</text>
<g>
<clipPath id="cl90"><rect x="90.9" y="698.8" width="404.2" height="284.4"/></clipPath>
<path d="M145.3 698.8V983.2M210.8 698.8V983.2M276.3 698.8V983.2M341.8 698.8V983.2M407.3 698.8V983.2M472.8 698.8V983.2M90.9 947.7H495.1M90.9 912.1H495.1M90.9 876.5H495.1M90.9 841.0H495.1M90.9 805.5H495.1M90.9 769.9H495.1M90.9 734.3H495.1" stroke="#b0b0b0" stroke-width="1.1" fill="none"/>
<g clip-path="url(#cl90)">
<path d="M114.8 949.4V869.4M110.6 949.4H119.0M110.6 869.4H119.0M147.6 944.1V855.2M143.4 944.1H151.8M143.4 855.2H151.8M180.3 926.3V848.1M176.1 926.3H184.5M176.1 848.1H184.5M213.1 915.7V862.3M208.9 915.7H217.3M208.9 862.3H217.3M245.8 933.4V865.9M241.6 933.4H250.0M241.6 865.9H250.0M278.6 954.8V894.3M274.4 954.8H282.8M274.4 894.3H282.8M311.3 969.0V896.1M307.1 969.0H315.5M307.1 896.1H315.5M344.1 965.4V876.5M339.9 965.4H348.3M339.9 876.5H348.3M376.9 976.1V915.7M372.7 976.1H381.1M372.7 915.7H381.1M409.6 956.5V901.4M405.4 956.5H413.8M405.4 901.4H413.8M442.4 938.8V885.4M438.2 938.8H446.6M438.2 885.4H446.6M475.1 949.4V892.5M470.9 949.4H479.3M470.9 892.5H479.3" stroke="#1fbad6" stroke-width="2.2" fill="none"/>
<polyline points="114.8,908.5 147.6,899.7 180.3,890.8 213.1,887.2 245.8,897.9 278.6,922.8 311.3,933.4 344.1,921.0 376.9,945.9 409.6,928.1 442.4,912.1 475.1,919.2" fill="none" stroke="#1fbad6" stroke-width="2.4" stroke-linejoin="round"/>
<path d="M108.6 922.8V873.0M104.4 922.8H112.8M104.4 873.0H112.8M141.3 921.0V881.9M137.1 921.0H145.5M137.1 881.9H145.5M174.1 919.2V864.1M169.9 919.2H178.3M169.9 864.1H178.3M206.9 913.9V862.3M202.7 913.9H211.1M202.7 862.3H211.1M239.6 933.4V883.7M235.4 933.4H243.8M235.4 883.7H243.8M272.4 979.6V940.5M268.2 979.6H276.6M268.2 940.5H276.6M305.1 947.7V896.1M300.9 947.7H309.3M300.9 896.1H309.3M337.9 865.9V794.8M333.7 865.9H342.1M333.7 794.8H342.1M370.6 867.7V807.2M366.4 867.7H374.8M366.4 807.2H374.8M403.4 928.1V869.4M399.2 928.1H407.6M399.2 869.4H407.6M436.1 915.7V864.1M431.9 915.7H440.3M431.9 864.1H440.3M468.9 928.1V878.3M464.7 928.1H473.1M464.7 878.3H473.1" stroke="#1010cc" stroke-width="2.2" fill="none"/>
<polyline points="108.6,897.9 141.3,901.4 174.1,890.8 206.9,887.2 239.6,908.5 272.4,958.3 305.1,922.8 337.9,830.3 370.6,837.4 403.4,897.9 436.1,892.5 468.9,903.2" fill="none" stroke="#1010cc" stroke-width="2.4" stroke-linejoin="round"/>
<path d="M112.5 842.1V837.8M108.5 842.1H116.5M108.5 837.8H116.5M145.3 841.0V836.7M141.3 841.0H149.3M141.3 836.7H149.3M178.0 837.8V833.5M174.0 837.8H182.0M174.0 833.5H182.0M210.8 828.9V824.6M206.8 828.9H214.8M206.8 824.6H214.8M243.5 814.7V810.4M239.5 814.7H247.5M239.5 810.4H247.5M276.3 796.9V792.7M272.3 796.9H280.3M272.3 792.7H280.3M309.1 768.5V764.2M305.1 768.5H313.1M305.1 764.2H313.1M341.8 764.9V760.7M337.8 764.9H345.8M337.8 760.7H345.8M374.6 791.6V787.3M370.6 791.6H378.6M370.6 787.3H378.6M407.3 821.8V817.5M403.3 821.8H411.3M403.3 817.5H411.3M440.1 837.8V833.5M436.1 837.8H444.1M436.1 833.5H444.1M472.8 841.7V837.4M468.8 841.7H476.8M468.8 837.4H476.8" stroke="#ee82ee" stroke-width="1.5" fill="none"/>
<polyline points="112.5,839.9 145.3,838.9 178.0,835.7 210.8,826.8 243.5,812.6 276.3,794.8 309.1,766.3 341.8,762.8 374.6,789.5 407.3,819.7 440.1,835.7 472.8,839.6" fill="none" stroke="#ee82ee" stroke-width="2.4" stroke-linejoin="round"/>
<path d="M112.5 842.1V837.8M108.5 842.1H116.5M108.5 837.8H116.5M145.3 840.6V836.4M141.3 840.6H149.3M141.3 836.4H149.3M178.0 836.0V831.8M174.0 836.0H182.0M174.0 831.8H182.0M210.8 825.4V821.1M206.8 825.4H214.8M206.8 821.1H214.8M243.5 809.4V805.1M239.5 809.4H247.5M239.5 805.1H247.5M276.3 788.0V783.8M272.3 788.0H280.3M272.3 783.8H280.3M309.1 756.0V751.8M305.1 756.0H313.1M305.1 751.8H313.1M341.8 750.7V746.4M337.8 750.7H345.8M337.8 746.4H345.8M374.6 782.7V778.4M370.6 782.7H378.6M370.6 778.4H378.6M407.3 816.5V812.2M403.3 816.5H411.3M403.3 812.2H411.3M440.1 836.0V831.8M436.1 836.0H444.1M436.1 831.8H444.1M472.8 841.4V837.1M468.8 841.4H476.8M468.8 837.1H476.8" stroke="#e8121a" stroke-width="1.5" fill="none"/>
<polyline points="112.5,839.9 145.3,838.5 178.0,833.9 210.8,823.2 243.5,807.2 276.3,785.9 309.1,753.9 341.8,748.6 374.6,780.6 407.3,814.3 440.1,833.9 472.8,839.2" fill="none" stroke="#e8121a" stroke-width="2.4" stroke-linejoin="round"/>
<path d="M112.5 841.4V837.1M108.5 841.4H116.5M108.5 837.1H116.5M145.3 840.3V836.0M141.3 840.3H149.3M141.3 836.0H149.3M178.0 834.2V830.0M174.0 834.2H182.0M174.0 830.0H182.0M210.8 820.0V815.8M206.8 820.0H214.8M206.8 815.8H214.8M243.5 798.7V794.4M239.5 798.7H247.5M239.5 794.4H247.5M276.3 773.8V769.5M272.3 773.8H280.3M272.3 769.5H280.3M309.1 740.0V735.8M305.1 740.0H313.1M305.1 735.8H313.1M341.8 734.7V730.4M337.8 734.7H345.8M337.8 730.4H345.8M374.6 766.7V762.4M370.6 766.7H378.6M370.6 762.4H378.6M407.3 807.6V803.3M403.3 807.6H411.3M403.3 803.3H411.3M440.1 834.2V830.0M436.1 834.2H444.1M436.1 830.0H444.1M472.8 840.3V836.0M468.8 840.3H476.8M468.8 836.0H476.8" stroke="#8b0000" stroke-width="1.5" fill="none"/>
<polyline points="112.5,839.2 145.3,838.2 178.0,832.1 210.8,817.9 243.5,796.6 276.3,771.7 309.1,737.9 341.8,732.6 374.6,764.6 407.3,805.5 440.1,832.1 472.8,838.2" fill="none" stroke="#8b0000" stroke-width="2.4" stroke-linejoin="round"/>
</g>
<rect x="90.9" y="698.8" width="404.2" height="284.4" fill="none" stroke="#262626" stroke-width="1.5"/>
<path d="M83.9 983.2H90.9M495.1 983.2H502.1M83.9 947.7H90.9M495.1 947.7H502.1M83.9 912.1H90.9M495.1 912.1H502.1M83.9 876.5H90.9M495.1 876.5H502.1M83.9 841.0H90.9M495.1 841.0H502.1M83.9 805.5H90.9M495.1 805.5H502.1M83.9 769.9H90.9M495.1 769.9H502.1M83.9 734.3H90.9M495.1 734.3H502.1M83.9 698.8H90.9M495.1 698.8H502.1M145.3 983.2V990.2M210.8 983.2V990.2M276.3 983.2V990.2M341.8 983.2V990.2M407.3 983.2V990.2M472.8 983.2V990.2" stroke="#262626" stroke-width="1.3"/>
<text x="78.4" y="989.4" text-anchor="end" font-size="17" fill="#2a2acf">−40</text>
<text x="78.4" y="953.9" text-anchor="end" font-size="17" fill="#2a2acf">−30</text>
<text x="78.4" y="918.3" text-anchor="end" font-size="17" fill="#2a2acf">−20</text>
<text x="78.4" y="882.8" text-anchor="end" font-size="17" fill="#2a2acf">−10</text>
<text x="78.4" y="847.2" text-anchor="end" font-size="17" fill="#2a2acf">0</text>
<text x="78.4" y="811.7" text-anchor="end" font-size="17" fill="#2a2acf">10</text>
<text x="78.4" y="776.1" text-anchor="end" font-size="17" fill="#2a2acf">20</text>
<text x="78.4" y="740.5" text-anchor="end" font-size="17" fill="#2a2acf">30</text>
<text x="78.4" y="705.0" text-anchor="end" font-size="17" fill="#2a2acf">40</text>
<text x="505.6" y="705.0" font-size="17" fill="#d42a2a">800</text>
<text x="505.6" y="740.5" font-size="17" fill="#d42a2a">600</text>
<text x="505.6" y="776.1" font-size="17" fill="#d42a2a">400</text>
<text x="505.6" y="811.7" font-size="17" fill="#d42a2a">200</text>
<text x="505.6" y="847.2" font-size="17" fill="#d42a2a">0</text>
<text x="505.6" y="882.8" font-size="17" fill="#d42a2a">−200</text>
<text x="505.6" y="918.3" font-size="17" fill="#d42a2a">−400</text>
<text x="505.6" y="953.9" font-size="17" fill="#d42a2a">−600</text>
<text x="505.6" y="989.4" font-size="17" fill="#d42a2a">−800</text>
<text x="144.5" y="1008.7" text-anchor="middle" font-size="17" fill="#222">2</text>
<text x="210.0" y="1008.7" text-anchor="middle" font-size="17" fill="#222">4</text>
<text x="275.5" y="1008.7" text-anchor="middle" font-size="17" fill="#222">6</text>
<text x="341.0" y="1008.7" text-anchor="middle" font-size="17" fill="#222">8</text>
<text x="406.5" y="1008.7" text-anchor="middle" font-size="17" fill="#222">10</text>
<text x="472.0" y="1008.7" text-anchor="middle" font-size="17" fill="#222">12</text>
<text x="291.0" y="1033.2" text-anchor="middle" font-size="17" fill="#222">Month</text>
<text transform="translate(29.4,842.5) rotate(-90)" text-anchor="middle" font-size="17.1" fill="#2a2acf">Wind Power Change (%)</text>
<text transform="translate(572.1,841.0) rotate(-90)" text-anchor="middle" font-size="17.1" fill="#d42a2a">CDD (deg days)</text>
<text x="89.6" y="688.5" font-size="24.2" font-weight="bold" fill="#000">(b) C.North-America</text>
</g>
<g>
<clipPath id="cl654"><rect x="654.2" y="698.8" width="404.2" height="284.4"/></clipPath>
<path d="M708.6 698.8V983.2M774.1 698.8V983.2M839.6 698.8V983.2M905.1 698.8V983.2M970.6 698.8V983.2M1036.1 698.8V983.2M654.2 947.7H1058.4M654.2 912.1H1058.4M654.2 876.5H1058.4M654.2 841.0H1058.4M654.2 805.5H1058.4M654.2 769.9H1058.4M654.2 734.3H1058.4" stroke="#b0b0b0" stroke-width="1.1" fill="none"/>
<g clip-path="url(#cl654)">
<path d="M678.1 949.4V720.1M673.9 949.4H682.3M673.9 720.1H682.3M710.9 1001.0V681.0M706.7 1001.0H715.1M706.7 681.0H715.1M743.6 1001.0V727.2M739.4 1001.0H747.8M739.4 727.2H747.8M776.4 1001.0V752.1M772.2 1001.0H780.6M772.2 752.1H780.6M809.1 1001.0V794.8M804.9 1001.0H813.3M804.9 794.8H813.3M841.9 963.6V846.3M837.7 963.6H846.1M837.7 846.3H846.1M874.6 954.8V880.1M870.4 954.8H878.8M870.4 880.1H878.8M907.4 956.5V901.4M903.2 956.5H911.6M903.2 901.4H911.6M940.2 956.5V876.5M936.0 956.5H944.4M936.0 876.5H944.4M972.9 933.4V842.8M968.7 933.4H977.1M968.7 842.8H977.1M1005.7 896.1V796.6M1001.5 896.1H1009.9M1001.5 796.6H1009.9M1038.4 897.9V777.0M1034.2 897.9H1042.6M1034.2 777.0H1042.6" stroke="#1fbad6" stroke-width="2.2" fill="none"/>
<polyline points="678.1,837.4 710.9,846.3 743.6,862.3 776.4,867.7 809.1,890.8 841.9,903.2 874.6,913.9 907.4,928.1 940.2,917.4 972.9,892.5 1005.7,848.1 1038.4,841.0" fill="none" stroke="#1fbad6" stroke-width="2.4" stroke-linejoin="round"/>
<path d="M671.9 885.4V809.0M667.7 885.4H676.1M667.7 809.0H676.1M704.6 894.3V801.9M700.4 894.3H708.8M700.4 801.9H708.8M737.4 903.2V789.5M733.2 903.2H741.6M733.2 789.5H741.6M770.2 892.5V805.5M766.0 892.5H774.4M766.0 805.5H774.4M802.9 915.7V855.2M798.7 915.7H807.1M798.7 855.2H807.1M835.7 954.8V899.7M831.5 954.8H839.9M831.5 899.7H839.9M868.4 945.9V881.9M864.2 945.9H872.6M864.2 881.9H872.6M901.2 903.2V835.7M897.0 903.2H905.4M897.0 835.7H905.4M933.9 928.1V880.1M929.7 928.1H938.1M929.7 880.1H938.1M966.7 942.3V865.9M962.5 942.3H970.9M962.5 865.9H970.9M999.4 919.2V832.1M995.2 919.2H1003.6M995.2 832.1H1003.6M1032.2 897.9V814.3M1028.0 897.9H1036.4M1028.0 814.3H1036.4" stroke="#1010cc" stroke-width="2.2" fill="none"/>
<polyline points="671.9,846.3 704.6,846.3 737.4,846.3 770.2,848.1 802.9,885.4 835.7,926.3 868.4,912.1 901.2,869.4 933.9,903.2 966.7,903.2 999.4,876.5 1032.2,855.2" fill="none" stroke="#1010cc" stroke-width="2.4" stroke-linejoin="round"/>
<path d="M675.8 843.1V838.9M671.8 843.1H679.8M671.8 838.9H679.8M708.6 843.1V838.9M704.6 843.1H712.6M704.6 838.9H712.6M741.3 843.1V838.9M737.3 843.1H745.3M737.3 838.9H745.3M774.1 841.4V837.1M770.1 841.4H778.1M770.1 837.1H778.1M806.8 832.5V828.2M802.8 832.5H810.8M802.8 828.2H810.8M839.6 820.0V815.8M835.6 820.0H843.6M835.6 815.8H843.6M872.4 804.0V799.8M868.4 804.0H876.4M868.4 799.8H876.4M905.1 798.7V794.4M901.1 798.7H909.1M901.1 794.4H909.1M937.9 825.4V821.1M933.9 825.4H941.9M933.9 821.1H941.9M970.6 839.6V835.3M966.6 839.6H974.6M966.6 835.3H974.6M1003.4 843.1V838.9M999.4 843.1H1007.4M999.4 838.9H1007.4M1036.1 843.1V838.9M1032.1 843.1H1040.1M1032.1 838.9H1040.1" stroke="#ee82ee" stroke-width="1.5" fill="none"/>
<polyline points="675.8,841.0 708.6,841.0 741.3,841.0 774.1,839.2 806.8,830.3 839.6,817.9 872.4,801.9 905.1,796.6 937.9,823.2 970.6,837.4 1003.4,841.0 1036.1,841.0" fill="none" stroke="#ee82ee" stroke-width="2.4" stroke-linejoin="round"/>
<path d="M675.8 843.1V838.9M671.8 843.1H679.8M671.8 838.9H679.8M708.6 843.1V838.9M704.6 843.1H712.6M704.6 838.9H712.6M741.3 843.1V838.9M737.3 843.1H745.3M737.3 838.9H745.3M774.1 839.6V835.3M770.1 839.6H778.1M770.1 835.3H778.1M806.8 828.9V824.6M802.8 828.9H810.8M802.8 824.6H810.8M839.6 805.8V801.5M835.6 805.8H843.6M835.6 801.5H843.6M872.4 779.1V774.9M868.4 779.1H876.4M868.4 774.9H876.4M905.1 775.6V771.3M901.1 775.6H909.1M901.1 771.3H909.1M937.9 814.7V810.4M933.9 814.7H941.9M933.9 810.4H941.9M970.6 837.8V833.5M966.6 837.8H974.6M966.6 833.5H974.6M1003.4 843.1V838.9M999.4 843.1H1007.4M999.4 838.9H1007.4M1036.1 843.1V838.9M1032.1 843.1H1040.1M1032.1 838.9H1040.1" stroke="#e8121a" stroke-width="1.5" fill="none"/>
<polyline points="675.8,841.0 708.6,841.0 741.3,841.0 774.1,837.4 806.8,826.8 839.6,803.7 872.4,777.0 905.1,773.5 937.9,812.6 970.6,835.7 1003.4,841.0 1036.1,841.0" fill="none" stroke="#e8121a" stroke-width="2.4" stroke-linejoin="round"/>
<path d="M675.8 843.1V838.9M671.8 843.1H679.8M671.8 838.9H679.8M708.6 843.1V838.9M704.6 843.1H712.6M704.6 838.9H712.6M741.3 842.8V838.5M737.3 842.8H745.3M737.3 838.5H745.3M774.1 837.8V833.5M770.1 837.8H778.1M770.1 833.5H778.1M806.8 821.8V817.5M802.8 821.8H810.8M802.8 817.5H810.8M839.6 782.7V778.4M835.6 782.7H843.6M835.6 778.4H843.6M872.4 741.8V737.5M868.4 741.8H876.4M868.4 737.5H876.4M905.1 741.8V737.5M901.1 741.8H909.1M901.1 737.5H909.1M937.9 793.4V789.1M933.9 793.4H941.9M933.9 789.1H941.9M970.6 834.2V830.0M966.6 834.2H974.6M966.6 830.0H974.6M1003.4 842.4V838.2M999.4 842.4H1007.4M999.4 838.2H1007.4M1036.1 843.1V838.9M1032.1 843.1H1040.1M1032.1 838.9H1040.1" stroke="#8b0000" stroke-width="1.5" fill="none"/>
<polyline points="675.8,841.0 708.6,841.0 741.3,840.6 774.1,835.7 806.8,819.7 839.6,780.6 872.4,739.7 905.1,739.7 937.9,791.2 970.6,832.1 1003.4,840.3 1036.1,841.0" fill="none" stroke="#8b0000" stroke-width="2.4" stroke-linejoin="round"/>
</g>
<rect x="654.2" y="698.8" width="404.2" height="284.4" fill="none" stroke="#262626" stroke-width="1.5"/>
<path d="M647.2 983.2H654.2M1058.4 983.2H1065.4M647.2 947.7H654.2M1058.4 947.7H1065.4M647.2 912.1H654.2M1058.4 912.1H1065.4M647.2 876.5H654.2M1058.4 876.5H1065.4M647.2 841.0H654.2M1058.4 841.0H1065.4M647.2 805.5H654.2M1058.4 805.5H1065.4M647.2 769.9H654.2M1058.4 769.9H1065.4M647.2 734.3H654.2M1058.4 734.3H1065.4M647.2 698.8H654.2M1058.4 698.8H1065.4M708.6 983.2V990.2M774.1 983.2V990.2M839.6 983.2V990.2M905.1 983.2V990.2M970.6 983.2V990.2M1036.1 983.2V990.2" stroke="#262626" stroke-width="1.3"/>
<text x="641.7" y="989.4" text-anchor="end" font-size="17" fill="#2a2acf">−40</text>
<text x="641.7" y="953.9" text-anchor="end" font-size="17" fill="#2a2acf">−30</text>
<text x="641.7" y="918.3" text-anchor="end" font-size="17" fill="#2a2acf">−20</text>
<text x="641.7" y="882.8" text-anchor="end" font-size="17" fill="#2a2acf">−10</text>
<text x="641.7" y="847.2" text-anchor="end" font-size="17" fill="#2a2acf">0</text>
<text x="641.7" y="811.7" text-anchor="end" font-size="17" fill="#2a2acf">10</text>
<text x="641.7" y="776.1" text-anchor="end" font-size="17" fill="#2a2acf">20</text>
<text x="641.7" y="740.5" text-anchor="end" font-size="17" fill="#2a2acf">30</text>
<text x="641.7" y="705.0" text-anchor="end" font-size="17" fill="#2a2acf">40</text>
<text x="1068.9" y="705.0" font-size="17" fill="#d42a2a">400</text>
<text x="1068.9" y="740.5" font-size="17" fill="#d42a2a">300</text>
<text x="1068.9" y="776.1" font-size="17" fill="#d42a2a">200</text>
<text x="1068.9" y="811.7" font-size="17" fill="#d42a2a">100</text>
<text x="1068.9" y="847.2" font-size="17" fill="#d42a2a">0</text>
<text x="1068.9" y="882.8" font-size="17" fill="#d42a2a">−100</text>
<text x="1068.9" y="918.3" font-size="17" fill="#d42a2a">−200</text>
<text x="1068.9" y="953.9" font-size="17" fill="#d42a2a">−300</text>
<text x="1068.9" y="989.4" font-size="17" fill="#d42a2a">−400</text>
<text x="707.8" y="1008.7" text-anchor="middle" font-size="17" fill="#222">2</text>
<text x="773.3" y="1008.7" text-anchor="middle" font-size="17" fill="#222">4</text>
<text x="838.8" y="1008.7" text-anchor="middle" font-size="17" fill="#222">6</text>
<text x="904.3" y="1008.7" text-anchor="middle" font-size="17" fill="#222">8</text>
<text x="969.8" y="1008.7" text-anchor="middle" font-size="17" fill="#222">10</text>
<text x="1035.3" y="1008.7" text-anchor="middle" font-size="17" fill="#222">12</text>
<text x="854.3" y="1033.2" text-anchor="middle" font-size="17" fill="#222">Month</text>
<text transform="translate(592.7,842.5) rotate(-90)" text-anchor="middle" font-size="17.1" fill="#2a2acf">Wind Power Change (%)</text>
<text transform="translate(1135.4,841.0) rotate(-90)" text-anchor="middle" font-size="17.1" fill="#d42a2a">CDD (deg days)</text>
<text x="652.9" y="688.5" font-size="24.2" font-weight="bold" fill="#000">(c) West&amp;Central-Europe</text>
</g>
<g>
<clipPath id="cl1218"><rect x="1218.8" y="698.8" width="404.2" height="284.4"/></clipPath>
<path d="M1273.2 698.8V983.2M1338.7 698.8V983.2M1404.2 698.8V983.2M1469.7 698.8V983.2M1535.2 698.8V983.2M1600.7 698.8V983.2M1218.8 947.7H1623.0M1218.8 912.1H1623.0M1218.8 876.5H1623.0M1218.8 841.0H1623.0M1218.8 805.5H1623.0M1218.8 769.9H1623.0M1218.8 734.3H1623.0" stroke="#b0b0b0" stroke-width="1.1" fill="none"/>
<g clip-path="url(#cl1218)">
<path d="M1242.7 874.8V825.0M1238.5 874.8H1246.9M1238.5 825.0H1246.9M1275.5 883.7V817.9M1271.3 883.7H1279.7M1271.3 817.9H1279.7M1308.2 892.5V823.2M1304.0 892.5H1312.4M1304.0 823.2H1312.4M1341.0 908.5V839.2M1336.8 908.5H1345.2M1336.8 839.2H1345.2M1373.7 915.7V865.9M1369.5 915.7H1377.9M1369.5 865.9H1377.9M1406.5 903.2V862.3M1402.3 903.2H1410.7M1402.3 862.3H1410.7M1439.2 885.4V817.9M1435.0 885.4H1443.4M1435.0 817.9H1443.4M1472.0 917.4V858.8M1467.8 917.4H1476.2M1467.8 858.8H1476.2M1504.8 961.9V906.8M1500.6 961.9H1509.0M1500.6 906.8H1509.0M1537.5 928.1V869.4M1533.3 928.1H1541.7M1533.3 869.4H1541.7M1570.3 905.0V846.3M1566.1 905.0H1574.5M1566.1 846.3H1574.5M1603.0 885.4V833.9M1598.8 885.4H1607.2M1598.8 833.9H1607.2" stroke="#1fbad6" stroke-width="2.2" fill="none"/>
<polyline points="1242.7,849.9 1275.5,849.9 1308.2,857.0 1341.0,871.2 1373.7,890.8 1406.5,885.4 1439.2,851.7 1472.0,885.4 1504.8,933.4 1537.5,897.9 1570.3,874.8 1603.0,860.6" fill="none" stroke="#1fbad6" stroke-width="2.4" stroke-linejoin="round"/>
<path d="M1236.5 919.2V880.1M1232.3 919.2H1240.7M1232.3 880.1H1240.7M1269.2 938.8V896.1M1265.0 938.8H1273.4M1265.0 896.1H1273.4M1302.0 935.2V887.2M1297.8 935.2H1306.2M1297.8 887.2H1306.2M1334.8 924.5V876.5M1330.6 924.5H1339.0M1330.6 876.5H1339.0M1367.5 917.4V860.6M1363.3 917.4H1371.7M1363.3 860.6H1371.7M1400.3 905.0V873.0M1396.1 905.0H1404.5M1396.1 873.0H1404.5M1433.0 903.2V860.6M1428.8 903.2H1437.2M1428.8 860.6H1437.2M1465.8 874.8V817.9M1461.6 874.8H1470.0M1461.6 817.9H1470.0M1498.5 885.4V832.1M1494.3 885.4H1502.7M1494.3 832.1H1502.7M1531.3 935.2V878.3M1527.1 935.2H1535.5M1527.1 878.3H1535.5M1564.0 937.0V890.8M1559.8 937.0H1568.2M1559.8 890.8H1568.2M1596.8 926.3V887.2M1592.6 926.3H1601.0M1592.6 887.2H1601.0" stroke="#1010cc" stroke-width="2.2" fill="none"/>
<polyline points="1236.5,899.7 1269.2,915.7 1302.0,910.3 1334.8,899.7 1367.5,889.0 1400.3,889.0 1433.0,881.9 1465.8,846.3 1498.5,858.8 1531.3,906.8 1564.0,912.1 1596.8,906.8" fill="none" stroke="#1010cc" stroke-width="2.4" stroke-linejoin="round"/>
<path d="M1240.4 830.7V826.4M1236.4 830.7H1244.4M1236.4 826.4H1244.4M1273.2 832.5V828.2M1269.2 832.5H1277.2M1269.2 828.2H1277.2M1305.9 827.1V822.9M1301.9 827.1H1309.9M1301.9 822.9H1309.9M1338.7 816.5V812.2M1334.7 816.5H1342.7M1334.7 812.2H1342.7M1371.4 798.7V794.4M1367.4 798.7H1375.4M1367.4 794.4H1375.4M1404.2 779.1V774.9M1400.2 779.1H1408.2M1400.2 774.9H1408.2M1437.0 752.5V748.2M1433.0 752.5H1441.0M1433.0 748.2H1441.0M1469.7 743.6V739.3M1465.7 743.6H1473.7M1465.7 739.3H1473.7M1502.5 770.3V766.0M1498.5 770.3H1506.5M1498.5 766.0H1506.5M1535.2 798.7V794.4M1531.2 798.7H1539.2M1531.2 794.4H1539.2M1568.0 818.2V814.0M1564.0 818.2H1572.0M1564.0 814.0H1572.0M1600.7 827.1V822.9M1596.7 827.1H1604.7M1596.7 822.9H1604.7" stroke="#ee82ee" stroke-width="1.5" fill="none"/>
<polyline points="1240.4,828.6 1273.2,830.3 1305.9,825.0 1338.7,814.3 1371.4,796.6 1404.2,777.0 1437.0,750.3 1469.7,741.5 1502.5,768.1 1535.2,796.6 1568.0,816.1 1600.7,825.0" fill="none" stroke="#ee82ee" stroke-width="2.4" stroke-linejoin="round"/>
<path d="M1240.4 828.9V824.6M1236.4 828.9H1244.4M1236.4 824.6H1244.4M1273.2 830.7V826.4M1269.2 830.7H1277.2M1269.2 826.4H1277.2M1305.9 823.6V819.3M1301.9 823.6H1309.9M1301.9 819.3H1309.9M1338.7 812.9V808.6M1334.7 812.9H1342.7M1334.7 808.6H1342.7M1371.4 793.4V789.1M1367.4 793.4H1375.4M1367.4 789.1H1375.4M1404.2 770.3V766.0M1400.2 770.3H1408.2M1400.2 766.0H1408.2M1437.0 740.0V735.8M1433.0 740.0H1441.0M1433.0 735.8H1441.0M1469.7 731.2V726.9M1465.7 731.2H1473.7M1465.7 726.9H1473.7M1502.5 759.6V755.3M1498.5 759.6H1506.5M1498.5 755.3H1506.5M1535.2 793.4V789.1M1531.2 793.4H1539.2M1531.2 789.1H1539.2M1568.0 814.7V810.4M1564.0 814.7H1572.0M1564.0 810.4H1572.0M1600.7 825.4V821.1M1596.7 825.4H1604.7M1596.7 821.1H1604.7" stroke="#e8121a" stroke-width="1.5" fill="none"/>
<polyline points="1240.4,826.8 1273.2,828.6 1305.9,821.4 1338.7,810.8 1371.4,791.2 1404.2,768.1 1437.0,737.9 1469.7,729.0 1502.5,757.5 1535.2,791.2 1568.0,812.6 1600.7,823.2" fill="none" stroke="#e8121a" stroke-width="2.4" stroke-linejoin="round"/>
<path d="M1240.4 827.1V822.9M1236.4 827.1H1244.4M1236.4 822.9H1244.4M1273.2 827.8V823.6M1269.2 827.8H1277.2M1269.2 823.6H1277.2M1305.9 820.0V815.8M1301.9 820.0H1309.9M1301.9 815.8H1309.9M1338.7 804.0V799.8M1334.7 804.0H1342.7M1334.7 799.8H1342.7M1371.4 775.6V771.3M1367.4 775.6H1375.4M1367.4 771.3H1375.4M1404.2 748.9V744.7M1400.2 748.9H1408.2M1400.2 744.7H1408.2M1437.0 718.7V714.4M1433.0 718.7H1441.0M1433.0 714.4H1441.0M1469.7 706.3V702.0M1465.7 706.3H1473.7M1465.7 702.0H1473.7M1502.5 738.3V734.0M1498.5 738.3H1506.5M1498.5 734.0H1506.5M1535.2 777.4V773.1M1531.2 777.4H1539.2M1531.2 773.1H1539.2M1568.0 805.8V801.5M1564.0 805.8H1572.0M1564.0 801.5H1572.0M1600.7 820.0V815.8M1596.7 820.0H1604.7M1596.7 815.8H1604.7" stroke="#8b0000" stroke-width="1.5" fill="none"/>
<polyline points="1240.4,825.0 1273.2,825.7 1305.9,817.9 1338.7,801.9 1371.4,773.5 1404.2,746.8 1437.0,716.6 1469.7,704.1 1502.5,736.1 1535.2,775.2 1568.0,803.7 1600.7,817.9" fill="none" stroke="#8b0000" stroke-width="2.4" stroke-linejoin="round"/>
</g>
<rect x="1218.8" y="698.8" width="404.2" height="284.4" fill="none" stroke="#262626" stroke-width="1.5"/>
<path d="M1211.8 983.2H1218.8M1623.0 983.2H1630.0M1211.8 947.7H1218.8M1623.0 947.7H1630.0M1211.8 912.1H1218.8M1623.0 912.1H1630.0M1211.8 876.5H1218.8M1623.0 876.5H1630.0M1211.8 841.0H1218.8M1623.0 841.0H1630.0M1211.8 805.5H1218.8M1623.0 805.5H1630.0M1211.8 769.9H1218.8M1623.0 769.9H1630.0M1211.8 734.3H1218.8M1623.0 734.3H1630.0M1211.8 698.8H1218.8M1623.0 698.8H1630.0M1273.2 983.2V990.2M1338.7 983.2V990.2M1404.2 983.2V990.2M1469.7 983.2V990.2M1535.2 983.2V990.2M1600.7 983.2V990.2" stroke="#262626" stroke-width="1.3"/>
<text x="1206.3" y="989.4" text-anchor="end" font-size="17" fill="#2a2acf">−40</text>
<text x="1206.3" y="953.9" text-anchor="end" font-size="17" fill="#2a2acf">−30</text>
<text x="1206.3" y="918.3" text-anchor="end" font-size="17" fill="#2a2acf">−20</text>
<text x="1206.3" y="882.8" text-anchor="end" font-size="17" fill="#2a2acf">−10</text>
<text x="1206.3" y="847.2" text-anchor="end" font-size="17" fill="#2a2acf">0</text>
<text x="1206.3" y="811.7" text-anchor="end" font-size="17" fill="#2a2acf">10</text>
<text x="1206.3" y="776.1" text-anchor="end" font-size="17" fill="#2a2acf">20</text>
<text x="1206.3" y="740.5" text-anchor="end" font-size="17" fill="#2a2acf">30</text>
<text x="1206.3" y="705.0" text-anchor="end" font-size="17" fill="#2a2acf">40</text>
<text x="1633.5" y="705.0" font-size="17" fill="#d42a2a">400</text>
<text x="1633.5" y="740.5" font-size="17" fill="#d42a2a">300</text>
<text x="1633.5" y="776.1" font-size="17" fill="#d42a2a">200</text>
<text x="1633.5" y="811.7" font-size="17" fill="#d42a2a">100</text>
<text x="1633.5" y="847.2" font-size="17" fill="#d42a2a">0</text>
<text x="1633.5" y="882.8" font-size="17" fill="#d42a2a">−100</text>
<text x="1633.5" y="918.3" font-size="17" fill="#d42a2a">−200</text>
<text x="1633.5" y="953.9" font-size="17" fill="#d42a2a">−300</text>
<text x="1633.5" y="989.4" font-size="17" fill="#d42a2a">−400</text>
<text x="1272.4" y="1008.7" text-anchor="middle" font-size="17" fill="#222">2</text>
<text x="1337.9" y="1008.7" text-anchor="middle" font-size="17" fill="#222">4</text>
<text x="1403.4" y="1008.7" text-anchor="middle" font-size="17" fill="#222">6</text>
<text x="1468.9" y="1008.7" text-anchor="middle" font-size="17" fill="#222">8</text>
<text x="1534.4" y="1008.7" text-anchor="middle" font-size="17" fill="#222">10</text>
<text x="1599.9" y="1008.7" text-anchor="middle" font-size="17" fill="#222">12</text>
<text x="1418.9" y="1033.2" text-anchor="middle" font-size="17" fill="#222">Month</text>
<text transform="translate(1157.3,842.5) rotate(-90)" text-anchor="middle" font-size="17.1" fill="#2a2acf">Wind Power Change (%)</text>
<text transform="translate(1700.0,841.0) rotate(-90)" text-anchor="middle" font-size="17.1" fill="#d42a2a">CDD (deg days)</text>
<text x="1217.5" y="688.5" font-size="24.2" font-weight="bold" fill="#000">(d) E.Asia</text>
</g>
<rect x="59.1" y="1048.8" width="858" height="30.8" rx="4" fill="#fff" stroke="#d8d8d8" stroke-width="1.2"/>
<rect x="946.4" y="1048.8" width="695.5" height="30.8" rx="4" fill="#fff" stroke="#d8d8d8" stroke-width="1.2"/>
<path d="M64.3 1063.2H103.1M83.7 1054.2V1072.2M79.7 1054.2H87.7M79.7 1072.2H87.7" stroke="#ee82ee" stroke-width="2" fill="none"/>
<text x="116.8" y="1069.6" font-size="18" fill="#222">CDD 1981-2010: CESM</text>
<path d="M358.0 1063.2H396.8M377.4 1054.2V1072.2M373.4 1054.2H381.4M373.4 1072.2H381.4" stroke="#e8121a" stroke-width="2" fill="none"/>
<text x="410.5" y="1069.6" font-size="18" fill="#222">CDD 2021-2050: CESM</text>
<path d="M652.0 1063.2H690.8M671.4 1054.2V1072.2M667.4 1054.2H675.4M667.4 1072.2H675.4" stroke="#8b0000" stroke-width="2" fill="none"/>
<text x="704.5" y="1069.6" font-size="18" fill="#222">CDD 2071-2100: CESM</text>
<path d="M951.4 1063.2H990.2M970.8 1054.2V1072.2M966.8 1054.2H974.8M966.8 1072.2H974.8" stroke="#1010cc" stroke-width="2" fill="none"/>
<text x="1003.9" y="1069.6" font-size="18" fill="#222">Wind Power Change: CESM</text>
<path d="M1281.0 1063.2H1319.8M1300.4 1054.2V1072.2M1296.4 1054.2H1304.4M1296.4 1072.2H1304.4" stroke="#1fbad6" stroke-width="2" fill="none"/>
<text x="1333.5" y="1069.6" font-size="18" fill="#222">Wind Power Change: EC + SPEAR</text>
</svg>
</body></html>
